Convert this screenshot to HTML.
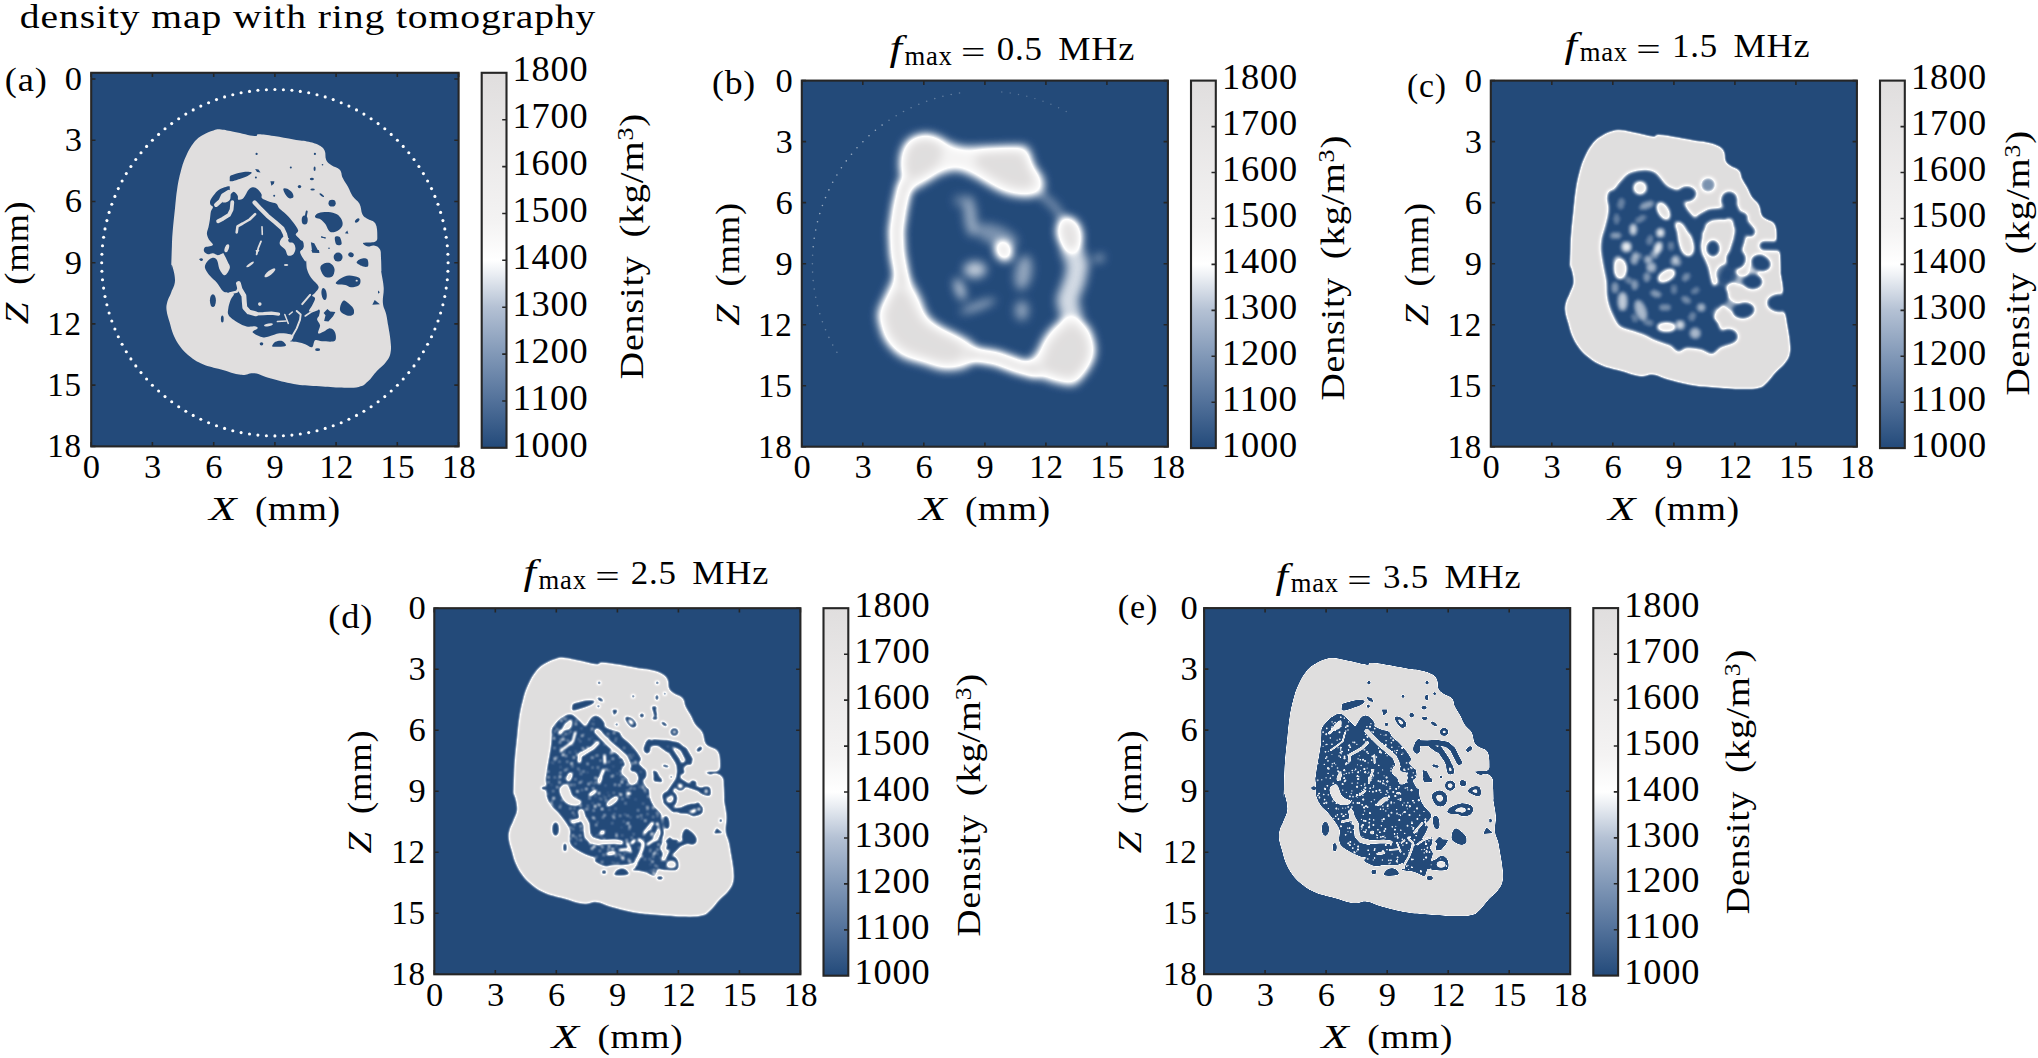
<!DOCTYPE html>
<html><head><meta charset="utf-8"><title>density map with ring tomography</title>
<style>html,body{margin:0;padding:0;background:#fff}svg{display:block}text{font-family:"Liberation Serif", serif;fill:#000;letter-spacing:0.8px}.bin .w{fill:#e0dede}.bin .k{fill:#234a7a}.bin .wl{stroke:#e0dede;fill:none;stroke-linecap:round;stroke-linejoin:round}.bin .kl{stroke:#234a7a;fill:none;stroke-linecap:round;stroke-linejoin:round}.bw .w,.bw .w circle{fill:#fff}.bwd .k{stroke:#000;stroke-width:2.2px;stroke-linejoin:round}.bwe .k{stroke:#000;stroke-width:1.6px;stroke-linejoin:round}.bw .k{fill:#000}.bw .wl{stroke:#fff;fill:none;stroke-linecap:round;stroke-linejoin:round}.bw .kl{stroke:#000;fill:none;stroke-linecap:round;stroke-linejoin:round}</style></head><body>
<svg width="2038" height="1058" viewBox="0 0 2038 1058">
<defs>
<linearGradient id="cb" x1="0" y1="1" x2="0" y2="0"><stop offset="0" stop-color="#234a7a"/><stop offset="0.125" stop-color="#52719a"/><stop offset="0.25" stop-color="#8198b7"/><stop offset="0.375" stop-color="#b4c1d4"/><stop offset="0.47" stop-color="#eef1f5"/><stop offset="0.5" stop-color="#ffffff"/><stop offset="0.6" stop-color="#f4f3f3"/><stop offset="1" stop-color="#e0dede"/></linearGradient>
<filter id="cmB" x="0" y="0" width="100%" height="100%" filterUnits="objectBoundingBox" color-interpolation-filters="sRGB"><feGaussianBlur stdDeviation="4.6"/><feComponentTransfer><feFuncR type="table" tableValues="0.1373 0.3529 0.5686 0.7843 1.0000 0.9696 0.9392 0.9088 0.8784"/><feFuncG type="table" tableValues="0.2902 0.4676 0.6451 0.8225 1.0000 0.9676 0.9353 0.9029 0.8706"/><feFuncB type="table" tableValues="0.4784 0.6088 0.7392 0.8696 1.0000 0.9676 0.9353 0.9029 0.8706"/></feComponentTransfer></filter>
<filter id="cmC" x="0" y="0" width="100%" height="100%" filterUnits="objectBoundingBox" color-interpolation-filters="sRGB"><feGaussianBlur stdDeviation="0.8"/><feComponentTransfer><feFuncR type="table" tableValues="0.1373 0.3529 0.5686 0.7843 1.0000 0.9696 0.9392 0.9088 0.8784"/><feFuncG type="table" tableValues="0.2902 0.4676 0.6451 0.8225 1.0000 0.9676 0.9353 0.9029 0.8706"/><feFuncB type="table" tableValues="0.4784 0.6088 0.7392 0.8696 1.0000 0.9676 0.9353 0.9029 0.8706"/></feComponentTransfer></filter>
<filter id="cmD" x="0" y="0" width="100%" height="100%" filterUnits="objectBoundingBox" color-interpolation-filters="sRGB"><feGaussianBlur stdDeviation="1.0"/><feComponentTransfer><feFuncR type="table" tableValues="0.1373 0.3529 0.5686 0.7843 1.0000 0.9696 0.9392 0.9088 0.8784"/><feFuncG type="table" tableValues="0.2902 0.4676 0.6451 0.8225 1.0000 0.9676 0.9353 0.9029 0.8706"/><feFuncB type="table" tableValues="0.4784 0.6088 0.7392 0.8696 1.0000 0.9676 0.9353 0.9029 0.8706"/></feComponentTransfer></filter>
<filter id="cmE" x="0" y="0" width="100%" height="100%" filterUnits="objectBoundingBox" color-interpolation-filters="sRGB"><feGaussianBlur stdDeviation="0.7"/><feComponentTransfer><feFuncR type="table" tableValues="0.1373 0.3529 0.5686 0.7843 1.0000 0.9696 0.9392 0.9088 0.8784"/><feFuncG type="table" tableValues="0.2902 0.4676 0.6451 0.8225 1.0000 0.9676 0.9353 0.9029 0.8706"/><feFuncB type="table" tableValues="0.4784 0.6088 0.7392 0.8696 1.0000 0.9676 0.9353 0.9029 0.8706"/></feComponentTransfer></filter>
<filter id="bl15" x="-10%" y="-10%" width="120%" height="120%"><feGaussianBlur stdDeviation="1.8"/></filter>
<clipPath id="clipa"><rect x="91.2" y="72.8" width="367.4" height="373.6"/></clipPath>
<clipPath id="clipb"><rect x="801.8" y="80.6" width="366.1" height="366.1"/></clipPath>
<clipPath id="clipc"><rect x="1490.8" y="80.6" width="366.1" height="366.1"/></clipPath>
<clipPath id="clipd"><rect x="434.3" y="608.2" width="366.1" height="366.1"/></clipPath>
<clipPath id="clipe"><rect x="1204.1" y="608.1" width="366.1" height="366.1"/></clipPath>
</defs>
<rect width="2038" height="1058" fill="#fff"/>
<text x="19.8" y="28.0" font-size="34.5" textLength="576.5" lengthAdjust="spacingAndGlyphs">density map with ring tomography</text>
<g id="panel-a">
<g clip-path="url(#clipa)">
<rect x="91.2" y="72.8" width="367.4" height="373.6" fill="#234a7a"/>
<g transform="translate(91.2 79.0)" style="--w:#e0dede;--k:#234a7a" class="bin">
<path class="w" d="M80.0 191.0C80.0 187.2 80.4 174.9 80.7 167.1C81.0 159.3 80.9 159.6 81.5 152.0C82.1 144.4 82.9 137.8 83.8 129.3C84.7 120.8 84.8 117.3 86.0 109.7C87.2 102.1 88.0 98.2 89.8 91.5C91.6 84.8 92.5 82.0 95.1 76.4C97.7 70.8 99.4 67.6 102.7 63.5C106.0 59.4 107.8 58.4 111.7 56.0C115.6 53.6 118.7 52.5 122.3 51.4C125.9 50.3 125.7 50.1 129.9 50.4C134.1 50.7 136.8 51.6 143.5 52.9C150.2 54.2 158.4 56.5 163.2 57.0C168.0 57.5 163.8 55.2 167.7 55.2C171.6 55.2 175.8 55.9 182.8 57.0C189.8 58.1 195.5 59.3 202.5 60.5C209.5 61.7 212.5 61.6 217.6 62.8C222.7 64.0 225.0 64.7 228.2 66.5C231.4 68.3 232.1 68.9 233.5 71.8C234.9 74.7 233.6 78.0 235.0 80.9C236.4 83.8 237.6 84.2 240.3 86.2C243.0 88.2 246.3 88.1 248.6 90.7C250.9 93.3 249.9 95.6 251.6 99.1C253.3 102.6 254.9 104.5 256.9 108.1C258.9 111.7 259.2 113.9 261.5 117.2C263.8 120.5 266.3 121.2 268.3 124.8C270.3 128.4 269.6 132.4 271.3 135.4C273.0 138.4 274.0 138.1 276.6 139.9C279.2 141.7 282.3 141.1 284.2 144.4C286.1 147.7 286.1 152.9 286.1 156.5C286.1 160.1 286.5 161.2 284.2 162.6C281.9 164.0 277.3 163.1 274.8 163.5C272.3 163.9 271.4 163.7 271.8 164.5C272.2 165.3 274.6 167.1 276.8 167.5C279.0 167.9 280.4 166.0 282.8 166.5C285.2 167.0 287.3 167.7 288.7 170.2C290.1 172.7 289.5 174.8 289.8 179.0C290.1 183.2 290.1 188.1 290.2 191.0C290.3 193.9 289.7 190.1 290.2 193.7C290.7 197.3 292.2 202.8 292.5 208.8C292.8 214.8 291.2 218.8 291.7 223.9C292.2 229.0 293.7 230.0 294.8 234.5C295.9 239.0 296.1 241.1 297.0 246.6C297.9 252.1 298.8 256.3 299.3 261.8C299.8 267.3 300.2 269.7 299.3 273.9C298.4 278.1 297.5 279.3 294.8 282.9C292.1 286.5 289.3 288.1 285.7 292.0C282.1 295.9 280.2 299.4 276.6 302.6C273.0 305.8 273.2 306.7 267.5 307.9C261.8 309.1 256.4 308.8 247.9 308.6C239.4 308.4 234.3 307.8 225.2 307.1C216.1 306.4 211.6 306.4 202.5 304.9C193.4 303.4 187.7 301.7 179.8 299.6C171.9 297.5 169.2 295.1 163.2 294.3C157.2 293.5 156.3 296.6 149.6 295.8C142.9 295.0 137.5 292.6 129.9 290.5C122.3 288.4 118.1 287.9 111.7 285.2C105.3 282.5 102.6 280.4 98.1 276.9C93.6 273.4 92.3 272.0 89.1 267.8C85.9 263.6 84.3 260.5 82.2 255.7C80.1 250.9 79.9 248.4 78.5 243.6C77.1 238.8 75.9 235.7 75.4 231.5C74.9 227.3 75.3 226.0 76.2 222.4C77.1 218.8 78.5 217.6 80.0 213.4C81.5 209.2 83.7 206.8 83.8 201.3C83.9 195.8 81.5 188.2 80.7 186.1C79.9 184.0 80.0 194.8 80.0 191.0Z"/>
<path class="k" d="M161.4 108.3C162.8 108.1 164.4 108.6 165.8 109.8C167.3 110.9 169.5 113.7 170.3 115.2C171.1 116.8 169.5 118.0 170.8 119.2C172.1 120.4 175.9 121.8 178.3 122.7C180.6 123.6 183.5 123.5 185.2 124.7C186.9 125.8 186.5 127.8 188.2 129.6C189.8 131.4 192.8 133.3 195.1 135.6C197.4 137.9 200.1 140.9 202.1 143.5C204.0 146.2 206.6 149.5 207.0 151.4C207.4 153.4 204.4 154.1 204.5 155.4C204.7 156.7 206.9 158.1 208.0 159.4C209.1 160.7 210.3 161.9 211.0 163.3C211.7 164.8 212.3 166.8 212.0 168.3C211.7 169.8 209.3 171.0 209.0 172.3C208.7 173.6 209.2 174.6 210.0 176.2C210.8 177.9 213.1 181.3 214.0 182.2C214.8 183.1 214.6 180.5 215.0 181.9C215.3 183.4 215.1 188.0 216.0 190.8C216.8 193.7 218.0 196.0 219.9 198.8C221.8 201.6 226.7 205.2 227.4 207.7C228.0 210.2 225.0 212.2 223.9 213.7C222.8 215.2 220.9 215.6 220.9 216.6C220.9 217.6 223.9 218.0 223.9 219.6C223.9 221.3 221.9 224.4 220.9 226.6C219.9 228.7 216.8 231.9 217.9 232.5C219.1 233.2 226.2 229.9 227.9 230.5C229.5 231.2 228.2 234.8 227.9 236.5C227.5 238.1 225.7 238.8 225.9 240.5C226.0 242.1 228.7 244.1 228.9 246.4C229.0 248.7 226.2 253.3 226.9 254.3C227.5 255.3 231.0 253.2 232.8 252.4C234.6 251.5 236.1 249.5 237.8 249.4C239.4 249.2 241.6 250.0 242.7 251.4C243.9 252.7 244.7 255.5 244.7 257.3C244.7 259.1 245.1 261.5 242.7 262.3C240.4 263.1 234.0 262.4 230.8 262.3C227.7 262.1 225.5 260.3 223.9 261.3C222.2 262.3 222.6 267.6 220.9 268.2C219.3 268.9 216.3 266.1 214.0 265.3C211.7 264.4 209.5 263.8 207.0 263.3C204.5 262.8 199.9 263.1 199.1 262.3C198.3 261.5 202.1 259.5 202.1 258.3C202.1 257.2 201.4 256.0 199.1 255.3C196.8 254.7 191.6 254.0 188.2 254.3C184.7 254.7 181.1 256.7 178.3 257.3C175.4 258.0 174.1 259.0 171.3 258.3C168.5 257.6 162.2 254.8 161.4 253.3C160.6 251.9 165.8 250.4 166.3 249.4C166.8 248.4 166.2 247.7 164.4 247.4C162.5 247.1 158.4 248.1 155.4 247.4C152.5 246.7 149.5 245.2 146.5 243.4C143.5 241.6 139.1 238.8 137.6 236.5C136.0 234.2 136.7 232.2 137.1 229.5C137.4 226.9 138.6 223.1 139.6 220.6C140.5 218.1 143.7 216.0 142.5 214.7C141.4 213.3 135.4 214.5 132.6 212.7C129.8 210.9 128.0 206.4 125.7 203.7C123.4 201.1 120.7 199.3 118.7 196.8C116.7 194.3 114.3 191.2 113.8 188.9C113.3 186.5 114.6 184.6 115.7 182.9C116.9 181.3 119.1 179.3 120.7 178.9C122.4 178.6 124.3 178.9 125.7 180.9C127.0 182.9 127.3 188.3 128.6 190.8C130.0 193.4 132.0 196.6 133.6 196.3C135.3 196.0 138.1 191.1 138.6 188.9C139.1 186.6 137.6 185.2 136.6 182.9C135.6 180.6 133.4 176.4 132.6 175.0C131.8 173.5 132.6 174.1 131.6 174.3C130.6 174.5 128.3 176.2 126.7 176.2C125.0 176.2 123.4 174.4 121.7 174.3C120.0 174.1 118.2 175.6 116.7 175.3C115.2 174.9 113.3 173.4 112.8 172.3C112.3 171.1 112.8 169.1 113.8 168.3C114.8 167.5 117.4 167.8 118.7 167.3C120.0 166.8 121.9 166.5 121.7 165.3C121.5 164.2 118.7 162.2 117.7 160.4C116.7 158.6 115.8 156.4 115.7 154.4C115.7 152.4 116.7 150.8 117.2 148.5C117.7 146.2 118.3 143.2 118.7 140.5C119.1 137.9 119.2 134.7 119.7 132.6C120.2 130.5 121.8 129.3 121.7 128.1C121.6 127.0 119.6 126.8 119.2 125.6C118.8 124.5 118.5 123.0 119.2 121.2C120.0 119.4 122.1 116.6 123.7 114.7C125.3 112.9 126.3 111.5 128.6 110.3C131.0 109.0 135.9 107.4 137.6 107.3C139.2 107.2 138.4 108.4 138.6 109.8C138.7 111.2 137.9 115.2 138.6 115.7C139.2 116.2 141.2 112.6 142.5 112.7C143.9 112.9 145.8 115.4 146.5 116.7C147.2 118.0 146.2 120.2 147.0 120.7C147.8 121.2 150.2 120.5 151.5 119.7C152.7 118.9 153.4 117.2 154.4 115.7C155.4 114.2 156.3 112.0 157.4 110.8C158.6 109.5 160.0 108.4 161.4 108.3Z"/>
<polyline class="wl" points="147.3,204.5 148.7,209.9 152.7,216.8 153.1,222.8 153.6,228.5 157.6,233.0 164.6,234.8" stroke-width="4.9"/>
<polyline class="wl" points="164.6,234.8 172.3,234.6 180.2,234.1 187.4,235.1" stroke-width="3.2"/>
<polyline class="wl" points="138.6,214.3 145.7,212.7 148.0,208.7" stroke-width="2.4"/>
<polyline class="wl" points="124.9,125.8 129.4,121.9 131.8,116.5 137.4,112.9" stroke-width="4.2"/>
<path class="w" d="M131.8 115.7C133.0 113.8 137.1 110.9 138.4 111.6C139.6 112.2 139.6 117.6 139.2 119.5C138.7 121.4 137.1 122.3 135.8 122.9C134.4 123.4 131.8 124.1 131.1 122.9C130.5 121.7 130.6 117.6 131.8 115.7Z"/>
<polyline class="wl" points="141.1,123.2 140.4,130.6 137.8,135.8 131.8,139.7 126.9,142.3" stroke-width="3.8"/>
<polyline class="wl" points="163.4,123.5 168.3,128.8 176.3,136.8 184.2,143.3 191.0,149.3 193.7,154.9 195.1,160.4" stroke-width="4.3"/>
<path class="w" d="M189.7 160.4C190.5 159.0 192.5 157.3 193.9 157.2C195.3 157.1 196.6 158.6 198.1 159.9C199.6 161.2 202.0 163.4 203.1 165.1C204.1 166.9 204.4 168.6 204.2 170.3C204.0 172.0 203.1 174.4 201.9 175.5C200.6 176.5 197.9 177.3 196.6 176.4C195.3 175.6 195.3 172.3 193.9 170.5C192.6 168.7 189.4 167.2 188.7 165.5C188.0 163.8 188.8 161.8 189.7 160.4Z"/>
<path class="k" d="M197.1 160.4C197.6 159.6 199.3 158.9 201.1 158.9C202.9 158.9 206.4 159.5 208.0 160.4C209.7 161.2 210.3 162.5 211.0 163.8C211.7 165.2 212.3 167.0 212.0 168.3C211.7 169.6 210.1 171.5 209.0 171.8C207.9 172.1 206.4 171.2 205.5 170.3C204.7 169.4 204.7 167.4 204.0 166.3C203.4 165.3 202.6 164.3 201.6 163.8C200.6 163.3 198.8 163.9 198.1 163.3C197.4 162.8 196.6 161.1 197.1 160.4Z"/>
<polyline class="wl" points="163.9,135.1 158.4,140.5 151.5,144.5 146.3,147.3 145.5,153.4" stroke-width="2.6"/>
<polyline class="wl" points="170.8,147.7 171.1,155.4" stroke-width="1.6"/>
<polyline class="wl" points="169.8,162.4 167.3,168.3 165.4,175.3" stroke-width="1.8"/>
<ellipse class="w" cx="135.6" cy="169.3" rx="2.0" ry="4.2" transform="rotate(20 135.6 169.3)"/>
<ellipse class="w" cx="158.9" cy="185.4" rx="4.5" ry="1.2" transform="rotate(-35 158.9 185.4)"/>
<ellipse class="w" cx="194.9" cy="185.9" rx="2.2" ry="1.0"/>
<ellipse class="w" cx="178.7" cy="193.8" rx="6.7" ry="2.2" transform="rotate(-38 178.7 193.8)"/>
<ellipse class="w" cx="168.6" cy="225.1" rx="1.8" ry="1.8"/>
<ellipse class="w" cx="177.3" cy="245.9" rx="4.5" ry="1.3" transform="rotate(-10 177.3 245.9)"/>
<polyline class="wl" points="211.0,225.1 218.9,215.8" stroke-width="2.0"/>
<polyline class="wl" points="214.0,237.0 219.9,233.0 226.4,230.5" stroke-width="1.6"/>
<polyline class="wl" points="205.5,232.0 209.5,235.5 208.8,240.9 205.5,249.4 201.6,256.3 199.6,260.8" stroke-width="1.9"/>
<polyline class="wl" points="193.6,235.5 197.1,244.4" stroke-width="1.5"/>
<polyline class="wl" points="186.2,242.6 195.1,241.9" stroke-width="1.5"/>
<polyline class="wl" points="201.1,233.0 198.1,235.5" stroke-width="1.5"/>
<polygon class="w" points="164.4,171.0 168.3,171.0 165.4,175.5"/>
<path class="k" d="M139.1 96.9C139.7 96.1 140.3 96.0 142.5 95.4C144.8 94.7 149.5 93.2 152.5 92.9C155.4 92.6 159.7 92.7 160.4 93.4C161.1 94.1 158.4 95.8 156.4 96.9C154.4 97.9 151.3 98.9 148.5 99.9C145.7 100.8 141.2 102.3 139.6 102.3C137.9 102.3 138.6 100.8 138.6 99.9C138.5 98.9 138.4 97.6 139.1 96.9Z"/>
<polygon class="k" points="163.9,89.9 167.3,90.4 169.3,93.4 165.8,92.9"/>
<ellipse class="k" cx="164.7" cy="98.4" rx="1.0" ry="1.0"/>
<polygon class="k" points="179.2,102.3 183.2,102.3 182.7,104.8 180.2,106.8"/>
<ellipse class="k" cx="183.0" cy="116.7" rx="1.0" ry="1.0"/>
<path class="k" d="M192.1 109.8C192.5 108.9 194.6 109.1 196.1 109.8C197.6 110.4 200.1 112.3 201.1 113.7C202.1 115.1 202.6 117.3 202.1 118.2C201.6 119.1 199.4 119.7 198.1 119.2C196.8 118.7 195.1 116.8 194.1 115.2C193.1 113.7 191.8 110.7 192.1 109.8Z"/>
<ellipse class="k" cx="199.6" cy="88.4" rx="1.0" ry="1.0"/>
<ellipse class="k" cx="223.4" cy="89.7" rx="1.0" ry="2.2"/>
<ellipse class="k" cx="220.7" cy="100.0" rx="2.0" ry="1.2"/>
<ellipse class="k" cx="208.3" cy="107.6" rx="1.7" ry="1.7"/>
<ellipse class="k" cx="221.4" cy="110.5" rx="2.2" ry="1.0"/>
<ellipse class="k" cx="230.6" cy="116.2" rx="2.8" ry="1.0" transform="rotate(35 230.6 116.2)"/>
<ellipse class="k" cx="231.3" cy="85.8" rx="0.8" ry="0.8"/>
<ellipse class="k" cx="213.5" cy="141.0" rx="3.0" ry="4.5"/>
<polyline class="kl" points="215.5,132.6 214.5,137.6" stroke-width="2.0"/>
<polyline class="kl" points="230.3,157.9 234.3,158.9" stroke-width="1.0"/>
<ellipse class="k" cx="237.8" cy="169.3" rx="0.8" ry="0.8"/>
<path class="k" d="M223.9 136.8C224.4 135.9 225.5 134.6 227.7 133.9C229.9 133.3 234.2 132.7 237.2 133.0C240.1 133.2 243.5 134.1 245.7 135.3C247.9 136.6 249.4 138.7 250.4 140.5C251.3 142.4 251.8 144.5 251.3 146.2C250.9 148.0 249.3 149.8 247.6 150.9C245.8 152.1 242.7 153.3 240.9 153.3C239.2 153.3 238.3 152.3 237.2 150.9C236.1 149.6 235.6 147.0 234.3 145.3C233.1 143.5 231.2 141.6 229.6 140.5C228.0 139.5 225.8 139.8 224.9 139.1C223.9 138.5 223.5 137.6 223.9 136.8Z"/>
<ellipse class="k" cx="240.9" cy="124.2" rx="3.6" ry="3.4"/>
<ellipse class="k" cx="266.0" cy="141.5" rx="2.8" ry="1.5" transform="rotate(-40 266.0 141.5)"/>
<polygon class="k" points="253.7,154.3 256.1,151.4 257.2,154.7"/>
<ellipse class="k" cx="232.0" cy="158.5" rx="2.4" ry="0.6" transform="rotate(15 232.0 158.5)"/>
<path class="k" d="M243.8 158.0C244.3 156.8 247.4 156.9 248.5 158.0C249.6 159.2 250.9 163.9 250.4 165.1C249.8 166.4 246.3 166.8 245.2 165.6C244.1 164.4 243.2 159.3 243.8 158.0Z"/>
<polygon class="k" points="219.7,163.2 223.0,164.2 228.2,174.1 221.1,173.6"/>
<ellipse class="k" cx="209.9" cy="166.1" rx="2.6" ry="4.7"/>
<polygon class="k" points="220.1,171.0 227.7,171.0 228.2,173.8 221.1,173.4"/>
<ellipse class="k" cx="246.9" cy="178.1" rx="4.5" ry="4.5"/>
<ellipse class="k" cx="259.8" cy="175.7" rx="2.8" ry="2.4" transform="rotate(20 259.8 175.7)"/>
<path class="k" d="M265.5 183.8C265.0 182.5 267.6 180.6 269.3 180.0C271.0 179.3 274.6 178.8 275.9 180.0C277.2 181.2 277.5 185.8 276.9 187.1C276.2 188.3 274.0 188.1 272.1 187.5C270.2 187.0 266.0 185.0 265.5 183.8Z"/>
<path class="k" d="M229.1 189.0C229.0 186.8 230.8 185.5 232.4 184.7C234.1 183.9 237.2 183.4 239.0 184.2C240.9 185.1 243.0 187.7 243.3 189.9C243.6 192.1 242.6 196.2 240.9 197.5C239.3 198.7 235.3 198.9 233.4 197.5C231.4 196.0 229.3 191.1 229.1 189.0Z"/>
<path class="k" d="M244.7 203.6C245.2 202.6 247.2 200.5 249.4 199.4C251.6 198.2 255.0 196.7 257.9 196.5C260.9 196.4 265.5 197.5 267.4 198.4C269.3 199.4 269.3 200.9 269.3 202.2C269.3 203.5 269.0 205.4 267.4 206.4C265.8 207.5 262.0 208.4 259.8 208.3C257.6 208.3 256.4 206.4 254.2 206.0C252.0 205.5 248.2 205.9 246.6 205.5C245.0 205.1 244.2 204.6 244.7 203.6Z"/>
<ellipse class="w" cx="265.5" cy="201.7" rx="1.1" ry="0.9"/>
<ellipse class="k" cx="232.9" cy="215.0" rx="2.6" ry="6.1" transform="rotate(-8 232.9 215.0)"/>
<path class="k" d="M251.3 222.5C252.2 221.6 252.4 221.0 254.2 222.0C255.9 223.1 260.3 226.6 261.7 228.7C263.1 230.7 263.0 233.0 262.7 234.3C262.4 235.7 261.1 236.4 259.8 236.7C258.6 237.0 256.8 236.9 255.1 236.2C253.4 235.5 250.5 233.9 249.4 232.4C248.4 231.0 248.7 229.4 249.0 227.7C249.3 226.1 250.5 223.5 251.3 222.5Z"/>
<polygon class="k" points="283.5,221.1 288.7,225.3 281.1,225.8"/>
<polygon class="k" points="286.8,211.6 288.7,213.2 286.8,214.7"/>
<polygon class="k" points="236.2,230.1 239.0,232.4 244.2,232.9 241.9,237.2 237.2,242.4 232.9,241.9 234.3,236.2 232.4,233.9"/>
<ellipse class="k" cx="121.7" cy="221.6" rx="3.0" ry="6.4"/>
<ellipse class="k" cx="131.1" cy="240.0" rx="1.4" ry="3.5"/>
<ellipse class="k" cx="170.3" cy="264.8" rx="1.8" ry="1.6"/>
<path class="k" d="M181.2 266.2C181.6 265.4 182.7 263.5 184.2 262.8C185.7 262.0 188.5 261.5 190.2 261.8C191.8 262.1 193.5 263.8 194.1 264.8C194.7 265.7 195.6 266.7 193.6 267.2C191.6 267.7 184.3 267.9 182.2 267.7C180.2 267.6 180.9 267.1 181.2 266.2Z"/>
<ellipse class="k" cx="226.4" cy="270.7" rx="2.5" ry="1.4"/>
<ellipse class="k" cx="109.8" cy="180.4" rx="1.8" ry="0.8"/>
<ellipse class="k" cx="110.2" cy="180.7" rx="1.4" ry="1.2"/>
<ellipse class="k" cx="165.4" cy="74.9" rx="1.1" ry="1.1"/>
<ellipse class="k" cx="223.7" cy="74.9" rx="1.1" ry="1.1"/>
</g>
<g fill="#fff" opacity="1.0"><circle cx="448.1" cy="262.7" r="1.55"/><circle cx="447.9" cy="271.2" r="1.55"/><circle cx="447.3" cy="279.7" r="1.55"/><circle cx="446.2" cy="288.1" r="1.55"/><circle cx="444.8" cy="296.5" r="1.55"/><circle cx="442.9" cy="304.8" r="1.55"/><circle cx="440.6" cy="313.0" r="1.55"/><circle cx="438.0" cy="321.0" r="1.55"/><circle cx="434.9" cy="329.0" r="1.55"/><circle cx="431.5" cy="336.7" r="1.55"/><circle cx="427.6" cy="344.3" r="1.55"/><circle cx="423.4" cy="351.7" r="1.55"/><circle cx="418.9" cy="358.9" r="1.55"/><circle cx="414.0" cy="365.9" r="1.55"/><circle cx="408.8" cy="372.6" r="1.55"/><circle cx="403.2" cy="379.0" r="1.55"/><circle cx="397.4" cy="385.2" r="1.55"/><circle cx="391.2" cy="391.0" r="1.55"/><circle cx="384.8" cy="396.6" r="1.55"/><circle cx="378.1" cy="401.8" r="1.55"/><circle cx="371.1" cy="406.7" r="1.55"/><circle cx="363.9" cy="411.2" r="1.55"/><circle cx="356.5" cy="415.4" r="1.55"/><circle cx="348.9" cy="419.3" r="1.55"/><circle cx="341.2" cy="422.7" r="1.55"/><circle cx="333.2" cy="425.8" r="1.55"/><circle cx="325.2" cy="428.4" r="1.55"/><circle cx="317.0" cy="430.7" r="1.55"/><circle cx="308.7" cy="432.6" r="1.55"/><circle cx="300.3" cy="434.0" r="1.55"/><circle cx="291.9" cy="435.1" r="1.55"/><circle cx="283.4" cy="435.7" r="1.55"/><circle cx="274.9" cy="435.9" r="1.55"/><circle cx="266.4" cy="435.7" r="1.55"/><circle cx="257.9" cy="435.1" r="1.55"/><circle cx="249.5" cy="434.0" r="1.55"/><circle cx="241.1" cy="432.6" r="1.55"/><circle cx="232.8" cy="430.7" r="1.55"/><circle cx="224.6" cy="428.4" r="1.55"/><circle cx="216.5" cy="425.8" r="1.55"/><circle cx="208.6" cy="422.7" r="1.55"/><circle cx="200.8" cy="419.3" r="1.55"/><circle cx="193.2" cy="415.4" r="1.55"/><circle cx="185.8" cy="411.2" r="1.55"/><circle cx="178.7" cy="406.7" r="1.55"/><circle cx="171.7" cy="401.8" r="1.55"/><circle cx="165.0" cy="396.6" r="1.55"/><circle cx="158.6" cy="391.0" r="1.55"/><circle cx="152.4" cy="385.2" r="1.55"/><circle cx="146.6" cy="379.0" r="1.55"/><circle cx="141.0" cy="372.6" r="1.55"/><circle cx="135.8" cy="365.9" r="1.55"/><circle cx="130.9" cy="358.9" r="1.55"/><circle cx="126.3" cy="351.7" r="1.55"/><circle cx="122.1" cy="344.3" r="1.55"/><circle cx="118.3" cy="336.7" r="1.55"/><circle cx="114.9" cy="329.0" r="1.55"/><circle cx="111.8" cy="321.0" r="1.55"/><circle cx="109.1" cy="313.0" r="1.55"/><circle cx="106.9" cy="304.8" r="1.55"/><circle cx="105.0" cy="296.5" r="1.55"/><circle cx="103.6" cy="288.1" r="1.55"/><circle cx="102.5" cy="279.7" r="1.55"/><circle cx="101.9" cy="271.2" r="1.55"/><circle cx="101.7" cy="262.7" r="1.55"/><circle cx="101.9" cy="254.2" r="1.55"/><circle cx="102.5" cy="245.7" r="1.55"/><circle cx="103.6" cy="237.3" r="1.55"/><circle cx="105.0" cy="228.9" r="1.55"/><circle cx="106.9" cy="220.6" r="1.55"/><circle cx="109.1" cy="212.4" r="1.55"/><circle cx="111.8" cy="204.3" r="1.55"/><circle cx="114.9" cy="196.4" r="1.55"/><circle cx="118.3" cy="188.6" r="1.55"/><circle cx="122.1" cy="181.0" r="1.55"/><circle cx="126.3" cy="173.6" r="1.55"/><circle cx="130.9" cy="166.5" r="1.55"/><circle cx="135.8" cy="159.5" r="1.55"/><circle cx="141.0" cy="152.8" r="1.55"/><circle cx="146.6" cy="146.4" r="1.55"/><circle cx="152.4" cy="140.2" r="1.55"/><circle cx="158.6" cy="134.4" r="1.55"/><circle cx="165.0" cy="128.8" r="1.55"/><circle cx="171.7" cy="123.6" r="1.55"/><circle cx="178.7" cy="118.7" r="1.55"/><circle cx="185.8" cy="114.1" r="1.55"/><circle cx="193.2" cy="109.9" r="1.55"/><circle cx="200.8" cy="106.1" r="1.55"/><circle cx="208.6" cy="102.7" r="1.55"/><circle cx="216.5" cy="99.6" r="1.55"/><circle cx="224.6" cy="96.9" r="1.55"/><circle cx="232.8" cy="94.7" r="1.55"/><circle cx="241.1" cy="92.8" r="1.55"/><circle cx="249.5" cy="91.4" r="1.55"/><circle cx="257.9" cy="90.3" r="1.55"/><circle cx="266.4" cy="89.7" r="1.55"/><circle cx="274.9" cy="89.5" r="1.55"/><circle cx="283.4" cy="89.7" r="1.55"/><circle cx="291.9" cy="90.3" r="1.55"/><circle cx="300.3" cy="91.4" r="1.55"/><circle cx="308.7" cy="92.8" r="1.55"/><circle cx="317.0" cy="94.7" r="1.55"/><circle cx="325.2" cy="96.9" r="1.55"/><circle cx="333.2" cy="99.6" r="1.55"/><circle cx="341.2" cy="102.7" r="1.55"/><circle cx="348.9" cy="106.1" r="1.55"/><circle cx="356.5" cy="109.9" r="1.55"/><circle cx="363.9" cy="114.1" r="1.55"/><circle cx="371.1" cy="118.7" r="1.55"/><circle cx="378.1" cy="123.6" r="1.55"/><circle cx="384.8" cy="128.8" r="1.55"/><circle cx="391.2" cy="134.4" r="1.55"/><circle cx="397.4" cy="140.2" r="1.55"/><circle cx="403.2" cy="146.4" r="1.55"/><circle cx="408.8" cy="152.8" r="1.55"/><circle cx="414.0" cy="159.5" r="1.55"/><circle cx="418.9" cy="166.5" r="1.55"/><circle cx="423.4" cy="173.6" r="1.55"/><circle cx="427.6" cy="181.0" r="1.55"/><circle cx="431.5" cy="188.6" r="1.55"/><circle cx="434.9" cy="196.4" r="1.55"/><circle cx="438.0" cy="204.3" r="1.55"/><circle cx="440.6" cy="212.4" r="1.55"/><circle cx="442.9" cy="220.6" r="1.55"/><circle cx="444.8" cy="228.9" r="1.55"/><circle cx="446.2" cy="237.3" r="1.55"/><circle cx="447.3" cy="245.7" r="1.55"/><circle cx="447.9" cy="254.2" r="1.55"/></g>
</g>
<path d="M91.2 446.4v-4.3M91.2 72.8v4.3M91.2 79.0h4.3M458.6 79.0h-4.3M152.4 446.4v-4.3M152.4 72.8v4.3M91.2 140.2h4.3M458.6 140.2h-4.3M213.7 446.4v-4.3M213.7 72.8v4.3M91.2 201.5h4.3M458.6 201.5h-4.3M274.9 446.4v-4.3M274.9 72.8v4.3M91.2 262.7h4.3M458.6 262.7h-4.3M336.1 446.4v-4.3M336.1 72.8v4.3M91.2 323.9h4.3M458.6 323.9h-4.3M397.3 446.4v-4.3M397.3 72.8v4.3M91.2 385.1h4.3M458.6 385.1h-4.3M458.6 446.4v-4.3M458.6 72.8v4.3M91.2 446.4h4.3M458.6 446.4h-4.3" stroke="#262626" stroke-width="1.6" fill="none"/>
<rect x="91.2" y="72.8" width="367.4" height="373.6" fill="none" stroke="#262626" stroke-width="2.1"/>
<text x="64.7" y="89.9" font-size="34.5">0</text>
<text x="82.8" y="477.9" font-size="34.5">0</text>
<text x="64.7" y="151.1" font-size="34.5">3</text>
<text x="144.0" y="477.9" font-size="34.5">3</text>
<text x="64.7" y="212.4" font-size="34.5">6</text>
<text x="205.3" y="477.9" font-size="34.5">6</text>
<text x="64.7" y="273.6" font-size="34.5">9</text>
<text x="266.5" y="477.9" font-size="34.5">9</text>
<text x="47.3" y="334.8" font-size="34.5" textLength="34.6" lengthAdjust="spacingAndGlyphs">12</text>
<text x="319.4" y="477.9" font-size="34.5" textLength="34.6" lengthAdjust="spacingAndGlyphs">12</text>
<text x="47.3" y="396.0" font-size="34.5" textLength="34.6" lengthAdjust="spacingAndGlyphs">15</text>
<text x="380.6" y="477.9" font-size="34.5" textLength="34.6" lengthAdjust="spacingAndGlyphs">15</text>
<text x="47.3" y="457.3" font-size="34.5" textLength="34.6" lengthAdjust="spacingAndGlyphs">18</text>
<text x="441.9" y="477.9" font-size="34.5" textLength="34.6" lengthAdjust="spacingAndGlyphs">18</text>
<text x="208.9" y="519.9" font-size="34.5" font-style="italic" textLength="28.5" lengthAdjust="spacingAndGlyphs">X</text>
<text x="254.9" y="519.9" font-size="34.5" textLength="86" lengthAdjust="spacingAndGlyphs">(mm)</text>
<text transform="translate(28.2 324.2) rotate(-90)" font-size="34.5" font-style="italic" textLength="22.5" lengthAdjust="spacingAndGlyphs">Z</text>
<text transform="translate(28.2 284.8) rotate(-90)" font-size="34.5" textLength="84.4" lengthAdjust="spacingAndGlyphs">(mm)</text>
<text x="4.8" y="91.4" font-size="34.5" textLength="42.8" lengthAdjust="spacingAndGlyphs">(a)</text>
<rect x="481.7" y="72.8" width="24.8" height="375.0" fill="url(#cb)" stroke="#262626" stroke-width="2.1"/>
<text x="512.6" y="81.4" font-size="35.3" textLength="76.0" lengthAdjust="spacingAndGlyphs">1800</text>
<text x="512.6" y="128.3" font-size="35.3" textLength="76.0" lengthAdjust="spacingAndGlyphs">1700</text>
<text x="512.6" y="175.2" font-size="35.3" textLength="76.0" lengthAdjust="spacingAndGlyphs">1600</text>
<text x="512.6" y="222.1" font-size="35.3" textLength="76.0" lengthAdjust="spacingAndGlyphs">1500</text>
<text x="512.6" y="268.9" font-size="35.3" textLength="76.0" lengthAdjust="spacingAndGlyphs">1400</text>
<text x="512.6" y="315.8" font-size="35.3" textLength="76.0" lengthAdjust="spacingAndGlyphs">1300</text>
<text x="512.6" y="362.7" font-size="35.3" textLength="76.0" lengthAdjust="spacingAndGlyphs">1200</text>
<text x="512.6" y="409.6" font-size="35.3" textLength="76.0" lengthAdjust="spacingAndGlyphs">1100</text>
<text x="512.6" y="456.5" font-size="35.3" textLength="76.0" lengthAdjust="spacingAndGlyphs">1000</text>
<path d="M506.5 119.7h-4.3M506.5 166.6h-4.3M506.5 213.5h-4.3M506.5 260.3h-4.3M506.5 307.2h-4.3M506.5 354.1h-4.3M506.5 401.0h-4.3" stroke="#262626" stroke-width="1.6" fill="none"/>
<text transform="translate(642.5 379.3) rotate(-90)" font-size="34.5" textLength="124.0" lengthAdjust="spacingAndGlyphs">Density</text>
<text transform="translate(642.5 237.5) rotate(-90)" font-size="34.5" textLength="124.7" lengthAdjust="spacingAndGlyphs">(kg/m<tspan font-size="23" dy="-9.5">3</tspan><tspan dy="9.5">)</tspan></text>
</g>
<g id="panel-b">
<g clip-path="url(#clipb)">
<g filter="url(#cmB)">
<rect x="761.8" y="40.6" width="446.1" height="446.1" fill="#000"/>
<g transform="translate(801.8 80.6)" class="bw">
<path opacity="0.66" class="w" d="M99.0 74.8C100.2 68.7 102.8 63.2 106.6 59.7C110.4 56.1 116.7 54.1 121.7 53.6C126.8 53.1 132.3 55.0 136.9 56.6C141.4 58.3 144.4 61.7 149.0 63.4C153.5 65.2 157.8 66.7 164.1 67.2C170.4 67.7 177.7 66.7 186.8 66.5C195.8 66.2 212.0 65.3 218.5 65.7C225.1 66.1 223.8 65.4 226.1 68.7C228.4 72.0 229.9 80.8 232.1 85.4C234.4 89.9 238.2 92.2 239.7 96.0C241.2 99.7 243.0 104.8 241.2 108.1C239.4 111.3 234.9 114.7 229.1 115.6C223.3 116.5 213.0 115.0 206.4 113.3C199.9 111.7 195.6 108.8 189.8 105.8C184.0 102.8 177.4 98.0 171.6 95.2C165.8 92.4 160.5 89.5 155.0 89.1C149.5 88.8 143.7 90.8 138.4 92.9C133.1 95.1 128.3 99.4 123.2 102.0C118.2 104.6 112.0 109.8 108.1 108.8C104.2 107.8 101.3 101.6 99.8 96.0C98.3 90.3 97.9 80.8 99.0 74.8Z"/>
<path class="w" d="M104.3 74.8C105.5 70.6 107.5 66.1 110.4 63.4C113.3 60.8 117.9 59.3 121.7 58.9C125.5 58.5 129.9 59.4 133.1 61.2C136.2 62.9 140.0 66.0 140.6 69.5C141.3 73.0 139.7 78.4 136.9 82.3C134.0 86.2 127.8 90.3 123.2 92.9C118.7 95.6 112.9 99.0 109.6 98.2C106.3 97.5 104.5 92.3 103.6 88.4C102.7 84.5 103.2 78.9 104.3 74.8Z"/>
<path class="w" d="M174.7 76.3C176.9 74.6 180.1 73.2 186.8 72.5C193.4 71.8 208.8 71.4 214.7 72.1C220.7 72.7 220.2 73.4 222.3 76.3C224.5 79.1 226.0 85.4 227.6 89.1C229.2 92.9 231.6 96.3 232.1 99.0C232.6 101.6 232.5 103.6 230.6 105.0C228.7 106.5 224.7 107.8 220.8 107.7C216.9 107.7 211.8 106.4 207.2 104.7C202.5 103.0 197.2 100.1 192.8 97.5C188.4 94.9 184.0 91.7 180.7 89.1C177.4 86.6 174.2 84.5 173.2 82.3C172.1 80.2 172.4 77.9 174.7 76.3Z"/>
<polyline class="wl" points="102.8,105.0 97.8,127.7 94.5,150.4 95.7,173.1 97.8,184.5 100.6,199.7" stroke-width="12" opacity="0.95"/>
<path opacity="0.66" class="w" d="M99.0 189.1C101.8 190.1 106.3 197.6 109.6 202.7C112.9 207.7 116.2 214.0 118.7 219.3C121.2 224.6 121.7 230.2 124.8 234.4C127.8 238.7 131.8 241.7 136.9 245.0C141.9 248.3 149.5 251.1 155.0 254.1C160.5 257.1 167.1 259.6 170.1 263.2C173.2 266.7 174.2 271.5 173.2 275.3C172.1 279.1 169.1 283.6 164.1 285.9C159.0 288.1 150.0 289.4 142.9 288.9C135.8 288.4 129.0 285.1 121.7 282.8C114.4 280.6 105.3 279.1 99.0 275.3C92.7 271.5 87.6 265.9 83.9 260.2C80.3 254.4 78.2 245.5 77.1 240.5C76.0 235.4 75.8 234.4 77.1 229.9C78.4 225.4 82.0 218.8 84.7 213.3C87.3 207.7 90.6 200.7 93.0 196.6C95.4 192.6 96.3 188.1 99.0 189.1Z"/>
<path class="w" d="M97.5 207.2C100.3 206.7 103.8 211.0 106.6 214.8C109.4 218.6 111.6 225.4 114.2 229.9C116.7 234.4 117.9 238.3 121.7 242.0C125.5 245.7 131.6 248.8 136.9 251.8C142.1 254.9 149.2 257.3 153.5 260.2C157.8 263.0 161.8 266.2 162.6 269.2C163.3 272.3 161.3 276.3 158.0 278.3C154.7 280.3 148.7 281.7 142.9 281.3C137.1 280.9 129.8 278.2 123.2 276.0C116.7 273.9 109.1 271.9 103.6 268.5C98.0 265.1 93.2 260.5 90.0 255.6C86.7 250.7 84.8 243.3 83.9 239.0C83.0 234.7 83.7 233.4 84.7 229.9C85.7 226.4 87.8 221.6 90.0 217.8C92.1 214.0 94.8 207.7 97.5 207.2Z"/>
<polyline class="wl" points="170.1,273.8 194.3,277.5 217.0,285.9 233.7,290.4" stroke-width="12" opacity="0.95"/>
<path opacity="0.66" class="w" d="M247.3 251.1C250.3 247.8 255.1 242.5 259.4 240.5C263.7 238.5 268.7 238.2 273.0 239.0C277.3 239.7 281.9 241.5 285.1 245.0C288.2 248.6 290.6 255.1 291.9 260.2C293.1 265.2 293.8 270.2 292.6 275.3C291.5 280.3 288.1 285.9 285.1 290.4C282.1 294.9 277.5 300.2 274.5 302.5C271.5 304.8 271.5 304.5 266.9 304.0C262.4 303.5 253.6 301.7 247.3 299.5C241.0 297.2 232.9 292.9 229.1 290.4C225.3 287.9 223.6 287.4 224.6 284.4C225.6 281.3 232.4 276.3 235.2 272.3C237.9 268.2 239.2 263.7 241.2 260.2C243.2 256.6 244.2 254.4 247.3 251.1Z"/>
<path class="w" d="M253.3 257.1C255.8 254.4 259.1 249.8 262.4 248.1C265.7 246.3 269.8 245.9 273.0 246.5C276.1 247.2 279.2 249.1 281.3 251.8C283.4 254.6 285.1 259.3 285.8 263.2C286.6 267.1 286.8 271.2 285.8 275.3C284.8 279.3 282.2 284.0 279.8 287.4C277.4 290.8 273.9 294.2 271.5 295.7C269.1 297.2 268.9 297.0 265.4 296.5C261.9 295.9 254.6 294.4 250.3 292.7C246.0 290.9 240.8 288.8 239.7 285.9C238.6 283.0 242.2 278.8 243.5 275.3C244.7 271.7 245.6 267.7 247.3 264.7C248.9 261.7 250.8 259.9 253.3 257.1Z"/>
<polyline class="wl" points="270.0,237.5 265.4,219.3 273.0,199.7 276.0,184.5 270.0,169.4" stroke-width="21" opacity="0.4"/>
<ellipse class="w" cx="267.7" cy="153.4" rx="11.3" ry="16.6" transform="rotate(-15 267.7 153.4)" opacity="0.9"/>
<polyline class="wl" points="239.7,114.1 253.3,126.2 260.9,138.3" stroke-width="6" opacity="0.25"/>
<ellipse class="w" cx="201.9" cy="170.1" rx="7.6" ry="9.8" transform="rotate(-25 201.9 170.1)" opacity="0.85"/>
<ellipse class="w" cx="173.2" cy="189.1" rx="11.3" ry="8.3" opacity="0.36"/>
<ellipse class="w" cx="158.0" cy="208.7" rx="4.2" ry="11.3" transform="rotate(-20 158.0 208.7)" opacity="0.4"/>
<ellipse class="w" cx="176.2" cy="225.4" rx="18.9" ry="3.6" transform="rotate(-20 176.2 225.4)" opacity="0.28"/>
<ellipse class="w" cx="220.0" cy="229.9" rx="6.8" ry="9.8" opacity="0.25"/>
<ellipse class="w" cx="221.6" cy="192.1" rx="8.3" ry="17.4" transform="rotate(10 221.6 192.1)" opacity="0.26"/>
<ellipse class="w" cx="297.2" cy="177.7" rx="5.3" ry="3.0" transform="rotate(-20 297.2 177.7)" opacity="0.35"/>
<ellipse class="w" cx="168.6" cy="135.3" rx="6.1" ry="20.4" transform="rotate(-5 168.6 135.3)" opacity="0.27"/>
<ellipse class="w" cx="194.3" cy="154.9" rx="22.7" ry="9.8" transform="rotate(20 194.3 154.9)" opacity="0.2"/>
<ellipse class="w" cx="158.0" cy="120.2" rx="6.1" ry="6.1" opacity="0.15"/>
</g></g><g fill="#fff"><circle cx="836.9" cy="352.3" r="0.8" opacity="0.3"/><circle cx="832.7" cy="345.0" r="0.8" opacity="0.3"/><circle cx="828.9" cy="337.4" r="0.8" opacity="0.3"/><circle cx="825.5" cy="329.7" r="0.8" opacity="0.3"/><circle cx="822.4" cy="321.8" r="0.8" opacity="0.3"/><circle cx="819.8" cy="313.7" r="0.8" opacity="0.3"/><circle cx="817.5" cy="305.6" r="0.8" opacity="0.3"/><circle cx="815.7" cy="297.3" r="0.8" opacity="0.3"/><circle cx="814.2" cy="289.0" r="0.8" opacity="0.3"/><circle cx="813.2" cy="280.6" r="0.8" opacity="0.3"/><circle cx="812.6" cy="272.1" r="0.8" opacity="0.3"/><circle cx="812.4" cy="263.7" r="0.8" opacity="0.3"/><circle cx="812.6" cy="255.2" r="0.8" opacity="0.3"/><circle cx="813.2" cy="246.8" r="0.8" opacity="0.55"/><circle cx="814.2" cy="238.3" r="0.8" opacity="0.55"/><circle cx="815.7" cy="230.0" r="0.8" opacity="0.55"/><circle cx="817.5" cy="221.7" r="0.8" opacity="0.55"/><circle cx="819.8" cy="213.6" r="0.8" opacity="0.55"/><circle cx="822.4" cy="205.5" r="0.8" opacity="0.55"/><circle cx="825.5" cy="197.6" r="0.8" opacity="0.55"/><circle cx="828.9" cy="189.9" r="0.8" opacity="0.55"/><circle cx="832.7" cy="182.3" r="0.8" opacity="0.55"/><circle cx="836.9" cy="175.0" r="0.8" opacity="0.55"/><circle cx="841.4" cy="167.8" r="0.8" opacity="0.55"/><circle cx="846.3" cy="160.9" r="0.8" opacity="0.55"/><circle cx="851.5" cy="154.2" r="0.8" opacity="0.55"/><circle cx="857.0" cy="147.8" r="0.8" opacity="0.55"/><circle cx="862.9" cy="141.7" r="0.8" opacity="0.55"/><circle cx="869.0" cy="135.8" r="0.8" opacity="0.55"/><circle cx="875.4" cy="130.3" r="0.8" opacity="0.55"/><circle cx="882.1" cy="125.1" r="0.8" opacity="0.55"/><circle cx="889.0" cy="120.2" r="0.8" opacity="0.3"/><circle cx="896.2" cy="115.7" r="0.8" opacity="0.3"/><circle cx="903.5" cy="111.5" r="0.8" opacity="0.3"/><circle cx="911.1" cy="107.7" r="0.8" opacity="0.3"/><circle cx="918.8" cy="104.3" r="0.8" opacity="0.3"/><circle cx="926.7" cy="101.2" r="0.8" opacity="0.3"/><circle cx="934.8" cy="98.6" r="0.8" opacity="0.3"/><circle cx="942.9" cy="96.3" r="0.8" opacity="0.3"/><circle cx="951.2" cy="94.5" r="0.8" opacity="0.3"/><circle cx="959.5" cy="93.0" r="0.8" opacity="0.3"/><circle cx="1001.8" cy="92.0" r="0.7" opacity="0.25"/><circle cx="1010.2" cy="93.0" r="0.7" opacity="0.25"/><circle cx="1018.5" cy="94.5" r="0.7" opacity="0.25"/><circle cx="1026.8" cy="96.3" r="0.7" opacity="0.25"/><circle cx="1034.9" cy="98.6" r="0.7" opacity="0.25"/><circle cx="1043.0" cy="101.2" r="0.7" opacity="0.25"/><circle cx="1050.9" cy="104.3" r="0.7" opacity="0.25"/><circle cx="1058.6" cy="107.7" r="0.7" opacity="0.25"/><circle cx="1066.2" cy="111.5" r="0.7" opacity="0.25"/></g>
</g>
<path d="M801.8 446.7v-4.3M801.8 80.6v4.3M801.8 80.6h4.3M1167.9 80.6h-4.3M862.8 446.7v-4.3M862.8 80.6v4.3M801.8 141.6h4.3M1167.9 141.6h-4.3M923.8 446.7v-4.3M923.8 80.6v4.3M801.8 202.6h4.3M1167.9 202.6h-4.3M984.9 446.7v-4.3M984.9 80.6v4.3M801.8 263.7h4.3M1167.9 263.7h-4.3M1045.9 446.7v-4.3M1045.9 80.6v4.3M801.8 324.7h4.3M1167.9 324.7h-4.3M1106.9 446.7v-4.3M1106.9 80.6v4.3M801.8 385.7h4.3M1167.9 385.7h-4.3M1167.9 446.7v-4.3M1167.9 80.6v4.3M801.8 446.7h4.3M1167.9 446.7h-4.3" stroke="#262626" stroke-width="1.6" fill="none"/>
<rect x="801.8" y="80.6" width="366.1" height="366.1" fill="none" stroke="#262626" stroke-width="2.1"/>
<text x="775.4" y="91.5" font-size="34.5">0</text>
<text x="793.4" y="478.2" font-size="34.5">0</text>
<text x="775.4" y="152.5" font-size="34.5">3</text>
<text x="854.4" y="478.2" font-size="34.5">3</text>
<text x="775.4" y="213.5" font-size="34.5">6</text>
<text x="915.4" y="478.2" font-size="34.5">6</text>
<text x="775.4" y="274.6" font-size="34.5">9</text>
<text x="976.5" y="478.2" font-size="34.5">9</text>
<text x="758.0" y="335.6" font-size="34.5" textLength="34.6" lengthAdjust="spacingAndGlyphs">12</text>
<text x="1029.2" y="478.2" font-size="34.5" textLength="34.6" lengthAdjust="spacingAndGlyphs">12</text>
<text x="758.0" y="396.6" font-size="34.5" textLength="34.6" lengthAdjust="spacingAndGlyphs">15</text>
<text x="1090.2" y="478.2" font-size="34.5" textLength="34.6" lengthAdjust="spacingAndGlyphs">15</text>
<text x="758.0" y="457.6" font-size="34.5" textLength="34.6" lengthAdjust="spacingAndGlyphs">18</text>
<text x="1151.2" y="478.2" font-size="34.5" textLength="34.6" lengthAdjust="spacingAndGlyphs">18</text>
<text x="918.9" y="520.2" font-size="34.5" font-style="italic" textLength="28.5" lengthAdjust="spacingAndGlyphs">X</text>
<text x="964.9" y="520.2" font-size="34.5" textLength="86" lengthAdjust="spacingAndGlyphs">(mm)</text>
<text transform="translate(738.8 325.8) rotate(-90)" font-size="34.5" font-style="italic" textLength="22.5" lengthAdjust="spacingAndGlyphs">Z</text>
<text transform="translate(738.8 286.4) rotate(-90)" font-size="34.5" textLength="84.4" lengthAdjust="spacingAndGlyphs">(mm)</text>
<text x="712.0" y="93.6" font-size="34.5" textLength="44.0" lengthAdjust="spacingAndGlyphs">(b)</text>
<text x="889.4" y="60.3" font-size="35.5" font-style="italic" textLength="13.5" lengthAdjust="spacingAndGlyphs">f</text>
<text x="904.5" y="64.8" font-size="27.5" textLength="48.2" lengthAdjust="spacingAndGlyphs">max</text>
<text x="961.1" y="63.2" font-size="32" textLength="25.5" lengthAdjust="spacingAndGlyphs">=</text>
<text x="996.7" y="60.3" font-size="34.5" textLength="46.0" lengthAdjust="spacingAndGlyphs">0.5</text>
<text x="1058.2" y="60.3" font-size="34.5" textLength="77.0" lengthAdjust="spacingAndGlyphs">MHz</text>
<rect x="1191.0" y="80.6" width="24.8" height="367.5" fill="url(#cb)" stroke="#262626" stroke-width="2.1"/>
<text x="1221.9" y="89.2" font-size="35.3" textLength="76.0" lengthAdjust="spacingAndGlyphs">1800</text>
<text x="1221.9" y="135.2" font-size="35.3" textLength="76.0" lengthAdjust="spacingAndGlyphs">1700</text>
<text x="1221.9" y="181.1" font-size="35.3" textLength="76.0" lengthAdjust="spacingAndGlyphs">1600</text>
<text x="1221.9" y="227.1" font-size="35.3" textLength="76.0" lengthAdjust="spacingAndGlyphs">1500</text>
<text x="1221.9" y="273.0" font-size="35.3" textLength="76.0" lengthAdjust="spacingAndGlyphs">1400</text>
<text x="1221.9" y="319.0" font-size="35.3" textLength="76.0" lengthAdjust="spacingAndGlyphs">1300</text>
<text x="1221.9" y="364.9" font-size="35.3" textLength="76.0" lengthAdjust="spacingAndGlyphs">1200</text>
<text x="1221.9" y="410.9" font-size="35.3" textLength="76.0" lengthAdjust="spacingAndGlyphs">1100</text>
<text x="1221.9" y="456.8" font-size="35.3" textLength="76.0" lengthAdjust="spacingAndGlyphs">1000</text>
<path d="M1215.8 126.6h-4.3M1215.8 172.5h-4.3M1215.8 218.5h-4.3M1215.8 264.4h-4.3M1215.8 310.4h-4.3M1215.8 356.3h-4.3M1215.8 402.3h-4.3" stroke="#262626" stroke-width="1.6" fill="none"/>
<text transform="translate(1343.9 400.6) rotate(-90)" font-size="34.5" textLength="123.7" lengthAdjust="spacingAndGlyphs">Density</text>
<text transform="translate(1343.9 259.2) rotate(-90)" font-size="34.5" textLength="124.4" lengthAdjust="spacingAndGlyphs">(kg/m<tspan font-size="23" dy="-9.5">3</tspan><tspan dy="9.5">)</tspan></text>
</g>
<g id="panel-c">
<g clip-path="url(#clipc)">
<g filter="url(#cmC)">
<rect x="1450.8" y="40.6" width="446.1" height="446.1" fill="#000"/>
<g transform="translate(1490.8 80.6)" class="bw">
<g transform="scale(0.9966)"><path class="w" d="M80.0 191.0C80.0 187.2 80.4 174.9 80.7 167.1C81.0 159.3 80.9 159.6 81.5 152.0C82.1 144.4 82.9 137.8 83.8 129.3C84.7 120.8 84.8 117.3 86.0 109.7C87.2 102.1 88.0 98.2 89.8 91.5C91.6 84.8 92.5 82.0 95.1 76.4C97.7 70.8 99.4 67.6 102.7 63.5C106.0 59.4 107.8 58.4 111.7 56.0C115.6 53.6 118.7 52.5 122.3 51.4C125.9 50.3 125.7 50.1 129.9 50.4C134.1 50.7 136.8 51.6 143.5 52.9C150.2 54.2 158.4 56.5 163.2 57.0C168.0 57.5 163.8 55.2 167.7 55.2C171.6 55.2 175.8 55.9 182.8 57.0C189.8 58.1 195.5 59.3 202.5 60.5C209.5 61.7 212.5 61.6 217.6 62.8C222.7 64.0 225.0 64.7 228.2 66.5C231.4 68.3 232.1 68.9 233.5 71.8C234.9 74.7 233.6 78.0 235.0 80.9C236.4 83.8 237.6 84.2 240.3 86.2C243.0 88.2 246.3 88.1 248.6 90.7C250.9 93.3 249.9 95.6 251.6 99.1C253.3 102.6 254.9 104.5 256.9 108.1C258.9 111.7 259.2 113.9 261.5 117.2C263.8 120.5 266.3 121.2 268.3 124.8C270.3 128.4 269.6 132.4 271.3 135.4C273.0 138.4 274.0 138.1 276.6 139.9C279.2 141.7 282.3 141.1 284.2 144.4C286.1 147.7 286.1 152.9 286.1 156.5C286.1 160.1 286.5 161.2 284.2 162.6C281.9 164.0 277.3 163.1 274.8 163.5C272.3 163.9 271.4 163.7 271.8 164.5C272.2 165.3 274.6 167.1 276.8 167.5C279.0 167.9 280.4 166.0 282.8 166.5C285.2 167.0 287.3 167.7 288.7 170.2C290.1 172.7 289.5 174.8 289.8 179.0C290.1 183.2 290.1 188.1 290.2 191.0C290.3 193.9 289.7 190.1 290.2 193.7C290.7 197.3 292.2 202.8 292.5 208.8C292.8 214.8 291.2 218.8 291.7 223.9C292.2 229.0 293.7 230.0 294.8 234.5C295.9 239.0 296.1 241.1 297.0 246.6C297.9 252.1 298.8 256.3 299.3 261.8C299.8 267.3 300.2 269.7 299.3 273.9C298.4 278.1 297.5 279.3 294.8 282.9C292.1 286.5 289.3 288.1 285.7 292.0C282.1 295.9 280.2 299.4 276.6 302.6C273.0 305.8 273.2 306.7 267.5 307.9C261.8 309.1 256.4 308.8 247.9 308.6C239.4 308.4 234.3 307.8 225.2 307.1C216.1 306.4 211.6 306.4 202.5 304.9C193.4 303.4 187.7 301.7 179.8 299.6C171.9 297.5 169.2 295.1 163.2 294.3C157.2 293.5 156.3 296.6 149.6 295.8C142.9 295.0 137.5 292.6 129.9 290.5C122.3 288.4 118.1 287.9 111.7 285.2C105.3 282.5 102.6 280.4 98.1 276.9C93.6 273.4 92.3 272.0 89.1 267.8C85.9 263.6 84.3 260.5 82.2 255.7C80.1 250.9 79.9 248.4 78.5 243.6C77.1 238.8 75.9 235.7 75.4 231.5C74.9 227.3 75.3 226.0 76.2 222.4C77.1 218.8 78.5 217.6 80.0 213.4C81.5 209.2 83.7 206.8 83.8 201.3C83.9 195.8 81.5 188.2 80.7 186.1C79.9 184.0 80.0 194.8 80.0 191.0Z"/></g>
<g filter="url(#bl15)">
<path stroke="#000" stroke-width="4.0" stroke-linejoin="round" class="k" d="M117.4 117.9C117.4 115.5 117.8 113.2 118.9 111.8C120.1 110.4 122.3 111.2 124.2 109.6C126.1 107.9 128.0 104.5 130.3 102.0C132.6 99.5 135.1 96.2 137.9 94.4C140.6 92.7 143.9 92.0 146.9 91.4C150.0 90.8 153.2 90.4 156.0 90.7C158.8 90.9 161.5 91.8 163.6 92.9C165.6 94.1 166.3 95.4 168.1 97.5C169.9 99.5 172.1 103.1 174.2 105.0C176.2 106.9 177.9 107.7 180.2 108.8C182.5 109.9 186.0 109.9 187.8 111.8C189.5 113.7 189.5 117.3 190.8 120.2C192.0 123.0 193.3 126.2 195.3 129.2C197.3 132.3 200.6 135.5 202.9 138.3C205.2 141.1 207.7 143.1 208.9 145.9C210.2 148.6 210.5 151.7 210.5 154.9C210.5 158.2 208.9 162.2 208.9 165.5C208.9 168.8 209.9 172.7 210.5 174.6C211.0 176.5 211.0 174.8 212.0 177.0C213.0 179.1 214.9 182.5 216.5 187.6C218.1 192.6 219.0 202.9 221.8 207.2C224.6 211.5 231.2 211.0 233.1 213.3C235.0 215.5 234.7 218.8 233.1 220.8C231.6 222.8 226.3 223.3 224.1 225.4C221.8 227.4 219.3 230.2 219.5 232.9C219.8 235.7 223.8 239.0 225.6 242.0C227.3 245.0 227.3 248.6 230.1 251.1C232.9 253.6 240.4 255.4 242.2 257.1C244.0 258.9 243.0 260.2 240.7 261.7C238.4 263.2 231.9 264.4 228.6 266.2C225.3 268.0 224.1 272.0 221.0 272.3C218.0 272.5 214.7 268.7 210.5 267.7C206.2 266.7 199.1 265.8 195.3 266.2C191.5 266.6 190.3 270.4 187.8 270.0C185.2 269.6 184.0 265.8 180.2 263.9C176.4 262.0 169.1 260.3 165.1 258.6C161.0 257.0 159.5 255.6 156.0 254.1C152.5 252.6 148.2 251.1 143.9 249.6C139.6 248.1 133.6 247.3 130.3 245.0C127.0 242.8 126.0 239.2 124.2 236.0C122.5 232.7 120.8 228.9 119.7 225.4C118.6 221.8 117.9 219.1 117.4 214.8C116.9 210.5 117.3 204.7 116.7 199.7C116.0 194.6 114.5 189.6 113.7 184.5C112.8 179.5 111.6 173.8 111.4 169.4C111.1 165.0 111.5 161.6 112.1 158.0C112.8 154.3 114.2 151.2 115.2 147.4C116.2 143.6 117.6 138.8 118.2 135.3C118.8 131.7 119.1 129.1 118.9 126.2C118.8 123.3 117.4 120.3 117.4 117.9Z"/>
<path opacity="0.015" class="w" d="M117.4 117.9C117.4 115.5 117.8 113.2 118.9 111.8C120.1 110.4 122.3 111.2 124.2 109.6C126.1 107.9 128.0 104.5 130.3 102.0C132.6 99.5 135.1 96.2 137.9 94.4C140.6 92.7 143.9 92.0 146.9 91.4C150.0 90.8 153.2 90.4 156.0 90.7C158.8 90.9 161.5 91.8 163.6 92.9C165.6 94.1 166.3 95.4 168.1 97.5C169.9 99.5 172.1 103.1 174.2 105.0C176.2 106.9 177.9 107.7 180.2 108.8C182.5 109.9 186.0 109.9 187.8 111.8C189.5 113.7 189.5 117.3 190.8 120.2C192.0 123.0 193.3 126.2 195.3 129.2C197.3 132.3 200.6 135.5 202.9 138.3C205.2 141.1 207.7 143.1 208.9 145.9C210.2 148.6 210.5 151.7 210.5 154.9C210.5 158.2 208.9 162.2 208.9 165.5C208.9 168.8 209.9 172.7 210.5 174.6C211.0 176.5 211.0 174.8 212.0 177.0C213.0 179.1 214.9 182.5 216.5 187.6C218.1 192.6 219.0 202.9 221.8 207.2C224.6 211.5 231.2 211.0 233.1 213.3C235.0 215.5 234.7 218.8 233.1 220.8C231.6 222.8 226.3 223.3 224.1 225.4C221.8 227.4 219.3 230.2 219.5 232.9C219.8 235.7 223.8 239.0 225.6 242.0C227.3 245.0 227.3 248.6 230.1 251.1C232.9 253.6 240.4 255.4 242.2 257.1C244.0 258.9 243.0 260.2 240.7 261.7C238.4 263.2 231.9 264.4 228.6 266.2C225.3 268.0 224.1 272.0 221.0 272.3C218.0 272.5 214.7 268.7 210.5 267.7C206.2 266.7 199.1 265.8 195.3 266.2C191.5 266.6 190.3 270.4 187.8 270.0C185.2 269.6 184.0 265.8 180.2 263.9C176.4 262.0 169.1 260.3 165.1 258.6C161.0 257.0 159.5 255.6 156.0 254.1C152.5 252.6 148.2 251.1 143.9 249.6C139.6 248.1 133.6 247.3 130.3 245.0C127.0 242.8 126.0 239.2 124.2 236.0C122.5 232.7 120.8 228.9 119.7 225.4C118.6 221.8 117.9 219.1 117.4 214.8C116.9 210.5 117.3 204.7 116.7 199.7C116.0 194.6 114.5 189.6 113.7 184.5C112.8 179.5 111.6 173.8 111.4 169.4C111.1 165.0 111.5 161.6 112.1 158.0C112.8 154.3 114.2 151.2 115.2 147.4C116.2 143.6 117.6 138.8 118.2 135.3C118.8 131.7 119.1 129.1 118.9 126.2C118.8 123.3 117.4 120.3 117.4 117.9Z"/>
<ellipse class="w" cx="172.6" cy="130.4" rx="3.6" ry="7.9" transform="rotate(-30 172.6 130.4)"/>
<path class="w" d="M185.9 142.8C186.4 141.9 189.2 143.5 190.8 145.1C192.4 146.7 193.9 150.0 195.3 152.2C196.8 154.4 198.6 155.5 199.6 158.3C200.6 161.0 201.6 166.0 201.4 168.6C201.1 171.1 199.5 173.6 198.0 173.8C196.6 174.1 194.1 172.2 192.8 170.1C191.4 167.9 190.5 164.2 189.7 161.0C189.0 157.8 188.8 153.7 188.2 150.7C187.6 147.7 185.5 143.8 185.9 142.8Z"/>
<ellipse class="w" cx="149.2" cy="107.3" rx="5.0" ry="5.0" opacity="0.87"/>
<ellipse class="w" cx="142.4" cy="148.9" rx="2.7" ry="4.7" opacity="0.4"/>
<ellipse class="w" cx="169.6" cy="152.2" rx="3.2" ry="3.5" opacity="0.45"/>
<ellipse class="w" cx="135.6" cy="166.3" rx="4.1" ry="4.1" opacity="0.45"/>
<ellipse class="w" cx="167.3" cy="167.3" rx="3.0" ry="5.6" transform="rotate(20 167.3 167.3)" opacity="0.45"/>
<ellipse class="w" cx="127.3" cy="182.2" rx="3.2" ry="5.6" opacity="0.45"/>
<ellipse class="w" cx="125.0" cy="154.9" rx="4.8" ry="2.3" opacity="0.25"/>
<ellipse class="w" cx="156.0" cy="124.7" rx="7.1" ry="2.6" transform="rotate(-20 156.0 124.7)" opacity="0.25"/>
<ellipse class="w" cx="157.5" cy="179.1" rx="3.2" ry="3.2" opacity="0.3"/>
<ellipse class="w" cx="183.2" cy="180.7" rx="2.6" ry="3.8" opacity="0.25"/>
<ellipse class="w" cx="129.5" cy="188.3" rx="4.7" ry="8.6" opacity="0.92"/>
<ellipse class="w" cx="175.7" cy="195.1" rx="7.9" ry="3.8" transform="rotate(-30 175.7 195.1)" opacity="0.92"/>
<ellipse class="w" cx="160.5" cy="186.8" rx="4.1" ry="4.1" opacity="0.3"/>
<ellipse class="w" cx="131.8" cy="220.8" rx="4.1" ry="8.6" opacity="0.35"/>
<ellipse class="w" cx="150.0" cy="229.9" rx="4.7" ry="10.1" transform="rotate(-20 150.0 229.9)" opacity="0.3"/>
<ellipse class="w" cx="175.7" cy="246.5" rx="7.9" ry="3.2" opacity="0.87"/>
<ellipse class="w" cx="189.3" cy="244.3" rx="3.6" ry="3.6" opacity="0.4"/>
<ellipse class="w" cx="204.4" cy="252.6" rx="4.7" ry="4.7" opacity="0.3"/>
<ellipse class="w" cx="210.5" cy="226.9" rx="3.3" ry="3.3" opacity="0.3"/>
<ellipse class="w" cx="163.6" cy="173.9" rx="3.2" ry="3.2" opacity="0.25"/>
<ellipse class="w" cx="143.9" cy="178.5" rx="2.9" ry="4.8" transform="rotate(10 143.9 178.5)" opacity="0.28"/>
<ellipse class="w" cx="186.3" cy="180.0" rx="2.6" ry="4.8" transform="rotate(-20 186.3 180.0)" opacity="0.25"/>
<ellipse class="w" cx="165.1" cy="213.3" rx="4.8" ry="2.6" transform="rotate(20 165.1 213.3)" opacity="0.23"/>
<ellipse class="w" cx="143.9" cy="204.2" rx="2.6" ry="4.4" opacity="0.23"/>
<ellipse class="w" cx="195.3" cy="219.3" rx="4.4" ry="2.4" transform="rotate(30 195.3 219.3)" opacity="0.2"/>
<ellipse class="w" cx="156.0" cy="196.6" rx="2.4" ry="4.1" opacity="0.23"/>
<ellipse class="w" cx="174.2" cy="226.9" rx="5.6" ry="2.4" opacity="0.2"/>
<ellipse class="w" cx="124.2" cy="207.2" rx="2.6" ry="4.8" opacity="0.23"/>
<ellipse class="w" cx="195.3" cy="196.6" rx="2.6" ry="4.1" transform="rotate(40 195.3 196.6)" opacity="0.2"/>
<ellipse class="w" cx="130.3" cy="123.2" rx="2.6" ry="5.3" transform="rotate(10 130.3 123.2)" opacity="0.17"/>
<ellipse class="w" cx="150.0" cy="138.3" rx="5.3" ry="2.3" transform="rotate(-30 150.0 138.3)" opacity="0.17"/>
<ellipse class="w" cx="125.8" cy="138.3" rx="2.3" ry="4.5" opacity="0.15"/>
<ellipse class="w" cx="159.0" cy="159.5" rx="2.3" ry="4.5" transform="rotate(15 159.0 159.5)" opacity="0.17"/>
<ellipse class="w" cx="146.9" cy="174.6" rx="4.5" ry="2.3" transform="rotate(30 146.9 174.6)" opacity="0.15"/>
<ellipse class="w" cx="180.2" cy="165.5" rx="2.3" ry="4.1" opacity="0.15"/>
<ellipse class="w" cx="137.9" cy="199.7" rx="4.1" ry="2.3" transform="rotate(40 137.9 199.7)" opacity="0.17"/>
<ellipse class="w" cx="183.2" cy="208.7" rx="2.3" ry="4.4" opacity="0.15"/>
<ellipse class="w" cx="204.4" cy="210.2" rx="4.1" ry="2.3" transform="rotate(-30 204.4 210.2)" opacity="0.15"/>
<ellipse class="w" cx="201.4" cy="236.0" rx="2.6" ry="4.1" transform="rotate(20 201.4 236.0)" opacity="0.17"/>
<ellipse class="w" cx="157.5" cy="242.0" rx="4.5" ry="2.3" transform="rotate(10 157.5 242.0)" opacity="0.17"/>
<ellipse class="w" cx="143.9" cy="237.5" rx="2.3" ry="3.8" transform="rotate(-20 143.9 237.5)" opacity="0.15"/>
<ellipse class="k" cx="196.1" cy="113.3" rx="10.3" ry="8.7"/>
<polyline class="kl" points="187.8,114.1 196.1,113.5" stroke-width="11.6"/>
<ellipse class="k" cx="217.3" cy="104.3" rx="7.9" ry="7.9" opacity="0.8"/>
<ellipse class="k" cx="238.4" cy="119.7" rx="9.1" ry="9.9"/>
<polyline class="kl" points="239.2,121.7 243.0,130.0 244.5,135.3" stroke-width="12.6"/>
<polyline class="kl" points="208.2,147.4 210.5,139.1 219.5,134.1 230.1,133.2 240.7,134.1 251.3,137.1" stroke-width="13.1"/>
<polyline class="kl" points="246.8,138.3 250.1,148.9 248.3,159.5 244.9,170.1 243.0,178.4" stroke-width="13.1"/>
<polyline class="kl" points="251.3,141.3 259.6,151.2" stroke-width="11.6"/>
<ellipse class="k" cx="222.2" cy="167.8" rx="7.6" ry="9.1"/>
<polyline class="kl" points="273.2,165.1 292.1,165.5" stroke-width="11.1"/>
<ellipse class="w" cx="238.4" cy="140.6" rx="1.5" ry="1.5" opacity="0.8"/>
<ellipse class="k" cx="245.2" cy="178.5" rx="10.7" ry="10.7"/>
<ellipse class="k" cx="270.2" cy="182.3" rx="11.1" ry="8.8" transform="rotate(25 270.2 182.3)"/>
<ellipse class="k" cx="235.4" cy="193.6" rx="11.0" ry="11.0" opacity="0.85"/>
<ellipse class="k" cx="261.9" cy="201.2" rx="10.7" ry="8.4"/>
<ellipse class="k" cx="227.1" cy="214.8" rx="11.1" ry="11.1"/>
<ellipse class="k" cx="252.8" cy="229.9" rx="11.9" ry="8.8" transform="rotate(-10 252.8 229.9)"/>
<ellipse class="k" cx="289.1" cy="222.3" rx="13.7" ry="10.0"/>
<ellipse class="k" cx="237.7" cy="255.9" rx="10.3" ry="8.5"/>
<polyline class="kl" points="245.2,178.5 235.4,193.6 227.1,214.8 224.1,229.9" stroke-width="11.6" opacity="0.85"/>
<polyline class="kl" points="235.4,193.6 248.3,199.7 261.9,201.2" stroke-width="10.6" opacity="0.7"/>
<polyline class="kl" points="227.1,214.8 240.7,225.4 252.8,229.9" stroke-width="10.6" opacity="0.75"/>
<polyline class="kl" points="270.2,182.3 261.9,189.1 261.9,201.2" stroke-width="10.1" opacity="0.6"/>
<ellipse class="w" cx="230.1" cy="234.4" rx="3.9" ry="4.8" opacity="1"/>
</g>
</g></g>
</g>
<path d="M1490.8 446.7v-4.3M1490.8 80.6v4.3M1490.8 80.6h4.3M1856.9 80.6h-4.3M1551.8 446.7v-4.3M1551.8 80.6v4.3M1490.8 141.6h4.3M1856.9 141.6h-4.3M1612.8 446.7v-4.3M1612.8 80.6v4.3M1490.8 202.6h4.3M1856.9 202.6h-4.3M1673.9 446.7v-4.3M1673.9 80.6v4.3M1490.8 263.7h4.3M1856.9 263.7h-4.3M1734.9 446.7v-4.3M1734.9 80.6v4.3M1490.8 324.7h4.3M1856.9 324.7h-4.3M1795.9 446.7v-4.3M1795.9 80.6v4.3M1490.8 385.7h4.3M1856.9 385.7h-4.3M1856.9 446.7v-4.3M1856.9 80.6v4.3M1490.8 446.7h4.3M1856.9 446.7h-4.3" stroke="#262626" stroke-width="1.6" fill="none"/>
<rect x="1490.8" y="80.6" width="366.1" height="366.1" fill="none" stroke="#262626" stroke-width="2.1"/>
<text x="1464.8" y="91.5" font-size="34.5">0</text>
<text x="1482.4" y="478.2" font-size="34.5">0</text>
<text x="1464.8" y="152.5" font-size="34.5">3</text>
<text x="1543.4" y="478.2" font-size="34.5">3</text>
<text x="1464.8" y="213.5" font-size="34.5">6</text>
<text x="1604.4" y="478.2" font-size="34.5">6</text>
<text x="1464.8" y="274.6" font-size="34.5">9</text>
<text x="1665.5" y="478.2" font-size="34.5">9</text>
<text x="1447.4" y="335.6" font-size="34.5" textLength="34.6" lengthAdjust="spacingAndGlyphs">12</text>
<text x="1718.2" y="478.2" font-size="34.5" textLength="34.6" lengthAdjust="spacingAndGlyphs">12</text>
<text x="1447.4" y="396.6" font-size="34.5" textLength="34.6" lengthAdjust="spacingAndGlyphs">15</text>
<text x="1779.2" y="478.2" font-size="34.5" textLength="34.6" lengthAdjust="spacingAndGlyphs">15</text>
<text x="1447.4" y="457.6" font-size="34.5" textLength="34.6" lengthAdjust="spacingAndGlyphs">18</text>
<text x="1840.2" y="478.2" font-size="34.5" textLength="34.6" lengthAdjust="spacingAndGlyphs">18</text>
<text x="1607.9" y="520.2" font-size="34.5" font-style="italic" textLength="28.5" lengthAdjust="spacingAndGlyphs">X</text>
<text x="1653.9" y="520.2" font-size="34.5" textLength="86" lengthAdjust="spacingAndGlyphs">(mm)</text>
<text transform="translate(1427.8 325.8) rotate(-90)" font-size="34.5" font-style="italic" textLength="22.5" lengthAdjust="spacingAndGlyphs">Z</text>
<text transform="translate(1427.8 286.4) rotate(-90)" font-size="34.5" textLength="84.4" lengthAdjust="spacingAndGlyphs">(mm)</text>
<text x="1407.0" y="96.8" font-size="34.5" textLength="39.8" lengthAdjust="spacingAndGlyphs">(c)</text>
<text x="1564.6" y="56.9" font-size="35.5" font-style="italic" textLength="13.5" lengthAdjust="spacingAndGlyphs">f</text>
<text x="1579.7" y="61.4" font-size="27.5" textLength="48.2" lengthAdjust="spacingAndGlyphs">max</text>
<text x="1636.3" y="59.8" font-size="32" textLength="25.5" lengthAdjust="spacingAndGlyphs">=</text>
<text x="1671.9" y="56.9" font-size="34.5" textLength="46.0" lengthAdjust="spacingAndGlyphs">1.5</text>
<text x="1733.4" y="56.9" font-size="34.5" textLength="77.0" lengthAdjust="spacingAndGlyphs">MHz</text>
<rect x="1880.0" y="80.6" width="24.8" height="367.5" fill="url(#cb)" stroke="#262626" stroke-width="2.1"/>
<text x="1910.9" y="89.2" font-size="35.3" textLength="76.0" lengthAdjust="spacingAndGlyphs">1800</text>
<text x="1910.9" y="135.2" font-size="35.3" textLength="76.0" lengthAdjust="spacingAndGlyphs">1700</text>
<text x="1910.9" y="181.1" font-size="35.3" textLength="76.0" lengthAdjust="spacingAndGlyphs">1600</text>
<text x="1910.9" y="227.1" font-size="35.3" textLength="76.0" lengthAdjust="spacingAndGlyphs">1500</text>
<text x="1910.9" y="273.0" font-size="35.3" textLength="76.0" lengthAdjust="spacingAndGlyphs">1400</text>
<text x="1910.9" y="319.0" font-size="35.3" textLength="76.0" lengthAdjust="spacingAndGlyphs">1300</text>
<text x="1910.9" y="364.9" font-size="35.3" textLength="76.0" lengthAdjust="spacingAndGlyphs">1200</text>
<text x="1910.9" y="410.9" font-size="35.3" textLength="76.0" lengthAdjust="spacingAndGlyphs">1100</text>
<text x="1910.9" y="456.8" font-size="35.3" textLength="76.0" lengthAdjust="spacingAndGlyphs">1000</text>
<path d="M1904.8 126.6h-4.3M1904.8 172.5h-4.3M1904.8 218.5h-4.3M1904.8 264.4h-4.3M1904.8 310.4h-4.3M1904.8 356.3h-4.3M1904.8 402.3h-4.3" stroke="#262626" stroke-width="1.6" fill="none"/>
<text transform="translate(2029.2 395.5) rotate(-90)" font-size="34.5" textLength="123.5" lengthAdjust="spacingAndGlyphs">Density</text>
<text transform="translate(2029.2 254.2) rotate(-90)" font-size="34.5" textLength="124.2" lengthAdjust="spacingAndGlyphs">(kg/m<tspan font-size="23" dy="-9.5">3</tspan><tspan dy="9.5">)</tspan></text>
</g>
<g id="panel-d">
<g clip-path="url(#clipd)">
<g filter="url(#cmD)">
<rect x="394.3" y="568.2" width="446.1" height="446.1" fill="#000"/>
<g transform="translate(434.3 608.2) scale(0.9966)" class="bw bwd">
<path class="w" d="M80.0 191.0C80.0 187.2 80.4 174.9 80.7 167.1C81.0 159.3 80.9 159.6 81.5 152.0C82.1 144.4 82.9 137.8 83.8 129.3C84.7 120.8 84.8 117.3 86.0 109.7C87.2 102.1 88.0 98.2 89.8 91.5C91.6 84.8 92.5 82.0 95.1 76.4C97.7 70.8 99.4 67.6 102.7 63.5C106.0 59.4 107.8 58.4 111.7 56.0C115.6 53.6 118.7 52.5 122.3 51.4C125.9 50.3 125.7 50.1 129.9 50.4C134.1 50.7 136.8 51.6 143.5 52.9C150.2 54.2 158.4 56.5 163.2 57.0C168.0 57.5 163.8 55.2 167.7 55.2C171.6 55.2 175.8 55.9 182.8 57.0C189.8 58.1 195.5 59.3 202.5 60.5C209.5 61.7 212.5 61.6 217.6 62.8C222.7 64.0 225.0 64.7 228.2 66.5C231.4 68.3 232.1 68.9 233.5 71.8C234.9 74.7 233.6 78.0 235.0 80.9C236.4 83.8 237.6 84.2 240.3 86.2C243.0 88.2 246.3 88.1 248.6 90.7C250.9 93.3 249.9 95.6 251.6 99.1C253.3 102.6 254.9 104.5 256.9 108.1C258.9 111.7 259.2 113.9 261.5 117.2C263.8 120.5 266.3 121.2 268.3 124.8C270.3 128.4 269.6 132.4 271.3 135.4C273.0 138.4 274.0 138.1 276.6 139.9C279.2 141.7 282.3 141.1 284.2 144.4C286.1 147.7 286.1 152.9 286.1 156.5C286.1 160.1 286.5 161.2 284.2 162.6C281.9 164.0 277.3 163.1 274.8 163.5C272.3 163.9 271.4 163.7 271.8 164.5C272.2 165.3 274.6 167.1 276.8 167.5C279.0 167.9 280.4 166.0 282.8 166.5C285.2 167.0 287.3 167.7 288.7 170.2C290.1 172.7 289.5 174.8 289.8 179.0C290.1 183.2 290.1 188.1 290.2 191.0C290.3 193.9 289.7 190.1 290.2 193.7C290.7 197.3 292.2 202.8 292.5 208.8C292.8 214.8 291.2 218.8 291.7 223.9C292.2 229.0 293.7 230.0 294.8 234.5C295.9 239.0 296.1 241.1 297.0 246.6C297.9 252.1 298.8 256.3 299.3 261.8C299.8 267.3 300.2 269.7 299.3 273.9C298.4 278.1 297.5 279.3 294.8 282.9C292.1 286.5 289.3 288.1 285.7 292.0C282.1 295.9 280.2 299.4 276.6 302.6C273.0 305.8 273.2 306.7 267.5 307.9C261.8 309.1 256.4 308.8 247.9 308.6C239.4 308.4 234.3 307.8 225.2 307.1C216.1 306.4 211.6 306.4 202.5 304.9C193.4 303.4 187.7 301.7 179.8 299.6C171.9 297.5 169.2 295.1 163.2 294.3C157.2 293.5 156.3 296.6 149.6 295.8C142.9 295.0 137.5 292.6 129.9 290.5C122.3 288.4 118.1 287.9 111.7 285.2C105.3 282.5 102.6 280.4 98.1 276.9C93.6 273.4 92.3 272.0 89.1 267.8C85.9 263.6 84.3 260.5 82.2 255.7C80.1 250.9 79.9 248.4 78.5 243.6C77.1 238.8 75.9 235.7 75.4 231.5C74.9 227.3 75.3 226.0 76.2 222.4C77.1 218.8 78.5 217.6 80.0 213.4C81.5 209.2 83.7 206.8 83.8 201.3C83.9 195.8 81.5 188.2 80.7 186.1C79.9 184.0 80.0 194.8 80.0 191.0Z"/>
<path class="k" d="M161.4 108.3C162.8 108.1 164.4 108.6 165.8 109.8C167.3 110.9 169.5 113.7 170.3 115.2C171.1 116.8 169.5 118.0 170.8 119.2C172.1 120.4 175.9 121.8 178.3 122.7C180.6 123.6 183.5 123.5 185.2 124.7C186.9 125.8 186.5 127.8 188.2 129.6C189.8 131.4 192.8 133.3 195.1 135.6C197.4 137.9 200.1 140.9 202.1 143.5C204.0 146.2 206.6 149.5 207.0 151.4C207.4 153.4 204.4 154.1 204.5 155.4C204.7 156.7 206.9 158.1 208.0 159.4C209.1 160.7 210.3 161.9 211.0 163.3C211.7 164.8 212.3 166.8 212.0 168.3C211.7 169.8 209.3 171.0 209.0 172.3C208.7 173.6 209.2 174.6 210.0 176.2C210.8 177.9 213.1 181.3 214.0 182.2C214.8 183.1 214.6 180.5 215.0 181.9C215.3 183.4 215.1 188.0 216.0 190.8C216.8 193.7 218.0 196.0 219.9 198.8C221.8 201.6 226.7 205.2 227.4 207.7C228.0 210.2 225.0 212.2 223.9 213.7C222.8 215.2 220.9 215.6 220.9 216.6C220.9 217.6 223.9 218.0 223.9 219.6C223.9 221.3 221.9 224.4 220.9 226.6C219.9 228.7 216.8 231.9 217.9 232.5C219.1 233.2 226.2 229.9 227.9 230.5C229.5 231.2 228.2 234.8 227.9 236.5C227.5 238.1 225.7 238.8 225.9 240.5C226.0 242.1 228.7 244.1 228.9 246.4C229.0 248.7 226.2 253.3 226.9 254.3C227.5 255.3 231.0 253.2 232.8 252.4C234.6 251.5 236.1 249.5 237.8 249.4C239.4 249.2 241.6 250.0 242.7 251.4C243.9 252.7 244.7 255.5 244.7 257.3C244.7 259.1 245.1 261.5 242.7 262.3C240.4 263.1 234.0 262.4 230.8 262.3C227.7 262.1 225.5 260.3 223.9 261.3C222.2 262.3 222.6 267.6 220.9 268.2C219.3 268.9 216.3 266.1 214.0 265.3C211.7 264.4 209.5 263.8 207.0 263.3C204.5 262.8 199.9 263.1 199.1 262.3C198.3 261.5 202.1 259.5 202.1 258.3C202.1 257.2 201.4 256.0 199.1 255.3C196.8 254.7 191.6 254.0 188.2 254.3C184.7 254.7 181.1 256.7 178.3 257.3C175.4 258.0 174.1 259.0 171.3 258.3C168.5 257.6 162.2 254.8 161.4 253.3C160.6 251.9 165.8 250.4 166.3 249.4C166.8 248.4 166.2 247.7 164.4 247.4C162.5 247.1 158.4 248.1 155.4 247.4C152.5 246.7 149.5 245.2 146.5 243.4C143.5 241.6 139.1 238.8 137.6 236.5C136.0 234.2 136.7 232.2 137.1 229.5C137.4 226.9 138.6 223.1 139.6 220.6C140.5 218.1 143.7 216.0 142.5 214.7C141.4 213.3 135.4 214.5 132.6 212.7C129.8 210.9 128.0 206.4 125.7 203.7C123.4 201.1 120.7 199.3 118.7 196.8C116.7 194.3 114.3 191.2 113.8 188.9C113.3 186.5 114.6 184.6 115.7 182.9C116.9 181.3 119.1 179.3 120.7 178.9C122.4 178.6 124.3 178.9 125.7 180.9C127.0 182.9 127.3 188.3 128.6 190.8C130.0 193.4 132.0 196.6 133.6 196.3C135.3 196.0 138.1 191.1 138.6 188.9C139.1 186.6 137.6 185.2 136.6 182.9C135.6 180.6 133.4 176.4 132.6 175.0C131.8 173.5 132.6 174.1 131.6 174.3C130.6 174.5 128.3 176.2 126.7 176.2C125.0 176.2 123.4 174.4 121.7 174.3C120.0 174.1 118.2 175.6 116.7 175.3C115.2 174.9 113.3 173.4 112.8 172.3C112.3 171.1 112.8 169.1 113.8 168.3C114.8 167.5 117.4 167.8 118.7 167.3C120.0 166.8 121.9 166.5 121.7 165.3C121.5 164.2 118.7 162.2 117.7 160.4C116.7 158.6 115.8 156.4 115.7 154.4C115.7 152.4 116.7 150.8 117.2 148.5C117.7 146.2 118.3 143.2 118.7 140.5C119.1 137.9 119.2 134.7 119.7 132.6C120.2 130.5 121.8 129.3 121.7 128.1C121.6 127.0 119.6 126.8 119.2 125.6C118.8 124.5 118.5 123.0 119.2 121.2C120.0 119.4 122.1 116.6 123.7 114.7C125.3 112.9 126.3 111.5 128.6 110.3C131.0 109.0 135.9 107.4 137.6 107.3C139.2 107.2 138.4 108.4 138.6 109.8C138.7 111.2 137.9 115.2 138.6 115.7C139.2 116.2 141.2 112.6 142.5 112.7C143.9 112.9 145.8 115.4 146.5 116.7C147.2 118.0 146.2 120.2 147.0 120.7C147.8 121.2 150.2 120.5 151.5 119.7C152.7 118.9 153.4 117.2 154.4 115.7C155.4 114.2 156.3 112.0 157.4 110.8C158.6 109.5 160.0 108.4 161.4 108.3Z"/>
<path class="k" d="M137.6 107.0C133.9 105.5 131.0 108.6 128.6 109.8C126.3 111.0 125.3 112.4 123.7 114.2C122.0 116.1 119.6 118.5 118.7 120.7C117.8 122.9 118.4 125.0 118.2 127.6C118.1 130.3 118.1 133.4 117.7 136.6C117.4 139.7 116.7 143.5 116.2 146.5C115.7 149.5 115.2 151.6 114.8 154.4C114.3 157.2 113.7 160.4 113.3 163.3C112.9 166.3 112.4 170.0 112.3 172.3C112.2 174.5 112.6 174.2 112.8 177.0C112.9 179.7 112.4 185.4 113.3 188.9C114.1 192.3 115.8 195.1 117.7 197.8C119.6 200.4 122.4 202.1 124.7 204.7C127.0 207.4 129.6 210.7 131.6 213.7C133.6 216.6 135.8 219.5 136.6 222.6C137.3 225.7 135.8 229.9 136.1 232.5C136.4 235.2 136.7 236.5 138.6 238.5C140.5 240.5 144.5 242.8 147.5 244.4C150.5 246.1 153.6 247.4 156.4 248.4C159.2 249.4 161.7 249.1 164.4 250.4C167.0 251.7 169.0 255.2 172.3 256.3C175.6 257.5 179.9 257.5 184.2 257.3C188.5 257.2 194.1 258.1 198.1 255.3C202.1 252.5 208.0 246.2 208.0 240.5C208.0 234.7 204.7 227.2 198.1 220.6C191.5 214.0 176.6 207.4 168.3 200.8C160.1 194.2 150.1 187.7 148.5 180.9C146.8 174.2 156.4 168.8 158.4 160.4C160.4 152.0 161.7 137.6 160.4 130.6C159.1 123.7 154.3 122.6 150.5 118.7C146.7 114.8 141.2 108.5 137.6 107.0Z"/>
<path opacity="0.9" class="w" d="M126.2 181.4C126.8 179.2 131.0 176.2 133.1 177.4C135.2 178.7 136.2 186.1 138.6 188.9C140.9 191.6 146.3 192.6 147.0 194.0C147.7 195.5 144.7 197.3 142.5 197.6C140.4 197.9 136.3 197.1 134.1 196.0C131.9 194.9 130.5 193.3 129.1 190.8C127.8 188.4 125.5 183.7 126.2 181.4Z"/>
<polyline class="wl" points="147.3,204.5 148.7,209.9 152.7,216.8 153.1,222.8 153.6,228.5 157.6,233.0 164.6,234.8" stroke-width="4.9"/>
<polyline class="wl" points="164.6,234.8 172.3,234.6 180.2,234.1 187.4,235.1" stroke-width="3.2"/>
<polyline class="wl" points="138.6,214.3 145.7,212.7 148.0,208.7" stroke-width="2.4"/>
<path opacity="0.8" class="w" d="M124.7 124.7C125.1 123.7 127.5 122.6 128.6 121.2C129.8 119.8 130.2 117.6 131.6 116.2C133.0 114.8 136.1 112.5 137.1 112.7C138.1 113.0 137.9 116.3 137.6 117.7C137.2 119.1 136.2 120.4 135.1 121.2C133.9 121.9 132.1 121.3 130.6 122.2C129.1 123.1 127.2 126.2 126.2 126.6C125.2 127.1 124.3 125.6 124.7 124.7Z"/>
<polyline class="wl" points="141.5,124.7 139.1,133.6 133.6,138.0 127.2,142.5" stroke-width="1.4"/>
<polyline class="wl" points="163.4,123.5 168.3,128.8 176.3,136.8 184.2,143.3 191.0,149.3 193.7,154.9 195.1,160.4" stroke-width="4.3"/>
<path class="w" d="M189.7 160.4C190.5 159.0 192.5 157.3 193.9 157.2C195.3 157.1 196.6 158.6 198.1 159.9C199.6 161.2 202.0 163.4 203.1 165.1C204.1 166.9 204.4 168.6 204.2 170.3C204.0 172.0 203.1 174.4 201.9 175.5C200.6 176.5 197.9 177.3 196.6 176.4C195.3 175.6 195.3 172.3 193.9 170.5C192.6 168.7 189.4 167.2 188.7 165.5C188.0 163.8 188.8 161.8 189.7 160.4Z"/>
<path class="k" d="M197.1 160.4C197.6 159.6 199.3 158.9 201.1 158.9C202.9 158.9 206.4 159.5 208.0 160.4C209.7 161.2 210.3 162.5 211.0 163.8C211.7 165.2 212.3 167.0 212.0 168.3C211.7 169.6 210.1 171.5 209.0 171.8C207.9 172.1 206.4 171.2 205.5 170.3C204.7 169.4 204.7 167.4 204.0 166.3C203.4 165.3 202.6 164.3 201.6 163.8C200.6 163.3 198.8 163.9 198.1 163.3C197.4 162.8 196.6 161.1 197.1 160.4Z"/>
<polyline class="wl" points="163.9,135.1 158.4,140.5 151.5,144.5 146.3,147.3 145.5,153.4" stroke-width="2.6"/>
<polyline class="wl" points="170.8,147.7 171.1,155.4" stroke-width="1.6"/>
<polyline class="wl" points="169.8,162.4 167.3,168.3 165.4,175.3" stroke-width="1.8"/>
<ellipse class="w" cx="135.6" cy="169.3" rx="2.0" ry="4.2" transform="rotate(20 135.6 169.3)"/>
<ellipse class="w" cx="158.9" cy="185.4" rx="4.5" ry="1.2" transform="rotate(-35 158.9 185.4)"/>
<ellipse class="w" cx="194.9" cy="185.9" rx="2.2" ry="1.0"/>
<ellipse class="w" cx="178.7" cy="193.8" rx="6.7" ry="2.2" transform="rotate(-38 178.7 193.8)"/>
<ellipse class="w" cx="168.6" cy="225.1" rx="1.8" ry="1.8"/>
<ellipse class="w" cx="177.3" cy="245.9" rx="4.5" ry="1.3" transform="rotate(-10 177.3 245.9)"/>
<polyline class="wl" points="211.0,225.1 218.9,215.8" stroke-width="2.0"/>
<polyline class="wl" points="214.0,237.0 219.9,233.0 226.4,230.5" stroke-width="1.6"/>
<polyline class="wl" points="205.5,232.0 209.5,235.5 208.8,240.9 205.5,249.4 201.6,256.3 199.6,260.8" stroke-width="1.9"/>
<polyline class="wl" points="193.6,235.5 197.1,244.4" stroke-width="1.5"/>
<polyline class="wl" points="186.2,242.6 195.1,241.9" stroke-width="1.5"/>
<polyline class="wl" points="201.1,233.0 198.1,235.5" stroke-width="1.5"/>
<polygon class="w" points="164.4,171.0 168.3,171.0 165.4,175.5"/>
<path class="k" d="M139.1 96.9C139.7 96.1 140.3 96.0 142.5 95.4C144.8 94.7 149.5 93.2 152.5 92.9C155.4 92.6 159.7 92.7 160.4 93.4C161.1 94.1 158.4 95.8 156.4 96.9C154.4 97.9 151.3 98.9 148.5 99.9C145.7 100.8 141.2 102.3 139.6 102.3C137.9 102.3 138.6 100.8 138.6 99.9C138.5 98.9 138.4 97.6 139.1 96.9Z"/>
<polygon class="k" points="163.9,89.9 167.3,90.4 169.3,93.4 165.8,92.9"/>
<ellipse class="k" cx="164.7" cy="98.4" rx="1.0" ry="1.0"/>
<polygon class="k" points="179.2,102.3 183.2,102.3 182.7,104.8 180.2,106.8"/>
<ellipse class="k" cx="183.0" cy="116.7" rx="1.0" ry="1.0"/>
<path class="k" d="M192.1 109.8C192.5 108.9 194.6 109.1 196.1 109.8C197.6 110.4 200.1 112.3 201.1 113.7C202.1 115.1 202.6 117.3 202.1 118.2C201.6 119.1 199.4 119.7 198.1 119.2C196.8 118.7 195.1 116.8 194.1 115.2C193.1 113.7 191.8 110.7 192.1 109.8Z"/><path opacity="0.75" class="w" d="M195.0 112.3C195.1 111.9 196.1 112.0 196.7 112.3C197.4 112.6 198.5 113.4 199.0 114.1C199.4 114.7 199.6 115.7 199.4 116.1C199.2 116.5 198.2 116.7 197.6 116.5C197.0 116.3 196.3 115.4 195.9 114.7C195.4 114.0 194.8 112.7 195.0 112.3Z"/>
<ellipse class="k" cx="199.6" cy="88.4" rx="1.0" ry="1.0"/>
<ellipse class="k" cx="223.4" cy="89.7" rx="1.0" ry="2.2"/>
<ellipse class="k" cx="220.7" cy="100.0" rx="2.0" ry="1.2"/>
<ellipse class="k" cx="208.3" cy="107.6" rx="1.7" ry="1.7"/>
<ellipse class="k" cx="221.4" cy="110.5" rx="2.2" ry="1.0"/>
<ellipse class="k" cx="230.6" cy="116.2" rx="2.8" ry="1.0" transform="rotate(35 230.6 116.2)"/>
<ellipse class="k" cx="231.3" cy="85.8" rx="0.8" ry="0.8"/>
<ellipse class="k" cx="213.5" cy="141.0" rx="3.0" ry="4.5"/><ellipse class="w" cx="213.5" cy="141.0" rx="0.8" ry="2.3" opacity="0.75"/>
<polyline class="kl" points="215.5,132.6 214.5,137.6" stroke-width="4.2"/>
<polyline class="kl" points="230.3,157.9 234.3,158.9" stroke-width="3.2"/>
<ellipse class="k" cx="237.8" cy="169.3" rx="0.8" ry="0.8"/>
<polyline class="kl" points="212.6,141.5 214.5,135.3 223.9,135.6 233.4,134.9 243.8,136.8 249.4,141.5 253.2,149.1 256.1,154.7" stroke-width="6.4"/>
<polyline class="kl" points="236.2,141.5 240.0,147.2 243.8,152.8 246.6,159.4" stroke-width="6.8"/>
<polyline class="kl" points="227.7,137.7 234.3,142.4" stroke-width="5.8"/>
<ellipse class="k" cx="240.9" cy="124.2" rx="3.6" ry="3.4"/><ellipse class="w" cx="240.9" cy="124.2" rx="1.4" ry="1.2" opacity="0.6"/>
<ellipse class="k" cx="266.0" cy="141.5" rx="2.8" ry="1.5" transform="rotate(-40 266.0 141.5)"/>
<polygon class="k" points="253.7,154.3 256.1,151.4 257.2,154.7"/>
<ellipse class="k" cx="232.0" cy="158.5" rx="2.4" ry="0.6" transform="rotate(15 232.0 158.5)"/>
<path class="k" d="M243.8 158.0C244.3 156.8 247.4 156.9 248.5 158.0C249.6 159.2 250.9 163.9 250.4 165.1C249.8 166.4 246.3 166.8 245.2 165.6C244.1 164.4 243.2 159.3 243.8 158.0Z"/><path opacity="0.75" class="w" d="M245.8 160.4C246.0 160.0 247.1 160.0 247.5 160.4C247.9 160.8 248.4 162.5 248.2 162.9C248.0 163.3 246.7 163.5 246.3 163.1C246.0 162.6 245.7 160.9 245.8 160.4Z"/>
<polygon class="k" points="219.7,163.2 223.0,164.2 228.2,174.1 221.1,173.6"/>
<ellipse class="k" cx="209.9" cy="166.1" rx="2.6" ry="4.7"/>
<polygon class="k" points="220.1,171.0 227.7,171.0 228.2,173.8 221.1,173.4"/>
<ellipse class="k" cx="246.9" cy="178.1" rx="4.5" ry="4.5"/><ellipse class="w" cx="246.9" cy="178.1" rx="2.2" ry="2.2" opacity="0.7"/>
<ellipse class="k" cx="259.8" cy="175.7" rx="2.8" ry="2.4" transform="rotate(20 259.8 175.7)"/>
<path class="k" d="M265.5 183.8C265.0 182.5 267.6 180.6 269.3 180.0C271.0 179.3 274.6 178.8 275.9 180.0C277.2 181.2 277.5 185.8 276.9 187.1C276.2 188.3 274.0 188.1 272.1 187.5C270.2 187.0 266.0 185.0 265.5 183.8Z"/><path opacity="0.6" class="w" d="M269.4 183.7C269.2 183.2 270.2 182.4 270.9 182.2C271.6 181.9 273.0 181.7 273.5 182.2C274.0 182.7 274.2 184.5 273.9 185.0C273.7 185.5 272.8 185.4 272.0 185.2C271.3 185.0 269.6 184.2 269.4 183.7Z"/>
<path class="k" d="M229.1 189.0C229.0 186.8 230.8 185.5 232.4 184.7C234.1 183.9 237.2 183.4 239.0 184.2C240.9 185.1 243.0 187.7 243.3 189.9C243.6 192.1 242.6 196.2 240.9 197.5C239.3 198.7 235.3 198.9 233.4 197.5C231.4 196.0 229.3 191.1 229.1 189.0Z"/><path opacity="0.8" class="w" d="M233.1 189.8C233.0 188.8 233.9 188.2 234.6 187.9C235.3 187.5 236.8 187.3 237.6 187.7C238.4 188.0 239.3 189.2 239.5 190.2C239.6 191.2 239.2 193.0 238.4 193.6C237.7 194.2 235.9 194.2 235.0 193.6C234.1 193.0 233.2 190.7 233.1 189.8Z"/>
<path class="k" d="M244.7 203.6C245.2 202.6 247.2 200.5 249.4 199.4C251.6 198.2 255.0 196.7 257.9 196.5C260.9 196.4 265.5 197.5 267.4 198.4C269.3 199.4 269.3 200.9 269.3 202.2C269.3 203.5 269.0 205.4 267.4 206.4C265.8 207.5 262.0 208.4 259.8 208.3C257.6 208.3 256.4 206.4 254.2 206.0C252.0 205.5 248.2 205.9 246.6 205.5C245.0 205.1 244.2 204.6 244.7 203.6Z"/><path opacity="0.75" class="w" d="M252.1 203.2C252.3 202.8 253.1 201.9 254.1 201.4C255.0 200.9 256.4 200.3 257.6 200.2C258.9 200.2 260.8 200.6 261.6 201.0C262.4 201.4 262.4 202.1 262.4 202.6C262.4 203.2 262.3 204.0 261.6 204.4C261.0 204.8 259.4 205.2 258.4 205.2C257.5 205.2 257.0 204.4 256.1 204.2C255.1 204.0 253.5 204.2 252.9 204.0C252.2 203.8 251.9 203.6 252.1 203.2Z"/>
<ellipse class="w" cx="265.5" cy="201.7" rx="1.1" ry="0.9"/>
<ellipse class="k" cx="232.9" cy="215.0" rx="2.6" ry="6.1" transform="rotate(-8 232.9 215.0)"/>
<path class="k" d="M251.3 222.5C252.2 221.6 252.4 221.0 254.2 222.0C255.9 223.1 260.3 226.6 261.7 228.7C263.1 230.7 263.0 233.0 262.7 234.3C262.4 235.7 261.1 236.4 259.8 236.7C258.6 237.0 256.8 236.9 255.1 236.2C253.4 235.5 250.5 233.9 249.4 232.4C248.4 231.0 248.7 229.4 249.0 227.7C249.3 226.1 250.5 223.5 251.3 222.5Z"/>
<polygon class="k" points="283.5,221.1 288.7,225.3 281.1,225.8"/>
<polygon class="k" points="286.8,211.6 288.7,213.2 286.8,214.7"/>
<polygon class="k" points="236.2,230.1 239.0,232.4 244.2,232.9 241.9,237.2 237.2,242.4 232.9,241.9 234.3,236.2 232.4,233.9"/>
<ellipse class="k" cx="121.7" cy="221.6" rx="3.0" ry="6.4"/>
<ellipse class="k" cx="131.1" cy="240.0" rx="1.4" ry="3.5"/>
<ellipse class="k" cx="170.3" cy="264.8" rx="1.8" ry="1.6"/>
<path class="k" d="M181.2 266.2C181.6 265.4 182.7 263.5 184.2 262.8C185.7 262.0 188.5 261.5 190.2 261.8C191.8 262.1 193.5 263.8 194.1 264.8C194.7 265.7 195.6 266.7 193.6 267.2C191.6 267.7 184.3 267.9 182.2 267.7C180.2 267.6 180.9 267.1 181.2 266.2Z"/>
<ellipse class="k" cx="226.4" cy="270.7" rx="2.5" ry="1.4"/>
<ellipse class="k" cx="109.8" cy="180.4" rx="1.8" ry="0.8"/>
<ellipse class="k" cx="110.2" cy="180.7" rx="1.4" ry="1.2"/>
<ellipse class="k" cx="165.4" cy="74.9" rx="1.1" ry="1.1"/>
<ellipse class="k" cx="223.7" cy="74.9" rx="1.1" ry="1.1"/>
<polyline class="kl" points="213.2,139.8 220.3,133.6 234.5,134.7 251.5,141.8 257.2,151.7 246.4,160.2 244.4,171.6 254.3,177.8 269.1,182.9" stroke-width="5.6"/>
<polyline class="kl" points="244.4,171.6 235.9,184.3 231.7,194.2 240.2,202.8 254.3,201.6 264.5,197.1" stroke-width="5.6"/>
<polyline class="kl" points="254.3,225.4 257.2,232.8 245.8,237.3 237.3,245.8 232.2,256.6" stroke-width="5.6"/>
<polyline class="kl" points="220.3,100.1 222.0,106.9" stroke-width="4.7"/>
<polyline class="kl" points="226.0,211.3 228.8,225.4 224.6,239.6" stroke-width="4.7"/>
<ellipse opacity="0.7" class="w" cx="235.9" cy="192.0" rx="2.6" ry="2.6"/>
<ellipse opacity="0.8" class="w" cx="237.8" cy="257.1" rx="4.2" ry="3.2"/>
<g class="w"><circle cx="155.5" cy="131.6" r="0.8" opacity="0.39"/><circle cx="183.5" cy="166.1" r="0.5" opacity="0.60"/><circle cx="117.7" cy="177.1" r="0.5" opacity="0.40"/><circle cx="168.8" cy="240.4" r="0.6" opacity="0.46"/><circle cx="188.9" cy="171.1" r="1.0" opacity="0.37"/><circle cx="131.8" cy="126.2" r="0.7" opacity="0.76"/><circle cx="136.6" cy="200.9" r="0.8" opacity="0.54"/><circle cx="120.6" cy="140.4" r="0.8" opacity="0.56"/><circle cx="154.2" cy="201.5" r="0.7" opacity="0.50"/><circle cx="217.6" cy="219.8" r="0.6" opacity="0.64"/><circle cx="182.1" cy="248.1" r="0.9" opacity="0.49"/><circle cx="167.9" cy="229.1" r="0.6" opacity="0.59"/><circle cx="213.7" cy="199.5" r="0.9" opacity="0.51"/><circle cx="204.5" cy="202.9" r="0.8" opacity="0.58"/><circle cx="223.6" cy="259.3" r="0.7" opacity="0.68"/><circle cx="163.7" cy="214.9" r="0.5" opacity="0.58"/><circle cx="134.9" cy="126.1" r="0.5" opacity="0.73"/><circle cx="129.8" cy="147.1" r="0.7" opacity="0.79"/><circle cx="123.4" cy="179.6" r="0.8" opacity="0.79"/><circle cx="220.9" cy="246.3" r="0.6" opacity="0.56"/><circle cx="136.0" cy="144.6" r="0.6" opacity="0.59"/><circle cx="190.5" cy="149.6" r="0.5" opacity="0.56"/><circle cx="161.5" cy="198.4" r="1.0" opacity="0.70"/><circle cx="180.8" cy="206.7" r="0.8" opacity="0.38"/><circle cx="164.5" cy="171.5" r="0.6" opacity="0.67"/><circle cx="121.0" cy="118.1" r="0.6" opacity="0.43"/><circle cx="157.6" cy="115.8" r="0.5" opacity="0.43"/><circle cx="126.2" cy="165.8" r="0.5" opacity="0.79"/><circle cx="146.1" cy="163.2" r="0.7" opacity="0.41"/><circle cx="174.3" cy="185.2" r="0.5" opacity="0.40"/><circle cx="158.0" cy="149.9" r="0.9" opacity="0.43"/><circle cx="182.5" cy="130.9" r="0.8" opacity="0.36"/><circle cx="147.2" cy="166.3" r="0.6" opacity="0.74"/><circle cx="183.0" cy="232.7" r="0.7" opacity="0.46"/><circle cx="219.9" cy="265.8" r="0.9" opacity="0.75"/><circle cx="220.8" cy="226.4" r="0.6" opacity="0.61"/><circle cx="159.7" cy="112.0" r="0.5" opacity="0.49"/><circle cx="147.0" cy="218.7" r="1.0" opacity="0.57"/><circle cx="141.9" cy="143.8" r="0.6" opacity="0.45"/><circle cx="195.1" cy="252.2" r="0.9" opacity="0.59"/><circle cx="198.9" cy="236.0" r="0.5" opacity="0.68"/><circle cx="211.8" cy="184.2" r="0.6" opacity="0.74"/><circle cx="156.6" cy="236.2" r="1.0" opacity="0.55"/><circle cx="129.5" cy="131.6" r="1.0" opacity="0.75"/><circle cx="159.0" cy="195.6" r="0.6" opacity="0.36"/><circle cx="170.0" cy="247.6" r="0.9" opacity="0.46"/><circle cx="146.0" cy="154.4" r="0.6" opacity="0.64"/><circle cx="147.0" cy="174.7" r="0.6" opacity="0.81"/><circle cx="159.5" cy="181.0" r="0.8" opacity="0.80"/><circle cx="168.3" cy="255.0" r="0.8" opacity="0.62"/><circle cx="170.8" cy="136.8" r="0.5" opacity="0.75"/><circle cx="135.5" cy="183.5" r="0.9" opacity="0.63"/><circle cx="155.8" cy="190.7" r="0.8" opacity="0.74"/><circle cx="126.8" cy="197.5" r="0.6" opacity="0.49"/><circle cx="214.7" cy="189.0" r="0.8" opacity="0.73"/><circle cx="193.6" cy="188.7" r="0.8" opacity="0.70"/><circle cx="172.5" cy="193.1" r="0.7" opacity="0.82"/><circle cx="205.0" cy="248.4" r="1.0" opacity="0.48"/><circle cx="128.8" cy="178.4" r="0.5" opacity="0.47"/><circle cx="216.2" cy="251.7" r="0.6" opacity="0.71"/><circle cx="165.3" cy="185.7" r="1.0" opacity="0.77"/><circle cx="134.1" cy="176.7" r="0.8" opacity="0.52"/><circle cx="138.6" cy="158.6" r="0.9" opacity="0.36"/><circle cx="185.9" cy="178.2" r="0.5" opacity="0.52"/><circle cx="195.1" cy="189.7" r="0.5" opacity="0.84"/><circle cx="216.8" cy="263.7" r="0.6" opacity="0.48"/><circle cx="148.5" cy="128.1" r="0.7" opacity="0.81"/><circle cx="188.1" cy="220.0" r="0.5" opacity="0.38"/><circle cx="203.6" cy="175.7" r="0.5" opacity="0.82"/><circle cx="196.5" cy="236.3" r="0.5" opacity="0.78"/><circle cx="172.6" cy="161.9" r="0.8" opacity="0.81"/><circle cx="148.1" cy="128.1" r="0.8" opacity="0.47"/><circle cx="127.2" cy="133.3" r="0.5" opacity="0.45"/><circle cx="153.9" cy="156.4" r="0.9" opacity="0.49"/><circle cx="178.8" cy="135.9" r="0.7" opacity="0.36"/><circle cx="209.5" cy="196.0" r="0.6" opacity="0.59"/><circle cx="178.1" cy="241.6" r="0.7" opacity="0.60"/><circle cx="158.0" cy="241.2" r="0.9" opacity="0.67"/><circle cx="166.2" cy="163.2" r="0.5" opacity="0.41"/><circle cx="146.5" cy="133.6" r="0.5" opacity="0.77"/><circle cx="150.0" cy="146.3" r="0.6" opacity="0.58"/><circle cx="133.6" cy="179.0" r="0.6" opacity="0.83"/><circle cx="153.6" cy="164.7" r="0.5" opacity="0.54"/><circle cx="175.4" cy="188.2" r="0.6" opacity="0.60"/><circle cx="124.6" cy="171.6" r="0.5" opacity="0.36"/><circle cx="152.9" cy="144.8" r="0.8" opacity="0.61"/><circle cx="211.8" cy="213.1" r="0.9" opacity="0.79"/><circle cx="164.2" cy="159.8" r="1.0" opacity="0.42"/><circle cx="208.3" cy="210.8" r="0.5" opacity="0.77"/><circle cx="209.6" cy="238.0" r="0.6" opacity="0.61"/><circle cx="179.3" cy="241.7" r="0.9" opacity="0.76"/><circle cx="189.8" cy="251.0" r="0.8" opacity="0.70"/><circle cx="143.1" cy="112.3" r="0.6" opacity="0.53"/><circle cx="186.5" cy="208.3" r="0.8" opacity="0.69"/><circle cx="218.0" cy="227.7" r="0.8" opacity="0.62"/><circle cx="122.6" cy="150.0" r="0.9" opacity="0.45"/><circle cx="177.9" cy="168.9" r="0.7" opacity="0.69"/><circle cx="214.0" cy="206.6" r="0.8" opacity="0.39"/><circle cx="132.2" cy="148.2" r="0.9" opacity="0.50"/><circle cx="120.8" cy="150.5" r="0.8" opacity="0.70"/><circle cx="201.9" cy="154.1" r="0.8" opacity="0.58"/><circle cx="174.3" cy="126.4" r="0.9" opacity="0.45"/><circle cx="241.8" cy="258.0" r="0.5" opacity="0.58"/><circle cx="221.0" cy="263.1" r="0.7" opacity="0.48"/><circle cx="140.6" cy="200.9" r="0.6" opacity="0.61"/><circle cx="113.2" cy="186.4" r="0.7" opacity="0.50"/><circle cx="131.3" cy="162.6" r="0.7" opacity="0.77"/><circle cx="161.9" cy="170.5" r="1.0" opacity="0.64"/><circle cx="160.4" cy="176.2" r="0.6" opacity="0.37"/><circle cx="145.7" cy="150.1" r="0.8" opacity="0.44"/><circle cx="196.0" cy="254.3" r="1.0" opacity="0.62"/><circle cx="209.4" cy="179.9" r="0.9" opacity="0.67"/><circle cx="175.1" cy="162.6" r="0.6" opacity="0.72"/><circle cx="199.3" cy="155.7" r="0.8" opacity="0.55"/><circle cx="134.8" cy="133.3" r="0.6" opacity="0.80"/><circle cx="178.4" cy="142.7" r="1.0" opacity="0.85"/><circle cx="172.1" cy="129.8" r="0.6" opacity="0.40"/><circle cx="157.9" cy="122.0" r="0.6" opacity="0.48"/><circle cx="187.9" cy="250.1" r="0.9" opacity="0.56"/><circle cx="167.4" cy="191.7" r="0.7" opacity="0.52"/><circle cx="121.0" cy="152.0" r="1.0" opacity="0.41"/><circle cx="179.2" cy="208.6" r="0.9" opacity="0.46"/><circle cx="148.5" cy="147.3" r="0.7" opacity="0.57"/><circle cx="221.7" cy="245.0" r="1.0" opacity="0.47"/><circle cx="127.2" cy="132.1" r="0.8" opacity="0.69"/><circle cx="198.2" cy="230.4" r="0.7" opacity="0.63"/><circle cx="197.9" cy="156.2" r="0.6" opacity="0.48"/><circle cx="196.7" cy="219.7" r="0.6" opacity="0.39"/><circle cx="182.0" cy="201.1" r="0.7" opacity="0.46"/><circle cx="152.6" cy="181.4" r="1.0" opacity="0.67"/><circle cx="143.7" cy="147.1" r="1.0" opacity="0.70"/><circle cx="178.5" cy="215.8" r="0.7" opacity="0.48"/><circle cx="200.8" cy="256.2" r="0.6" opacity="0.37"/><circle cx="157.4" cy="175.0" r="0.8" opacity="0.45"/><circle cx="217.9" cy="226.2" r="0.8" opacity="0.45"/><circle cx="142.0" cy="229.7" r="0.6" opacity="0.83"/><circle cx="178.2" cy="137.4" r="0.6" opacity="0.56"/><circle cx="132.1" cy="170.6" r="0.6" opacity="0.84"/><circle cx="131.5" cy="115.6" r="0.5" opacity="0.55"/><circle cx="200.4" cy="168.2" r="0.7" opacity="0.52"/><circle cx="149.7" cy="163.9" r="1.0" opacity="0.41"/><circle cx="159.8" cy="239.5" r="0.9" opacity="0.57"/><circle cx="119.3" cy="183.5" r="0.7" opacity="0.81"/><circle cx="138.2" cy="165.9" r="0.9" opacity="0.37"/><circle cx="167.0" cy="237.9" r="0.9" opacity="0.37"/><circle cx="211.4" cy="251.9" r="0.7" opacity="0.49"/><circle cx="147.4" cy="222.6" r="0.7" opacity="0.49"/><circle cx="143.6" cy="183.8" r="1.0" opacity="0.83"/><circle cx="163.8" cy="147.7" r="0.7" opacity="0.60"/><circle cx="218.7" cy="226.1" r="0.9" opacity="0.74"/><circle cx="192.9" cy="160.0" r="0.7" opacity="0.53"/><circle cx="138.8" cy="228.5" r="0.6" opacity="0.38"/><circle cx="117.2" cy="196.2" r="0.7" opacity="0.84"/><circle cx="147.7" cy="120.8" r="0.5" opacity="0.60"/><circle cx="206.4" cy="179.2" r="0.6" opacity="0.56"/><circle cx="194.6" cy="215.8" r="0.9" opacity="0.77"/><circle cx="187.6" cy="167.3" r="0.9" opacity="0.45"/><circle cx="145.4" cy="146.8" r="0.6" opacity="0.79"/><circle cx="189.1" cy="159.8" r="0.7" opacity="0.85"/><circle cx="179.7" cy="144.5" r="0.9" opacity="0.68"/><circle cx="175.4" cy="239.1" r="0.9" opacity="0.81"/><circle cx="118.1" cy="154.6" r="0.6" opacity="0.44"/><circle cx="147.1" cy="232.5" r="1.0" opacity="0.40"/><circle cx="191.4" cy="207.1" r="0.6" opacity="0.53"/><circle cx="131.4" cy="140.1" r="0.6" opacity="0.65"/><circle cx="198.8" cy="140.0" r="0.5" opacity="0.51"/><circle cx="154.0" cy="140.0" r="0.9" opacity="0.62"/><circle cx="121.1" cy="123.6" r="0.7" opacity="0.63"/><circle cx="166.8" cy="152.9" r="0.7" opacity="0.83"/><circle cx="154.0" cy="198.5" r="0.7" opacity="0.56"/><circle cx="160.8" cy="139.0" r="0.9" opacity="0.45"/><circle cx="168.7" cy="239.3" r="0.7" opacity="0.79"/><circle cx="173.6" cy="133.5" r="0.5" opacity="0.63"/><circle cx="197.3" cy="253.7" r="0.5" opacity="0.66"/><circle cx="161.7" cy="188.5" r="0.6" opacity="0.49"/><circle cx="181.5" cy="256.2" r="0.6" opacity="0.60"/><circle cx="219.0" cy="262.9" r="0.6" opacity="0.41"/><circle cx="166.1" cy="243.5" r="0.9" opacity="0.44"/><circle cx="141.6" cy="171.6" r="0.8" opacity="0.54"/><circle cx="129.0" cy="147.1" r="0.9" opacity="0.80"/><circle cx="118.2" cy="197.8" r="0.9" opacity="0.37"/><circle cx="191.9" cy="195.8" r="0.8" opacity="0.50"/><circle cx="168.2" cy="201.1" r="0.7" opacity="0.68"/><circle cx="171.7" cy="177.8" r="0.5" opacity="0.66"/><circle cx="177.4" cy="145.2" r="0.9" opacity="0.74"/><circle cx="173.2" cy="136.2" r="0.7" opacity="0.40"/><circle cx="129.7" cy="176.6" r="0.5" opacity="0.57"/><circle cx="209.6" cy="232.4" r="0.8" opacity="0.38"/><circle cx="179.3" cy="168.1" r="1.0" opacity="0.42"/><circle cx="209.4" cy="238.5" r="0.6" opacity="0.84"/><circle cx="216.8" cy="257.1" r="0.5" opacity="0.53"/><circle cx="179.0" cy="255.3" r="0.6" opacity="0.48"/><circle cx="179.5" cy="158.6" r="0.5" opacity="0.44"/><circle cx="202.5" cy="251.4" r="0.6" opacity="0.74"/><circle cx="128.0" cy="192.7" r="0.8" opacity="0.53"/><circle cx="189.3" cy="249.3" r="0.6" opacity="0.85"/><circle cx="195.9" cy="170.7" r="0.9" opacity="0.48"/><circle cx="160.3" cy="230.4" r="0.7" opacity="0.44"/><circle cx="190.1" cy="214.1" r="0.7" opacity="0.35"/><circle cx="194.1" cy="176.9" r="0.8" opacity="0.80"/><circle cx="130.2" cy="143.9" r="0.8" opacity="0.36"/><circle cx="126.8" cy="164.8" r="0.6" opacity="0.64"/><circle cx="190.5" cy="140.2" r="0.8" opacity="0.59"/><circle cx="144.9" cy="131.3" r="0.5" opacity="0.67"/><circle cx="227.7" cy="233.2" r="0.7" opacity="0.48"/><circle cx="187.0" cy="163.7" r="0.8" opacity="0.57"/><circle cx="118.6" cy="192.8" r="0.7" opacity="0.47"/><circle cx="139.1" cy="205.2" r="0.8" opacity="0.67"/><circle cx="153.6" cy="155.6" r="0.5" opacity="0.79"/><circle cx="216.1" cy="222.4" r="0.5" opacity="0.77"/><circle cx="211.1" cy="182.2" r="0.9" opacity="0.58"/><circle cx="142.6" cy="124.2" r="0.6" opacity="0.37"/><circle cx="157.0" cy="227.9" r="0.8" opacity="0.77"/><circle cx="185.8" cy="177.5" r="0.9" opacity="0.61"/><circle cx="147.8" cy="210.6" r="1.0" opacity="0.46"/><circle cx="147.1" cy="145.3" r="0.9" opacity="0.82"/><circle cx="196.0" cy="218.8" r="0.8" opacity="0.84"/><circle cx="174.7" cy="242.4" r="0.8" opacity="0.78"/><circle cx="170.5" cy="223.9" r="0.8" opacity="0.50"/><circle cx="140.7" cy="207.5" r="0.5" opacity="0.81"/><circle cx="131.8" cy="111.6" r="0.6" opacity="0.81"/><circle cx="158.3" cy="130.1" r="0.5" opacity="0.37"/><circle cx="204.2" cy="209.3" r="0.8" opacity="0.72"/><circle cx="160.7" cy="238.9" r="0.9" opacity="0.80"/><circle cx="233.4" cy="259.3" r="0.6" opacity="0.45"/><circle cx="127.5" cy="112.8" r="0.9" opacity="0.76"/><circle cx="196.5" cy="240.1" r="0.8" opacity="0.49"/><circle cx="125.9" cy="123.0" r="0.9" opacity="0.45"/><circle cx="154.9" cy="175.5" r="0.5" opacity="0.48"/><circle cx="150.1" cy="222.5" r="0.7" opacity="0.51"/><circle cx="225.1" cy="206.8" r="0.5" opacity="0.56"/><circle cx="170.4" cy="231.7" r="0.7" opacity="0.70"/><circle cx="183.7" cy="142.1" r="0.9" opacity="0.40"/><circle cx="213.3" cy="264.7" r="0.5" opacity="0.60"/><circle cx="177.6" cy="235.5" r="0.6" opacity="0.60"/><circle cx="158.6" cy="241.2" r="0.6" opacity="0.82"/><circle cx="150.2" cy="141.8" r="0.8" opacity="0.60"/><circle cx="204.8" cy="233.9" r="0.8" opacity="0.53"/><circle cx="165.7" cy="170.8" r="0.9" opacity="0.39"/><circle cx="140.0" cy="149.7" r="1.0" opacity="0.60"/><circle cx="162.8" cy="249.6" r="0.6" opacity="0.58"/><circle cx="182.9" cy="228.7" r="0.9" opacity="0.67"/><circle cx="158.8" cy="159.9" r="0.6" opacity="0.77"/><circle cx="200.1" cy="226.7" r="0.6" opacity="0.57"/><circle cx="214.8" cy="200.5" r="0.6" opacity="0.58"/><circle cx="138.0" cy="155.8" r="0.9" opacity="0.77"/><circle cx="133.2" cy="132.4" r="0.6" opacity="0.51"/><circle cx="181.7" cy="133.2" r="0.7" opacity="0.44"/><circle cx="126.2" cy="169.1" r="1.0" opacity="0.75"/><circle cx="209.5" cy="177.3" r="0.6" opacity="0.67"/><circle cx="126.9" cy="140.5" r="0.7" opacity="0.37"/><circle cx="165.4" cy="234.6" r="0.8" opacity="0.60"/><circle cx="196.2" cy="181.9" r="0.6" opacity="0.65"/><circle cx="166.2" cy="226.5" r="1.0" opacity="0.57"/><circle cx="188.5" cy="227.9" r="0.7" opacity="0.46"/><circle cx="208.1" cy="248.9" r="0.9" opacity="0.70"/><circle cx="197.4" cy="180.3" r="0.7" opacity="0.66"/><circle cx="125.7" cy="174.8" r="0.9" opacity="0.71"/><circle cx="195.9" cy="147.5" r="0.7" opacity="0.58"/><circle cx="194.8" cy="173.2" r="0.8" opacity="0.82"/><circle cx="136.9" cy="212.6" r="0.9" opacity="0.54"/><circle cx="117.8" cy="194.7" r="0.6" opacity="0.74"/><circle cx="126.1" cy="199.8" r="0.8" opacity="0.71"/><circle cx="180.4" cy="210.2" r="0.9" opacity="0.61"/><circle cx="140.5" cy="217.4" r="0.7" opacity="0.73"/><circle cx="159.7" cy="116.4" r="0.6" opacity="0.55"/><circle cx="114.5" cy="174.7" r="0.7" opacity="0.70"/><circle cx="159.2" cy="150.0" r="0.6" opacity="0.72"/><circle cx="141.7" cy="236.3" r="0.7" opacity="0.46"/><circle cx="219.6" cy="209.4" r="0.7" opacity="0.63"/><circle cx="159.4" cy="210.1" r="0.9" opacity="0.76"/><circle cx="174.5" cy="154.7" r="0.8" opacity="0.41"/><circle cx="162.4" cy="148.1" r="0.7" opacity="0.44"/><circle cx="149.9" cy="146.7" r="0.7" opacity="0.59"/><circle cx="169.3" cy="209.9" r="0.8" opacity="0.53"/><circle cx="199.3" cy="147.5" r="0.6" opacity="0.42"/><circle cx="143.6" cy="232.2" r="0.7" opacity="0.43"/><circle cx="193.0" cy="233.0" r="0.8" opacity="0.80"/><circle cx="216.8" cy="242.3" r="0.6" opacity="0.70"/><circle cx="182.8" cy="226.7" r="0.7" opacity="0.79"/><circle cx="186.0" cy="149.9" r="0.6" opacity="0.42"/><circle cx="174.4" cy="130.5" r="0.7" opacity="0.60"/><circle cx="184.0" cy="246.2" r="0.5" opacity="0.77"/><circle cx="174.5" cy="197.8" r="0.8" opacity="0.77"/><circle cx="162.2" cy="174.7" r="1.0" opacity="0.39"/><circle cx="196.8" cy="209.7" r="0.5" opacity="0.65"/><circle cx="202.8" cy="257.2" r="0.7" opacity="0.84"/><circle cx="180.1" cy="185.3" r="0.9" opacity="0.37"/><circle cx="207.5" cy="207.9" r="0.7" opacity="0.78"/><circle cx="161.1" cy="183.7" r="0.8" opacity="0.74"/><circle cx="140.6" cy="177.3" r="0.7" opacity="0.63"/><circle cx="179.2" cy="151.0" r="0.8" opacity="0.84"/><circle cx="199.1" cy="234.7" r="0.7" opacity="0.51"/><circle cx="152.3" cy="201.7" r="0.8" opacity="0.74"/><circle cx="119.3" cy="155.6" r="0.5" opacity="0.44"/><circle cx="199.6" cy="234.3" r="1.0" opacity="0.66"/><circle cx="194.1" cy="208.2" r="0.8" opacity="0.65"/><circle cx="200.8" cy="181.0" r="0.9" opacity="0.40"/><circle cx="136.7" cy="113.2" r="0.9" opacity="0.81"/><circle cx="199.3" cy="166.7" r="0.9" opacity="0.74"/><circle cx="186.9" cy="148.8" r="0.7" opacity="0.56"/><circle cx="154.8" cy="176.6" r="0.8" opacity="0.82"/><circle cx="120.0" cy="198.6" r="0.5" opacity="0.41"/><circle cx="219.7" cy="199.9" r="1.0" opacity="0.57"/><circle cx="114.6" cy="169.6" r="0.8" opacity="0.82"/><circle cx="167.2" cy="123.7" r="0.8" opacity="0.46"/><circle cx="132.8" cy="109.8" r="0.5" opacity="0.69"/><circle cx="129.8" cy="110.2" r="0.9" opacity="0.47"/><circle cx="206.9" cy="245.0" r="0.9" opacity="0.39"/><circle cx="195.7" cy="221.4" r="0.7" opacity="0.82"/><circle cx="153.8" cy="224.7" r="0.6" opacity="0.78"/><circle cx="161.3" cy="199.8" r="0.7" opacity="0.69"/><circle cx="160.7" cy="211.1" r="0.8" opacity="0.56"/><circle cx="163.7" cy="233.8" r="1.0" opacity="0.74"/><circle cx="187.6" cy="154.3" r="0.5" opacity="0.84"/><circle cx="205.6" cy="240.5" r="0.7" opacity="0.65"/><circle cx="192.1" cy="157.0" r="0.7" opacity="0.79"/><circle cx="162.5" cy="217.5" r="0.8" opacity="0.80"/><circle cx="168.5" cy="201.7" r="0.9" opacity="0.79"/><circle cx="219.9" cy="246.9" r="0.8" opacity="0.49"/><circle cx="225.1" cy="237.2" r="0.8" opacity="0.81"/><circle cx="158.5" cy="121.0" r="0.8" opacity="0.75"/><circle cx="139.2" cy="228.0" r="1.0" opacity="0.47"/><circle cx="192.9" cy="216.4" r="0.7" opacity="0.45"/><circle cx="146.4" cy="228.2" r="0.9" opacity="0.58"/><circle cx="189.2" cy="251.6" r="0.9" opacity="0.61"/><circle cx="175.7" cy="202.1" r="0.6" opacity="0.45"/><circle cx="136.6" cy="220.1" r="0.7" opacity="0.63"/><circle cx="165.9" cy="190.5" r="0.6" opacity="0.37"/><circle cx="191.6" cy="162.8" r="0.8" opacity="0.36"/><circle cx="187.6" cy="149.4" r="0.9" opacity="0.56"/><circle cx="220.8" cy="262.4" r="0.6" opacity="0.37"/><circle cx="139.3" cy="136.4" r="0.5" opacity="0.38"/><circle cx="186.3" cy="247.4" r="0.7" opacity="0.82"/><circle cx="191.7" cy="171.2" r="0.6" opacity="0.83"/><circle cx="146.7" cy="198.1" r="0.8" opacity="0.83"/><circle cx="201.1" cy="170.6" r="0.7" opacity="0.43"/><circle cx="142.0" cy="113.5" r="0.6" opacity="0.53"/><circle cx="231.9" cy="252.9" r="0.9" opacity="0.37"/><circle cx="216.5" cy="221.5" r="0.8" opacity="0.84"/><circle cx="120.1" cy="130.6" r="0.9" opacity="0.82"/><circle cx="202.1" cy="155.4" r="0.8" opacity="0.73"/><circle cx="126.7" cy="159.4" r="0.6" opacity="0.41"/><circle cx="176.3" cy="134.4" r="0.6" opacity="0.42"/><circle cx="227.1" cy="250.3" r="0.6" opacity="0.57"/><circle cx="223.9" cy="208.4" r="0.7" opacity="0.52"/><circle cx="142.0" cy="116.4" r="0.9" opacity="0.63"/><circle cx="147.9" cy="173.6" r="0.6" opacity="0.49"/><circle cx="134.9" cy="186.3" r="0.7" opacity="0.80"/><circle cx="175.8" cy="153.4" r="0.6" opacity="0.45"/><circle cx="125.6" cy="153.9" r="0.9" opacity="0.38"/><circle cx="137.3" cy="177.3" r="1.0" opacity="0.46"/><circle cx="136.5" cy="231.3" r="0.9" opacity="0.45"/><circle cx="123.2" cy="121.4" r="0.8" opacity="0.60"/><circle cx="148.9" cy="140.5" r="0.8" opacity="0.70"/><circle cx="219.9" cy="201.1" r="0.6" opacity="0.38"/><circle cx="223.9" cy="246.4" r="0.7" opacity="0.36"/><circle cx="161.2" cy="133.6" r="0.7" opacity="0.65"/><circle cx="171.6" cy="190.3" r="0.6" opacity="0.71"/><circle cx="220.5" cy="246.6" r="0.7" opacity="0.71"/><circle cx="163.1" cy="228.2" r="0.5" opacity="0.79"/><circle cx="180.5" cy="192.7" r="0.8" opacity="0.36"/><circle cx="136.8" cy="123.8" r="0.6" opacity="0.76"/><circle cx="188.8" cy="191.4" r="0.9" opacity="0.40"/><circle cx="118.7" cy="127.1" r="0.7" opacity="0.60"/><circle cx="149.7" cy="126.9" r="0.7" opacity="0.42"/><circle cx="190.9" cy="245.9" r="0.6" opacity="0.64"/><circle cx="221.8" cy="258.2" r="0.7" opacity="0.56"/><circle cx="144.5" cy="161.2" r="0.7" opacity="0.84"/><circle cx="218.9" cy="254.2" r="0.9" opacity="0.77"/><circle cx="119.8" cy="190.6" r="1.0" opacity="0.82"/><circle cx="145.7" cy="175.2" r="0.8" opacity="0.53"/><circle cx="169.9" cy="188.5" r="0.5" opacity="0.42"/><circle cx="219.6" cy="249.6" r="0.9" opacity="0.37"/><circle cx="197.4" cy="150.1" r="0.8" opacity="0.49"/><circle cx="184.3" cy="256.1" r="0.8" opacity="0.48"/><circle cx="181.4" cy="177.1" r="1.0" opacity="0.49"/><circle cx="153.1" cy="211.5" r="0.6" opacity="0.65"/><circle cx="148.2" cy="182.4" r="0.8" opacity="0.42"/><circle cx="129.1" cy="128.4" r="0.6" opacity="0.55"/><circle cx="150.8" cy="146.5" r="0.5" opacity="0.62"/><circle cx="223.6" cy="205.5" r="0.8" opacity="0.68"/><circle cx="139.3" cy="221.6" r="0.7" opacity="0.62"/><circle cx="193.6" cy="182.8" r="0.7" opacity="0.47"/><circle cx="142.0" cy="189.8" r="0.7" opacity="0.64"/><circle cx="114.3" cy="164.0" r="0.9" opacity="0.47"/><circle cx="186.2" cy="186.4" r="0.6" opacity="0.84"/><circle cx="151.8" cy="231.6" r="0.6" opacity="0.38"/><circle cx="121.0" cy="169.7" r="0.7" opacity="0.72"/><circle cx="127.2" cy="143.5" r="1.0" opacity="0.72"/><circle cx="133.2" cy="161.5" r="0.7" opacity="0.69"/><circle cx="194.1" cy="244.1" r="0.9" opacity="0.61"/><circle cx="210.3" cy="226.9" r="0.9" opacity="0.59"/><circle cx="216.3" cy="221.3" r="1.0" opacity="0.41"/><circle cx="213.8" cy="201.6" r="0.7" opacity="0.83"/><circle cx="188.2" cy="174.6" r="0.9" opacity="0.79"/><circle cx="192.9" cy="168.4" r="0.7" opacity="0.58"/><circle cx="164.3" cy="196.7" r="0.7" opacity="0.51"/><circle cx="216.6" cy="244.0" r="0.7" opacity="0.57"/><circle cx="137.1" cy="156.2" r="0.6" opacity="0.64"/><circle cx="224.1" cy="242.2" r="1.0" opacity="0.45"/><circle cx="169.0" cy="253.8" r="0.5" opacity="0.37"/><circle cx="187.3" cy="187.3" r="1.0" opacity="0.74"/><circle cx="181.0" cy="190.5" r="0.8" opacity="0.54"/><circle cx="160.0" cy="203.0" r="0.7" opacity="0.82"/><circle cx="202.0" cy="191.8" r="0.5" opacity="0.54"/><circle cx="165.7" cy="197.6" r="0.8" opacity="0.79"/><circle cx="170.9" cy="207.8" r="1.0" opacity="0.52"/><circle cx="182.7" cy="238.6" r="0.6" opacity="0.51"/><circle cx="180.4" cy="125.1" r="0.9" opacity="0.69"/><circle cx="221.0" cy="266.7" r="0.9" opacity="0.56"/><circle cx="133.4" cy="154.0" r="0.8" opacity="0.60"/><circle cx="137.6" cy="136.6" r="0.8" opacity="0.65"/><circle cx="167.1" cy="234.1" r="0.7" opacity="0.70"/><circle cx="178.5" cy="196.3" r="0.6" opacity="0.67"/><circle cx="188.6" cy="173.5" r="0.6" opacity="0.43"/><circle cx="126.0" cy="134.7" r="0.8" opacity="0.76"/><circle cx="193.7" cy="237.1" r="0.5" opacity="0.36"/><circle cx="207.2" cy="164.2" r="0.6" opacity="0.48"/><circle cx="189.6" cy="163.4" r="0.7" opacity="0.54"/></g>
</g></g>
</g>
<path d="M434.3 974.3v-4.3M434.3 608.2v4.3M434.3 608.2h4.3M800.4 608.2h-4.3M495.3 974.3v-4.3M495.3 608.2v4.3M434.3 669.2h4.3M800.4 669.2h-4.3M556.3 974.3v-4.3M556.3 608.2v4.3M434.3 730.2h4.3M800.4 730.2h-4.3M617.4 974.3v-4.3M617.4 608.2v4.3M434.3 791.3h4.3M800.4 791.3h-4.3M678.4 974.3v-4.3M678.4 608.2v4.3M434.3 852.3h4.3M800.4 852.3h-4.3M739.4 974.3v-4.3M739.4 608.2v4.3M434.3 913.3h4.3M800.4 913.3h-4.3M800.4 974.3v-4.3M800.4 608.2v4.3M434.3 974.3h4.3M800.4 974.3h-4.3" stroke="#262626" stroke-width="1.6" fill="none"/>
<rect x="434.3" y="608.2" width="366.1" height="366.1" fill="none" stroke="#262626" stroke-width="2.1"/>
<text x="408.6" y="619.1" font-size="34.5">0</text>
<text x="425.9" y="1005.8" font-size="34.5">0</text>
<text x="408.6" y="680.1" font-size="34.5">3</text>
<text x="486.9" y="1005.8" font-size="34.5">3</text>
<text x="408.6" y="741.1" font-size="34.5">6</text>
<text x="547.9" y="1005.8" font-size="34.5">6</text>
<text x="408.6" y="802.2" font-size="34.5">9</text>
<text x="609.0" y="1005.8" font-size="34.5">9</text>
<text x="391.2" y="863.2" font-size="34.5" textLength="34.6" lengthAdjust="spacingAndGlyphs">12</text>
<text x="661.7" y="1005.8" font-size="34.5" textLength="34.6" lengthAdjust="spacingAndGlyphs">12</text>
<text x="391.2" y="924.2" font-size="34.5" textLength="34.6" lengthAdjust="spacingAndGlyphs">15</text>
<text x="722.7" y="1005.8" font-size="34.5" textLength="34.6" lengthAdjust="spacingAndGlyphs">15</text>
<text x="391.2" y="985.2" font-size="34.5" textLength="34.6" lengthAdjust="spacingAndGlyphs">18</text>
<text x="783.7" y="1005.8" font-size="34.5" textLength="34.6" lengthAdjust="spacingAndGlyphs">18</text>
<text x="551.4" y="1047.8" font-size="34.5" font-style="italic" textLength="28.5" lengthAdjust="spacingAndGlyphs">X</text>
<text x="597.4" y="1047.8" font-size="34.5" textLength="86" lengthAdjust="spacingAndGlyphs">(mm)</text>
<text transform="translate(371.3 853.4) rotate(-90)" font-size="34.5" font-style="italic" textLength="22.5" lengthAdjust="spacingAndGlyphs">Z</text>
<text transform="translate(371.3 814.0) rotate(-90)" font-size="34.5" textLength="84.4" lengthAdjust="spacingAndGlyphs">(mm)</text>
<text x="328.2" y="628.2" font-size="34.5" textLength="45.0" lengthAdjust="spacingAndGlyphs">(d)</text>
<text x="523.5" y="584.2" font-size="35.5" font-style="italic" textLength="13.5" lengthAdjust="spacingAndGlyphs">f</text>
<text x="538.6" y="588.7" font-size="27.5" textLength="48.2" lengthAdjust="spacingAndGlyphs">max</text>
<text x="595.2" y="587.1" font-size="32" textLength="25.5" lengthAdjust="spacingAndGlyphs">=</text>
<text x="630.8" y="584.2" font-size="34.5" textLength="46.0" lengthAdjust="spacingAndGlyphs">2.5</text>
<text x="692.3" y="584.2" font-size="34.5" textLength="77.0" lengthAdjust="spacingAndGlyphs">MHz</text>
<rect x="823.5" y="608.2" width="24.8" height="367.5" fill="url(#cb)" stroke="#262626" stroke-width="2.1"/>
<text x="854.4" y="616.8" font-size="35.3" textLength="76.0" lengthAdjust="spacingAndGlyphs">1800</text>
<text x="854.4" y="662.8" font-size="35.3" textLength="76.0" lengthAdjust="spacingAndGlyphs">1700</text>
<text x="854.4" y="708.7" font-size="35.3" textLength="76.0" lengthAdjust="spacingAndGlyphs">1600</text>
<text x="854.4" y="754.7" font-size="35.3" textLength="76.0" lengthAdjust="spacingAndGlyphs">1500</text>
<text x="854.4" y="800.6" font-size="35.3" textLength="76.0" lengthAdjust="spacingAndGlyphs">1400</text>
<text x="854.4" y="846.6" font-size="35.3" textLength="76.0" lengthAdjust="spacingAndGlyphs">1300</text>
<text x="854.4" y="892.5" font-size="35.3" textLength="76.0" lengthAdjust="spacingAndGlyphs">1200</text>
<text x="854.4" y="938.5" font-size="35.3" textLength="76.0" lengthAdjust="spacingAndGlyphs">1100</text>
<text x="854.4" y="984.4" font-size="35.3" textLength="76.0" lengthAdjust="spacingAndGlyphs">1000</text>
<path d="M848.3 654.2h-4.3M848.3 700.1h-4.3M848.3 746.1h-4.3M848.3 792.0h-4.3M848.3 838.0h-4.3M848.3 883.9h-4.3M848.3 929.9h-4.3" stroke="#262626" stroke-width="1.6" fill="none"/>
<text transform="translate(980.0 936.4) rotate(-90)" font-size="34.5" textLength="122.6" lengthAdjust="spacingAndGlyphs">Density</text>
<text transform="translate(980.0 796.2) rotate(-90)" font-size="34.5" textLength="123.3" lengthAdjust="spacingAndGlyphs">(kg/m<tspan font-size="23" dy="-9.5">3</tspan><tspan dy="9.5">)</tspan></text>
</g>
<g id="panel-e">
<g clip-path="url(#clipe)">
<g filter="url(#cmE)">
<rect x="1164.1" y="568.1" width="446.1" height="446.1" fill="#000"/>
<g transform="translate(1204.1 608.1) scale(0.9966)" class="bw bwe">
<path class="w" d="M80.0 191.0C80.0 187.2 80.4 174.9 80.7 167.1C81.0 159.3 80.9 159.6 81.5 152.0C82.1 144.4 82.9 137.8 83.8 129.3C84.7 120.8 84.8 117.3 86.0 109.7C87.2 102.1 88.0 98.2 89.8 91.5C91.6 84.8 92.5 82.0 95.1 76.4C97.7 70.8 99.4 67.6 102.7 63.5C106.0 59.4 107.8 58.4 111.7 56.0C115.6 53.6 118.7 52.5 122.3 51.4C125.9 50.3 125.7 50.1 129.9 50.4C134.1 50.7 136.8 51.6 143.5 52.9C150.2 54.2 158.4 56.5 163.2 57.0C168.0 57.5 163.8 55.2 167.7 55.2C171.6 55.2 175.8 55.9 182.8 57.0C189.8 58.1 195.5 59.3 202.5 60.5C209.5 61.7 212.5 61.6 217.6 62.8C222.7 64.0 225.0 64.7 228.2 66.5C231.4 68.3 232.1 68.9 233.5 71.8C234.9 74.7 233.6 78.0 235.0 80.9C236.4 83.8 237.6 84.2 240.3 86.2C243.0 88.2 246.3 88.1 248.6 90.7C250.9 93.3 249.9 95.6 251.6 99.1C253.3 102.6 254.9 104.5 256.9 108.1C258.9 111.7 259.2 113.9 261.5 117.2C263.8 120.5 266.3 121.2 268.3 124.8C270.3 128.4 269.6 132.4 271.3 135.4C273.0 138.4 274.0 138.1 276.6 139.9C279.2 141.7 282.3 141.1 284.2 144.4C286.1 147.7 286.1 152.9 286.1 156.5C286.1 160.1 286.5 161.2 284.2 162.6C281.9 164.0 277.3 163.1 274.8 163.5C272.3 163.9 271.4 163.7 271.8 164.5C272.2 165.3 274.6 167.1 276.8 167.5C279.0 167.9 280.4 166.0 282.8 166.5C285.2 167.0 287.3 167.7 288.7 170.2C290.1 172.7 289.5 174.8 289.8 179.0C290.1 183.2 290.1 188.1 290.2 191.0C290.3 193.9 289.7 190.1 290.2 193.7C290.7 197.3 292.2 202.8 292.5 208.8C292.8 214.8 291.2 218.8 291.7 223.9C292.2 229.0 293.7 230.0 294.8 234.5C295.9 239.0 296.1 241.1 297.0 246.6C297.9 252.1 298.8 256.3 299.3 261.8C299.8 267.3 300.2 269.7 299.3 273.9C298.4 278.1 297.5 279.3 294.8 282.9C292.1 286.5 289.3 288.1 285.7 292.0C282.1 295.9 280.2 299.4 276.6 302.6C273.0 305.8 273.2 306.7 267.5 307.9C261.8 309.1 256.4 308.8 247.9 308.6C239.4 308.4 234.3 307.8 225.2 307.1C216.1 306.4 211.6 306.4 202.5 304.9C193.4 303.4 187.7 301.7 179.8 299.6C171.9 297.5 169.2 295.1 163.2 294.3C157.2 293.5 156.3 296.6 149.6 295.8C142.9 295.0 137.5 292.6 129.9 290.5C122.3 288.4 118.1 287.9 111.7 285.2C105.3 282.5 102.6 280.4 98.1 276.9C93.6 273.4 92.3 272.0 89.1 267.8C85.9 263.6 84.3 260.5 82.2 255.7C80.1 250.9 79.9 248.4 78.5 243.6C77.1 238.8 75.9 235.7 75.4 231.5C74.9 227.3 75.3 226.0 76.2 222.4C77.1 218.8 78.5 217.6 80.0 213.4C81.5 209.2 83.7 206.8 83.8 201.3C83.9 195.8 81.5 188.2 80.7 186.1C79.9 184.0 80.0 194.8 80.0 191.0Z"/>
<path class="k" d="M161.4 108.3C162.8 108.1 164.4 108.6 165.8 109.8C167.3 110.9 169.5 113.7 170.3 115.2C171.1 116.8 169.5 118.0 170.8 119.2C172.1 120.4 175.9 121.8 178.3 122.7C180.6 123.6 183.5 123.5 185.2 124.7C186.9 125.8 186.5 127.8 188.2 129.6C189.8 131.4 192.8 133.3 195.1 135.6C197.4 137.9 200.1 140.9 202.1 143.5C204.0 146.2 206.6 149.5 207.0 151.4C207.4 153.4 204.4 154.1 204.5 155.4C204.7 156.7 206.9 158.1 208.0 159.4C209.1 160.7 210.3 161.9 211.0 163.3C211.7 164.8 212.3 166.8 212.0 168.3C211.7 169.8 209.3 171.0 209.0 172.3C208.7 173.6 209.2 174.6 210.0 176.2C210.8 177.9 213.1 181.3 214.0 182.2C214.8 183.1 214.6 180.5 215.0 181.9C215.3 183.4 215.1 188.0 216.0 190.8C216.8 193.7 218.0 196.0 219.9 198.8C221.8 201.6 226.7 205.2 227.4 207.7C228.0 210.2 225.0 212.2 223.9 213.7C222.8 215.2 220.9 215.6 220.9 216.6C220.9 217.6 223.9 218.0 223.9 219.6C223.9 221.3 221.9 224.4 220.9 226.6C219.9 228.7 216.8 231.9 217.9 232.5C219.1 233.2 226.2 229.9 227.9 230.5C229.5 231.2 228.2 234.8 227.9 236.5C227.5 238.1 225.7 238.8 225.9 240.5C226.0 242.1 228.7 244.1 228.9 246.4C229.0 248.7 226.2 253.3 226.9 254.3C227.5 255.3 231.0 253.2 232.8 252.4C234.6 251.5 236.1 249.5 237.8 249.4C239.4 249.2 241.6 250.0 242.7 251.4C243.9 252.7 244.7 255.5 244.7 257.3C244.7 259.1 245.1 261.5 242.7 262.3C240.4 263.1 234.0 262.4 230.8 262.3C227.7 262.1 225.5 260.3 223.9 261.3C222.2 262.3 222.6 267.6 220.9 268.2C219.3 268.9 216.3 266.1 214.0 265.3C211.7 264.4 209.5 263.8 207.0 263.3C204.5 262.8 199.9 263.1 199.1 262.3C198.3 261.5 202.1 259.5 202.1 258.3C202.1 257.2 201.4 256.0 199.1 255.3C196.8 254.7 191.6 254.0 188.2 254.3C184.7 254.7 181.1 256.7 178.3 257.3C175.4 258.0 174.1 259.0 171.3 258.3C168.5 257.6 162.2 254.8 161.4 253.3C160.6 251.9 165.8 250.4 166.3 249.4C166.8 248.4 166.2 247.7 164.4 247.4C162.5 247.1 158.4 248.1 155.4 247.4C152.5 246.7 149.5 245.2 146.5 243.4C143.5 241.6 139.1 238.8 137.6 236.5C136.0 234.2 136.7 232.2 137.1 229.5C137.4 226.9 138.6 223.1 139.6 220.6C140.5 218.1 143.7 216.0 142.5 214.7C141.4 213.3 135.4 214.5 132.6 212.7C129.8 210.9 128.0 206.4 125.7 203.7C123.4 201.1 120.7 199.3 118.7 196.8C116.7 194.3 114.3 191.2 113.8 188.9C113.3 186.5 114.6 184.6 115.7 182.9C116.9 181.3 119.1 179.3 120.7 178.9C122.4 178.6 124.3 178.9 125.7 180.9C127.0 182.9 127.3 188.3 128.6 190.8C130.0 193.4 132.0 196.6 133.6 196.3C135.3 196.0 138.1 191.1 138.6 188.9C139.1 186.6 137.6 185.2 136.6 182.9C135.6 180.6 133.4 176.4 132.6 175.0C131.8 173.5 132.6 174.1 131.6 174.3C130.6 174.5 128.3 176.2 126.7 176.2C125.0 176.2 123.4 174.4 121.7 174.3C120.0 174.1 118.2 175.6 116.7 175.3C115.2 174.9 113.3 173.4 112.8 172.3C112.3 171.1 112.8 169.1 113.8 168.3C114.8 167.5 117.4 167.8 118.7 167.3C120.0 166.8 121.9 166.5 121.7 165.3C121.5 164.2 118.7 162.2 117.7 160.4C116.7 158.6 115.8 156.4 115.7 154.4C115.7 152.4 116.7 150.8 117.2 148.5C117.7 146.2 118.3 143.2 118.7 140.5C119.1 137.9 119.2 134.7 119.7 132.6C120.2 130.5 121.8 129.3 121.7 128.1C121.6 127.0 119.6 126.8 119.2 125.6C118.8 124.5 118.5 123.0 119.2 121.2C120.0 119.4 122.1 116.6 123.7 114.7C125.3 112.9 126.3 111.5 128.6 110.3C131.0 109.0 135.9 107.4 137.6 107.3C139.2 107.2 138.4 108.4 138.6 109.8C138.7 111.2 137.9 115.2 138.6 115.7C139.2 116.2 141.2 112.6 142.5 112.7C143.9 112.9 145.8 115.4 146.5 116.7C147.2 118.0 146.2 120.2 147.0 120.7C147.8 121.2 150.2 120.5 151.5 119.7C152.7 118.9 153.4 117.2 154.4 115.7C155.4 114.2 156.3 112.0 157.4 110.8C158.6 109.5 160.0 108.4 161.4 108.3Z"/>
<path class="k" d="M137.6 107.0C133.9 105.5 131.0 108.6 128.6 109.8C126.3 111.0 125.3 112.4 123.7 114.2C122.0 116.1 119.6 118.5 118.7 120.7C117.8 122.9 118.4 125.0 118.2 127.6C118.1 130.3 118.1 133.4 117.7 136.6C117.4 139.7 116.7 143.5 116.2 146.5C115.7 149.5 115.2 151.6 114.8 154.4C114.3 157.2 113.7 160.4 113.3 163.3C112.9 166.3 112.4 170.0 112.3 172.3C112.2 174.5 112.6 174.2 112.8 177.0C112.9 179.7 112.4 185.4 113.3 188.9C114.1 192.3 115.8 195.1 117.7 197.8C119.6 200.4 122.4 202.1 124.7 204.7C127.0 207.4 129.6 210.7 131.6 213.7C133.6 216.6 135.8 219.5 136.6 222.6C137.3 225.7 135.8 229.9 136.1 232.5C136.4 235.2 136.7 236.5 138.6 238.5C140.5 240.5 144.5 242.8 147.5 244.4C150.5 246.1 153.6 247.4 156.4 248.4C159.2 249.4 161.7 249.1 164.4 250.4C167.0 251.7 169.0 255.2 172.3 256.3C175.6 257.5 179.9 257.5 184.2 257.3C188.5 257.2 194.1 258.1 198.1 255.3C202.1 252.5 208.0 246.2 208.0 240.5C208.0 234.7 204.7 227.2 198.1 220.6C191.5 214.0 176.6 207.4 168.3 200.8C160.1 194.2 150.1 187.7 148.5 180.9C146.8 174.2 156.4 168.8 158.4 160.4C160.4 152.0 161.7 137.6 160.4 130.6C159.1 123.7 154.3 122.6 150.5 118.7C146.7 114.8 141.2 108.5 137.6 107.0Z"/>
<path opacity="0.9" class="w" d="M126.2 181.4C126.8 179.2 131.0 176.2 133.1 177.4C135.2 178.7 136.2 186.1 138.6 188.9C140.9 191.6 146.3 192.6 147.0 194.0C147.7 195.5 144.7 197.3 142.5 197.6C140.4 197.9 136.3 197.1 134.1 196.0C131.9 194.9 130.5 193.3 129.1 190.8C127.8 188.4 125.5 183.7 126.2 181.4Z"/>
<polyline class="wl" points="147.3,204.5 148.7,209.9 152.7,216.8 153.1,222.8 153.6,228.5 157.6,233.0 164.6,234.8" stroke-width="4.9"/>
<polyline class="wl" points="164.6,234.8 172.3,234.6 180.2,234.1 187.4,235.1" stroke-width="3.2"/>
<polyline class="wl" points="138.6,214.3 145.7,212.7 148.0,208.7" stroke-width="2.4"/>
<path opacity="0.8" class="w" d="M124.7 124.7C125.1 123.7 127.5 122.6 128.6 121.2C129.8 119.8 130.2 117.6 131.6 116.2C133.0 114.8 136.1 112.5 137.1 112.7C138.1 113.0 137.9 116.3 137.6 117.7C137.2 119.1 136.2 120.4 135.1 121.2C133.9 121.9 132.1 121.3 130.6 122.2C129.1 123.1 127.2 126.2 126.2 126.6C125.2 127.1 124.3 125.6 124.7 124.7Z"/>
<polyline class="wl" points="141.5,124.7 139.1,133.6 133.6,138.0 127.2,142.5" stroke-width="1.4"/>
<polyline class="wl" points="163.4,123.5 168.3,128.8 176.3,136.8 184.2,143.3 191.0,149.3 193.7,154.9 195.1,160.4" stroke-width="4.3"/>
<path class="w" d="M189.7 160.4C190.5 159.0 192.5 157.3 193.9 157.2C195.3 157.1 196.6 158.6 198.1 159.9C199.6 161.2 202.0 163.4 203.1 165.1C204.1 166.9 204.4 168.6 204.2 170.3C204.0 172.0 203.1 174.4 201.9 175.5C200.6 176.5 197.9 177.3 196.6 176.4C195.3 175.6 195.3 172.3 193.9 170.5C192.6 168.7 189.4 167.2 188.7 165.5C188.0 163.8 188.8 161.8 189.7 160.4Z"/>
<path class="k" d="M197.1 160.4C197.6 159.6 199.3 158.9 201.1 158.9C202.9 158.9 206.4 159.5 208.0 160.4C209.7 161.2 210.3 162.5 211.0 163.8C211.7 165.2 212.3 167.0 212.0 168.3C211.7 169.6 210.1 171.5 209.0 171.8C207.9 172.1 206.4 171.2 205.5 170.3C204.7 169.4 204.7 167.4 204.0 166.3C203.4 165.3 202.6 164.3 201.6 163.8C200.6 163.3 198.8 163.9 198.1 163.3C197.4 162.8 196.6 161.1 197.1 160.4Z"/>
<polyline class="wl" points="163.9,135.1 158.4,140.5 151.5,144.5 146.3,147.3 145.5,153.4" stroke-width="2.6"/>
<polyline class="wl" points="170.8,147.7 171.1,155.4" stroke-width="1.6"/>
<polyline class="wl" points="169.8,162.4 167.3,168.3 165.4,175.3" stroke-width="1.8"/>
<ellipse class="w" cx="135.6" cy="169.3" rx="2.0" ry="4.2" transform="rotate(20 135.6 169.3)"/>
<ellipse class="w" cx="158.9" cy="185.4" rx="4.5" ry="1.2" transform="rotate(-35 158.9 185.4)"/>
<ellipse class="w" cx="194.9" cy="185.9" rx="2.2" ry="1.0"/>
<ellipse class="w" cx="178.7" cy="193.8" rx="6.7" ry="2.2" transform="rotate(-38 178.7 193.8)"/>
<ellipse class="w" cx="168.6" cy="225.1" rx="1.8" ry="1.8"/>
<ellipse class="w" cx="177.3" cy="245.9" rx="4.5" ry="1.3" transform="rotate(-10 177.3 245.9)"/>
<polyline class="wl" points="211.0,225.1 218.9,215.8" stroke-width="2.0"/>
<polyline class="wl" points="214.0,237.0 219.9,233.0 226.4,230.5" stroke-width="1.6"/>
<polyline class="wl" points="205.5,232.0 209.5,235.5 208.8,240.9 205.5,249.4 201.6,256.3 199.6,260.8" stroke-width="1.9"/>
<polyline class="wl" points="193.6,235.5 197.1,244.4" stroke-width="1.5"/>
<polyline class="wl" points="186.2,242.6 195.1,241.9" stroke-width="1.5"/>
<polyline class="wl" points="201.1,233.0 198.1,235.5" stroke-width="1.5"/>
<polygon class="w" points="164.4,171.0 168.3,171.0 165.4,175.5"/>
<path class="k" d="M139.1 96.9C139.7 96.1 140.3 96.0 142.5 95.4C144.8 94.7 149.5 93.2 152.5 92.9C155.4 92.6 159.7 92.7 160.4 93.4C161.1 94.1 158.4 95.8 156.4 96.9C154.4 97.9 151.3 98.9 148.5 99.9C145.7 100.8 141.2 102.3 139.6 102.3C137.9 102.3 138.6 100.8 138.6 99.9C138.5 98.9 138.4 97.6 139.1 96.9Z"/>
<polygon class="k" points="163.9,89.9 167.3,90.4 169.3,93.4 165.8,92.9"/>
<ellipse class="k" cx="164.7" cy="98.4" rx="1.0" ry="1.0"/>
<polygon class="k" points="179.2,102.3 183.2,102.3 182.7,104.8 180.2,106.8"/>
<ellipse class="k" cx="183.0" cy="116.7" rx="1.0" ry="1.0"/>
<path class="k" d="M192.1 109.8C192.5 108.9 194.6 109.1 196.1 109.8C197.6 110.4 200.1 112.3 201.1 113.7C202.1 115.1 202.6 117.3 202.1 118.2C201.6 119.1 199.4 119.7 198.1 119.2C196.8 118.7 195.1 116.8 194.1 115.2C193.1 113.7 191.8 110.7 192.1 109.8Z"/><path opacity="0.75" class="w" d="M195.0 112.3C195.1 111.9 196.1 112.0 196.7 112.3C197.4 112.6 198.5 113.4 199.0 114.1C199.4 114.7 199.6 115.7 199.4 116.1C199.2 116.5 198.2 116.7 197.6 116.5C197.0 116.3 196.3 115.4 195.9 114.7C195.4 114.0 194.8 112.7 195.0 112.3Z"/>
<ellipse class="k" cx="199.6" cy="88.4" rx="1.0" ry="1.0"/>
<ellipse class="k" cx="223.4" cy="89.7" rx="1.0" ry="2.2"/>
<ellipse class="k" cx="220.7" cy="100.0" rx="2.0" ry="1.2"/>
<ellipse class="k" cx="208.3" cy="107.6" rx="1.7" ry="1.7"/>
<ellipse class="k" cx="221.4" cy="110.5" rx="2.2" ry="1.0"/>
<ellipse class="k" cx="230.6" cy="116.2" rx="2.8" ry="1.0" transform="rotate(35 230.6 116.2)"/>
<ellipse class="k" cx="231.3" cy="85.8" rx="0.8" ry="0.8"/>
<ellipse class="k" cx="213.5" cy="141.0" rx="3.0" ry="4.5"/><ellipse class="w" cx="213.5" cy="141.0" rx="0.8" ry="2.3" opacity="0.75"/>
<polyline class="kl" points="215.5,132.6 214.5,137.6" stroke-width="3.6"/>
<polyline class="kl" points="230.3,157.9 234.3,158.9" stroke-width="2.6"/>
<ellipse class="k" cx="237.8" cy="169.3" rx="0.8" ry="0.8"/>
<polyline class="kl" points="212.6,141.5 214.5,135.3 223.9,135.6 233.4,134.9 243.8,136.8 249.4,141.5 253.2,149.1 256.1,154.7" stroke-width="5.8"/>
<polyline class="kl" points="236.2,141.5 240.0,147.2 243.8,152.8 246.6,159.4" stroke-width="6.2"/>
<polyline class="kl" points="227.7,137.7 234.3,142.4" stroke-width="5.2"/>
<ellipse class="k" cx="240.9" cy="124.2" rx="3.6" ry="3.4"/><ellipse class="w" cx="240.9" cy="124.2" rx="1.4" ry="1.2" opacity="0.6"/>
<ellipse class="k" cx="266.0" cy="141.5" rx="2.8" ry="1.5" transform="rotate(-40 266.0 141.5)"/>
<polygon class="k" points="253.7,154.3 256.1,151.4 257.2,154.7"/>
<ellipse class="k" cx="232.0" cy="158.5" rx="2.4" ry="0.6" transform="rotate(15 232.0 158.5)"/>
<path class="k" d="M243.8 158.0C244.3 156.8 247.4 156.9 248.5 158.0C249.6 159.2 250.9 163.9 250.4 165.1C249.8 166.4 246.3 166.8 245.2 165.6C244.1 164.4 243.2 159.3 243.8 158.0Z"/><path opacity="0.75" class="w" d="M245.8 160.4C246.0 160.0 247.1 160.0 247.5 160.4C247.9 160.8 248.4 162.5 248.2 162.9C248.0 163.3 246.7 163.5 246.3 163.1C246.0 162.6 245.7 160.9 245.8 160.4Z"/>
<polygon class="k" points="219.7,163.2 223.0,164.2 228.2,174.1 221.1,173.6"/>
<ellipse class="k" cx="209.9" cy="166.1" rx="2.6" ry="4.7"/>
<polygon class="k" points="220.1,171.0 227.7,171.0 228.2,173.8 221.1,173.4"/>
<ellipse class="k" cx="246.9" cy="178.1" rx="4.5" ry="4.5"/><ellipse class="w" cx="246.9" cy="178.1" rx="2.2" ry="2.2" opacity="0.7"/>
<ellipse class="k" cx="259.8" cy="175.7" rx="2.8" ry="2.4" transform="rotate(20 259.8 175.7)"/>
<path class="k" d="M265.5 183.8C265.0 182.5 267.6 180.6 269.3 180.0C271.0 179.3 274.6 178.8 275.9 180.0C277.2 181.2 277.5 185.8 276.9 187.1C276.2 188.3 274.0 188.1 272.1 187.5C270.2 187.0 266.0 185.0 265.5 183.8Z"/><path opacity="0.6" class="w" d="M269.4 183.7C269.2 183.2 270.2 182.4 270.9 182.2C271.6 181.9 273.0 181.7 273.5 182.2C274.0 182.7 274.2 184.5 273.9 185.0C273.7 185.5 272.8 185.4 272.0 185.2C271.3 185.0 269.6 184.2 269.4 183.7Z"/>
<path class="k" d="M229.1 189.0C229.0 186.8 230.8 185.5 232.4 184.7C234.1 183.9 237.2 183.4 239.0 184.2C240.9 185.1 243.0 187.7 243.3 189.9C243.6 192.1 242.6 196.2 240.9 197.5C239.3 198.7 235.3 198.9 233.4 197.5C231.4 196.0 229.3 191.1 229.1 189.0Z"/><path opacity="0.8" class="w" d="M233.1 189.8C233.0 188.8 233.9 188.2 234.6 187.9C235.3 187.5 236.8 187.3 237.6 187.7C238.4 188.0 239.3 189.2 239.5 190.2C239.6 191.2 239.2 193.0 238.4 193.6C237.7 194.2 235.9 194.2 235.0 193.6C234.1 193.0 233.2 190.7 233.1 189.8Z"/>
<path class="k" d="M244.7 203.6C245.2 202.6 247.2 200.5 249.4 199.4C251.6 198.2 255.0 196.7 257.9 196.5C260.9 196.4 265.5 197.5 267.4 198.4C269.3 199.4 269.3 200.9 269.3 202.2C269.3 203.5 269.0 205.4 267.4 206.4C265.8 207.5 262.0 208.4 259.8 208.3C257.6 208.3 256.4 206.4 254.2 206.0C252.0 205.5 248.2 205.9 246.6 205.5C245.0 205.1 244.2 204.6 244.7 203.6Z"/><path opacity="0.75" class="w" d="M252.1 203.2C252.3 202.8 253.1 201.9 254.1 201.4C255.0 200.9 256.4 200.3 257.6 200.2C258.9 200.2 260.8 200.6 261.6 201.0C262.4 201.4 262.4 202.1 262.4 202.6C262.4 203.2 262.3 204.0 261.6 204.4C261.0 204.8 259.4 205.2 258.4 205.2C257.5 205.2 257.0 204.4 256.1 204.2C255.1 204.0 253.5 204.2 252.9 204.0C252.2 203.8 251.9 203.6 252.1 203.2Z"/>
<ellipse class="w" cx="265.5" cy="201.7" rx="1.1" ry="0.9"/>
<ellipse class="k" cx="232.9" cy="215.0" rx="2.6" ry="6.1" transform="rotate(-8 232.9 215.0)"/>
<path class="k" d="M251.3 222.5C252.2 221.6 252.4 221.0 254.2 222.0C255.9 223.1 260.3 226.6 261.7 228.7C263.1 230.7 263.0 233.0 262.7 234.3C262.4 235.7 261.1 236.4 259.8 236.7C258.6 237.0 256.8 236.9 255.1 236.2C253.4 235.5 250.5 233.9 249.4 232.4C248.4 231.0 248.7 229.4 249.0 227.7C249.3 226.1 250.5 223.5 251.3 222.5Z"/>
<polygon class="k" points="283.5,221.1 288.7,225.3 281.1,225.8"/>
<polygon class="k" points="286.8,211.6 288.7,213.2 286.8,214.7"/>
<polygon class="k" points="236.2,230.1 239.0,232.4 244.2,232.9 241.9,237.2 237.2,242.4 232.9,241.9 234.3,236.2 232.4,233.9"/>
<ellipse class="k" cx="121.7" cy="221.6" rx="3.0" ry="6.4"/>
<ellipse class="k" cx="131.1" cy="240.0" rx="1.4" ry="3.5"/>
<ellipse class="k" cx="170.3" cy="264.8" rx="1.8" ry="1.6"/>
<path class="k" d="M181.2 266.2C181.6 265.4 182.7 263.5 184.2 262.8C185.7 262.0 188.5 261.5 190.2 261.8C191.8 262.1 193.5 263.8 194.1 264.8C194.7 265.7 195.6 266.7 193.6 267.2C191.6 267.7 184.3 267.9 182.2 267.7C180.2 267.6 180.9 267.1 181.2 266.2Z"/>
<ellipse class="k" cx="226.4" cy="270.7" rx="2.5" ry="1.4"/>
<ellipse class="k" cx="109.8" cy="180.4" rx="1.8" ry="0.8"/>
<ellipse class="k" cx="110.2" cy="180.7" rx="1.4" ry="1.2"/>
<ellipse class="k" cx="165.4" cy="74.9" rx="1.1" ry="1.1"/>
<ellipse class="k" cx="223.7" cy="74.9" rx="1.1" ry="1.1"/>
<ellipse opacity="0.8" class="w" cx="237.8" cy="257.1" rx="4.2" ry="3.2"/>
<g class="w"><circle cx="172.5" cy="197.4" r="1.0" opacity="0.58"/><circle cx="179.8" cy="201.8" r="0.6" opacity="0.61"/><circle cx="195.9" cy="234.9" r="0.5" opacity="0.50"/><circle cx="199.1" cy="206.4" r="0.6" opacity="0.36"/><circle cx="137.9" cy="146.2" r="0.5" opacity="0.58"/><circle cx="170.9" cy="242.9" r="0.8" opacity="0.67"/><circle cx="178.7" cy="213.9" r="0.7" opacity="0.49"/><circle cx="154.4" cy="144.3" r="0.6" opacity="0.39"/><circle cx="124.3" cy="160.8" r="1.0" opacity="0.73"/><circle cx="128.3" cy="146.9" r="0.6" opacity="0.38"/><circle cx="186.6" cy="179.3" r="0.6" opacity="0.72"/><circle cx="130.1" cy="210.9" r="0.6" opacity="0.56"/><circle cx="140.9" cy="150.7" r="1.0" opacity="0.75"/><circle cx="140.6" cy="170.7" r="0.9" opacity="0.67"/><circle cx="140.9" cy="148.9" r="0.9" opacity="0.51"/><circle cx="124.7" cy="201.1" r="0.6" opacity="0.65"/><circle cx="161.8" cy="180.2" r="1.0" opacity="0.59"/><circle cx="188.6" cy="246.8" r="0.6" opacity="0.43"/><circle cx="145.7" cy="137.8" r="0.9" opacity="0.82"/><circle cx="168.4" cy="124.0" r="0.5" opacity="0.83"/><circle cx="144.2" cy="220.7" r="0.6" opacity="0.76"/><circle cx="191.5" cy="154.5" r="0.6" opacity="0.71"/><circle cx="121.8" cy="144.1" r="0.8" opacity="0.78"/><circle cx="193.8" cy="152.4" r="1.0" opacity="0.45"/><circle cx="136.0" cy="166.6" r="0.8" opacity="0.42"/><circle cx="204.0" cy="201.4" r="0.6" opacity="0.37"/><circle cx="205.3" cy="262.2" r="0.5" opacity="0.67"/><circle cx="176.4" cy="224.9" r="0.7" opacity="0.85"/><circle cx="122.7" cy="195.2" r="0.9" opacity="0.80"/><circle cx="210.0" cy="220.5" r="0.9" opacity="0.81"/><circle cx="159.2" cy="217.6" r="1.0" opacity="0.79"/><circle cx="167.8" cy="234.5" r="0.9" opacity="0.64"/><circle cx="195.2" cy="168.8" r="0.8" opacity="0.65"/><circle cx="208.9" cy="169.8" r="0.9" opacity="0.64"/><circle cx="170.9" cy="242.2" r="0.5" opacity="0.73"/><circle cx="176.2" cy="144.3" r="0.8" opacity="0.60"/><circle cx="193.9" cy="255.4" r="0.6" opacity="0.36"/><circle cx="152.5" cy="216.4" r="0.6" opacity="0.43"/><circle cx="171.1" cy="250.8" r="0.7" opacity="0.68"/><circle cx="139.0" cy="176.6" r="0.9" opacity="0.81"/><circle cx="189.7" cy="158.2" r="0.6" opacity="0.60"/><circle cx="223.2" cy="243.9" r="0.9" opacity="0.83"/><circle cx="149.3" cy="134.5" r="0.7" opacity="0.49"/><circle cx="141.0" cy="173.9" r="0.8" opacity="0.60"/><circle cx="154.4" cy="242.3" r="1.0" opacity="0.58"/><circle cx="206.3" cy="199.1" r="0.7" opacity="0.75"/><circle cx="131.4" cy="114.8" r="0.8" opacity="0.57"/><circle cx="195.9" cy="212.7" r="0.9" opacity="0.83"/><circle cx="175.5" cy="136.0" r="0.5" opacity="0.59"/><circle cx="148.7" cy="162.9" r="0.8" opacity="0.61"/><circle cx="193.8" cy="229.0" r="0.7" opacity="0.75"/><circle cx="129.9" cy="180.3" r="0.8" opacity="0.80"/><circle cx="162.5" cy="198.8" r="0.9" opacity="0.75"/><circle cx="198.7" cy="140.3" r="0.9" opacity="0.76"/><circle cx="197.4" cy="222.8" r="0.6" opacity="0.80"/><circle cx="183.6" cy="234.6" r="0.7" opacity="0.80"/><circle cx="123.7" cy="178.3" r="0.8" opacity="0.73"/><circle cx="157.0" cy="234.1" r="0.6" opacity="0.42"/><circle cx="180.9" cy="223.7" r="0.9" opacity="0.69"/><circle cx="142.0" cy="192.1" r="0.6" opacity="0.71"/><circle cx="197.1" cy="191.4" r="0.9" opacity="0.63"/><circle cx="153.9" cy="168.6" r="0.9" opacity="0.80"/><circle cx="188.4" cy="139.6" r="0.8" opacity="0.60"/><circle cx="165.6" cy="236.2" r="0.8" opacity="0.60"/><circle cx="183.9" cy="173.9" r="1.0" opacity="0.81"/><circle cx="148.3" cy="183.4" r="0.6" opacity="0.57"/><circle cx="220.4" cy="252.2" r="0.7" opacity="0.51"/><circle cx="138.0" cy="206.7" r="1.0" opacity="0.41"/><circle cx="138.4" cy="143.9" r="0.8" opacity="0.51"/><circle cx="159.7" cy="207.0" r="0.6" opacity="0.72"/><circle cx="129.0" cy="189.4" r="0.6" opacity="0.45"/><circle cx="182.8" cy="177.6" r="0.7" opacity="0.56"/><circle cx="182.6" cy="133.0" r="0.6" opacity="0.67"/><circle cx="197.0" cy="192.5" r="0.9" opacity="0.66"/><circle cx="210.5" cy="237.7" r="1.0" opacity="0.51"/><circle cx="144.4" cy="224.2" r="0.6" opacity="0.40"/><circle cx="165.9" cy="217.6" r="0.5" opacity="0.45"/><circle cx="202.8" cy="254.0" r="1.0" opacity="0.41"/><circle cx="179.5" cy="229.3" r="0.8" opacity="0.69"/><circle cx="137.7" cy="118.6" r="0.6" opacity="0.37"/><circle cx="185.6" cy="190.1" r="0.8" opacity="0.42"/><circle cx="137.1" cy="140.1" r="0.9" opacity="0.85"/><circle cx="173.7" cy="230.4" r="0.7" opacity="0.58"/><circle cx="180.8" cy="176.5" r="0.8" opacity="0.36"/><circle cx="205.3" cy="243.2" r="0.6" opacity="0.58"/><circle cx="138.5" cy="133.9" r="0.8" opacity="0.36"/><circle cx="205.8" cy="245.8" r="0.8" opacity="0.55"/><circle cx="191.9" cy="188.5" r="1.0" opacity="0.75"/><circle cx="211.0" cy="232.5" r="0.9" opacity="0.55"/><circle cx="204.5" cy="230.8" r="0.9" opacity="0.55"/><circle cx="157.9" cy="182.7" r="0.5" opacity="0.53"/><circle cx="197.1" cy="207.7" r="0.6" opacity="0.82"/><circle cx="200.7" cy="161.7" r="0.8" opacity="0.63"/><circle cx="183.1" cy="170.0" r="1.0" opacity="0.67"/><circle cx="205.3" cy="229.9" r="1.0" opacity="0.36"/><circle cx="194.0" cy="226.2" r="0.6" opacity="0.55"/><circle cx="119.4" cy="138.7" r="0.7" opacity="0.40"/><circle cx="185.4" cy="189.0" r="1.0" opacity="0.63"/><circle cx="191.6" cy="229.5" r="0.5" opacity="0.82"/><circle cx="133.9" cy="183.2" r="0.6" opacity="0.60"/><circle cx="182.3" cy="203.5" r="0.7" opacity="0.49"/><circle cx="199.2" cy="197.5" r="0.6" opacity="0.71"/><circle cx="145.1" cy="114.2" r="0.6" opacity="0.73"/><circle cx="164.2" cy="251.7" r="0.9" opacity="0.38"/><circle cx="243.2" cy="259.3" r="0.5" opacity="0.80"/><circle cx="169.4" cy="184.2" r="1.0" opacity="0.47"/><circle cx="208.1" cy="182.7" r="1.0" opacity="0.76"/><circle cx="195.1" cy="180.6" r="0.6" opacity="0.38"/><circle cx="182.5" cy="127.3" r="0.7" opacity="0.68"/><circle cx="172.9" cy="149.5" r="0.8" opacity="0.56"/><circle cx="215.4" cy="192.7" r="1.0" opacity="0.83"/><circle cx="216.3" cy="207.9" r="0.7" opacity="0.49"/><circle cx="203.2" cy="198.2" r="0.8" opacity="0.67"/><circle cx="148.5" cy="175.7" r="0.8" opacity="0.40"/><circle cx="185.4" cy="208.9" r="0.7" opacity="0.59"/><circle cx="140.6" cy="162.6" r="0.9" opacity="0.77"/><circle cx="122.6" cy="126.6" r="0.9" opacity="0.66"/><circle cx="168.8" cy="148.8" r="0.9" opacity="0.53"/><circle cx="155.7" cy="195.6" r="0.9" opacity="0.81"/><circle cx="169.2" cy="166.7" r="0.5" opacity="0.79"/><circle cx="123.1" cy="120.7" r="0.8" opacity="0.59"/><circle cx="203.2" cy="155.4" r="0.9" opacity="0.39"/><circle cx="140.9" cy="213.9" r="0.5" opacity="0.50"/><circle cx="208.4" cy="219.0" r="0.6" opacity="0.42"/><circle cx="160.0" cy="224.1" r="0.7" opacity="0.41"/><circle cx="206.4" cy="198.9" r="1.0" opacity="0.82"/><circle cx="154.7" cy="171.6" r="1.0" opacity="0.80"/><circle cx="145.5" cy="165.5" r="0.7" opacity="0.53"/><circle cx="165.0" cy="169.7" r="0.6" opacity="0.63"/><circle cx="115.7" cy="190.3" r="0.8" opacity="0.63"/><circle cx="184.9" cy="234.1" r="0.5" opacity="0.39"/><circle cx="210.0" cy="252.0" r="0.5" opacity="0.67"/><circle cx="198.4" cy="146.8" r="0.6" opacity="0.73"/><circle cx="181.6" cy="230.4" r="0.7" opacity="0.52"/><circle cx="177.9" cy="193.8" r="0.9" opacity="0.70"/><circle cx="221.8" cy="214.6" r="0.9" opacity="0.75"/><circle cx="222.8" cy="250.3" r="1.0" opacity="0.67"/><circle cx="181.9" cy="221.6" r="0.9" opacity="0.56"/><circle cx="168.3" cy="130.8" r="0.9" opacity="0.85"/><circle cx="162.3" cy="134.3" r="0.6" opacity="0.56"/><circle cx="120.6" cy="156.9" r="0.6" opacity="0.67"/><circle cx="121.0" cy="181.1" r="0.8" opacity="0.80"/><circle cx="137.1" cy="142.3" r="0.6" opacity="0.71"/><circle cx="191.3" cy="143.3" r="0.6" opacity="0.49"/><circle cx="153.9" cy="195.5" r="0.9" opacity="0.59"/><circle cx="176.5" cy="142.9" r="0.5" opacity="0.82"/><circle cx="182.4" cy="190.3" r="0.6" opacity="0.85"/><circle cx="199.5" cy="145.5" r="0.5" opacity="0.59"/><circle cx="161.8" cy="235.5" r="0.9" opacity="0.65"/><circle cx="133.5" cy="132.5" r="0.7" opacity="0.48"/><circle cx="147.9" cy="193.3" r="0.6" opacity="0.74"/><circle cx="224.4" cy="239.6" r="0.5" opacity="0.48"/><circle cx="176.1" cy="182.7" r="1.0" opacity="0.64"/><circle cx="184.5" cy="191.9" r="0.6" opacity="0.77"/><circle cx="153.9" cy="157.3" r="0.5" opacity="0.50"/><circle cx="174.4" cy="222.4" r="0.7" opacity="0.69"/><circle cx="126.7" cy="170.7" r="0.7" opacity="0.83"/><circle cx="222.3" cy="212.5" r="0.5" opacity="0.54"/><circle cx="187.2" cy="181.0" r="0.5" opacity="0.85"/><circle cx="194.1" cy="154.0" r="0.7" opacity="0.62"/><circle cx="152.1" cy="161.6" r="0.7" opacity="0.68"/><circle cx="146.6" cy="139.5" r="0.9" opacity="0.51"/><circle cx="208.3" cy="160.7" r="0.9" opacity="0.40"/><circle cx="131.4" cy="122.5" r="0.8" opacity="0.70"/><circle cx="136.5" cy="172.0" r="0.9" opacity="0.65"/><circle cx="124.7" cy="143.8" r="0.6" opacity="0.41"/><circle cx="166.5" cy="119.0" r="1.0" opacity="0.56"/><circle cx="180.3" cy="211.5" r="0.9" opacity="0.76"/><circle cx="163.7" cy="160.6" r="0.7" opacity="0.36"/><circle cx="165.6" cy="219.9" r="1.0" opacity="0.74"/><circle cx="199.9" cy="205.2" r="0.5" opacity="0.52"/><circle cx="157.9" cy="212.0" r="0.6" opacity="0.54"/><circle cx="180.0" cy="234.2" r="0.9" opacity="0.66"/><circle cx="159.3" cy="187.8" r="0.6" opacity="0.71"/><circle cx="207.2" cy="241.8" r="0.6" opacity="0.82"/><circle cx="195.5" cy="139.1" r="0.5" opacity="0.47"/><circle cx="188.8" cy="219.5" r="0.7" opacity="0.81"/><circle cx="160.4" cy="181.8" r="0.6" opacity="0.84"/><circle cx="184.5" cy="197.5" r="0.8" opacity="0.48"/><circle cx="220.6" cy="204.1" r="0.6" opacity="0.76"/><circle cx="144.6" cy="199.6" r="0.9" opacity="0.44"/><circle cx="243.0" cy="258.5" r="0.8" opacity="0.50"/><circle cx="201.3" cy="226.0" r="0.7" opacity="0.65"/><circle cx="139.1" cy="182.6" r="0.6" opacity="0.54"/><circle cx="187.9" cy="135.2" r="0.8" opacity="0.48"/><circle cx="187.7" cy="160.7" r="0.8" opacity="0.37"/><circle cx="174.8" cy="173.5" r="0.8" opacity="0.69"/><circle cx="212.8" cy="228.3" r="0.7" opacity="0.85"/><circle cx="223.4" cy="244.9" r="0.7" opacity="0.57"/><circle cx="187.5" cy="253.0" r="0.8" opacity="0.61"/><circle cx="169.8" cy="252.8" r="0.7" opacity="0.38"/><circle cx="208.5" cy="252.2" r="0.9" opacity="0.65"/><circle cx="129.2" cy="179.2" r="0.8" opacity="0.55"/><circle cx="182.2" cy="145.8" r="0.7" opacity="0.55"/><circle cx="143.9" cy="118.3" r="1.0" opacity="0.83"/><circle cx="200.6" cy="246.7" r="0.7" opacity="0.75"/><circle cx="142.0" cy="227.5" r="0.8" opacity="0.80"/><circle cx="129.1" cy="193.8" r="1.0" opacity="0.35"/><circle cx="145.0" cy="155.5" r="0.7" opacity="0.38"/><circle cx="165.2" cy="164.7" r="0.8" opacity="0.37"/><circle cx="153.4" cy="187.5" r="1.0" opacity="0.84"/><circle cx="175.1" cy="140.5" r="0.6" opacity="0.81"/><circle cx="175.1" cy="135.0" r="0.9" opacity="0.85"/><circle cx="139.4" cy="209.1" r="0.6" opacity="0.79"/><circle cx="119.4" cy="124.4" r="0.9" opacity="0.51"/><circle cx="204.6" cy="258.2" r="0.7" opacity="0.39"/><circle cx="142.2" cy="156.7" r="0.9" opacity="0.45"/><circle cx="136.7" cy="145.2" r="0.8" opacity="0.75"/><circle cx="161.9" cy="213.8" r="0.9" opacity="0.64"/><circle cx="143.0" cy="155.7" r="1.0" opacity="0.68"/><circle cx="149.3" cy="210.3" r="0.5" opacity="0.84"/><circle cx="170.9" cy="192.3" r="0.8" opacity="0.37"/><circle cx="191.9" cy="153.1" r="0.6" opacity="0.75"/><circle cx="124.3" cy="153.2" r="0.9" opacity="0.47"/><circle cx="149.6" cy="195.5" r="0.6" opacity="0.80"/><circle cx="173.7" cy="228.1" r="0.7" opacity="0.81"/><circle cx="178.7" cy="136.2" r="0.8" opacity="0.67"/><circle cx="160.2" cy="213.2" r="0.9" opacity="0.61"/><circle cx="179.5" cy="243.4" r="0.8" opacity="0.61"/><circle cx="193.0" cy="145.2" r="0.7" opacity="0.74"/><circle cx="216.6" cy="234.6" r="0.6" opacity="0.59"/><circle cx="142.0" cy="200.7" r="0.7" opacity="0.37"/><circle cx="191.5" cy="222.3" r="0.8" opacity="0.79"/><circle cx="136.5" cy="131.7" r="0.5" opacity="0.60"/><circle cx="170.1" cy="178.4" r="0.6" opacity="0.75"/><circle cx="187.8" cy="194.7" r="0.9" opacity="0.47"/><circle cx="132.1" cy="157.3" r="0.5" opacity="0.51"/><circle cx="194.7" cy="191.9" r="0.6" opacity="0.64"/><circle cx="135.4" cy="148.3" r="0.6" opacity="0.70"/><circle cx="222.4" cy="233.9" r="0.5" opacity="0.56"/><circle cx="160.9" cy="142.1" r="1.0" opacity="0.37"/><circle cx="177.4" cy="229.8" r="1.0" opacity="0.42"/><circle cx="172.9" cy="227.2" r="0.5" opacity="0.47"/><circle cx="164.6" cy="155.3" r="0.7" opacity="0.39"/><circle cx="213.5" cy="225.4" r="0.6" opacity="0.48"/><circle cx="185.6" cy="146.2" r="0.7" opacity="0.82"/><circle cx="160.8" cy="161.5" r="1.0" opacity="0.66"/><circle cx="118.0" cy="172.2" r="0.8" opacity="0.38"/><circle cx="158.1" cy="219.1" r="0.9" opacity="0.65"/><circle cx="164.6" cy="243.0" r="0.7" opacity="0.74"/><circle cx="141.2" cy="163.2" r="0.6" opacity="0.62"/><circle cx="134.4" cy="140.1" r="0.6" opacity="0.58"/><circle cx="153.5" cy="179.2" r="1.0" opacity="0.69"/><circle cx="163.3" cy="119.0" r="0.8" opacity="0.53"/><circle cx="136.8" cy="149.5" r="0.7" opacity="0.81"/><circle cx="160.4" cy="132.0" r="1.0" opacity="0.53"/><circle cx="213.8" cy="223.7" r="1.0" opacity="0.36"/><circle cx="155.3" cy="169.2" r="0.5" opacity="0.79"/><circle cx="155.7" cy="231.3" r="0.8" opacity="0.38"/><circle cx="164.8" cy="145.6" r="0.5" opacity="0.43"/><circle cx="154.0" cy="175.5" r="0.8" opacity="0.42"/><circle cx="208.5" cy="214.5" r="0.6" opacity="0.45"/><circle cx="149.8" cy="222.0" r="0.7" opacity="0.54"/><circle cx="151.3" cy="162.8" r="0.6" opacity="0.37"/><circle cx="187.4" cy="237.5" r="1.0" opacity="0.50"/><circle cx="201.2" cy="255.2" r="0.6" opacity="0.69"/><circle cx="200.7" cy="261.0" r="0.9" opacity="0.47"/><circle cx="169.2" cy="170.5" r="0.5" opacity="0.54"/><circle cx="156.1" cy="187.3" r="0.6" opacity="0.43"/><circle cx="165.9" cy="183.8" r="0.6" opacity="0.68"/><circle cx="144.4" cy="122.3" r="0.7" opacity="0.56"/><circle cx="132.7" cy="201.1" r="0.9" opacity="0.63"/><circle cx="164.4" cy="165.9" r="0.5" opacity="0.55"/><circle cx="120.0" cy="187.0" r="0.8" opacity="0.58"/><circle cx="155.7" cy="148.1" r="0.5" opacity="0.52"/><circle cx="147.3" cy="214.8" r="0.6" opacity="0.58"/><circle cx="160.6" cy="200.0" r="1.0" opacity="0.74"/><circle cx="195.6" cy="207.2" r="0.7" opacity="0.56"/><circle cx="149.2" cy="240.8" r="0.9" opacity="0.54"/><circle cx="130.7" cy="188.9" r="0.7" opacity="0.53"/><circle cx="138.2" cy="144.1" r="0.8" opacity="0.47"/><circle cx="164.7" cy="145.8" r="0.7" opacity="0.68"/><circle cx="185.1" cy="207.8" r="0.8" opacity="0.77"/><circle cx="154.1" cy="222.5" r="0.8" opacity="0.69"/><circle cx="133.8" cy="207.3" r="0.7" opacity="0.63"/><circle cx="161.5" cy="153.3" r="0.9" opacity="0.62"/><circle cx="144.0" cy="147.4" r="0.7" opacity="0.44"/><circle cx="180.6" cy="127.6" r="0.5" opacity="0.38"/><circle cx="127.6" cy="180.0" r="0.9" opacity="0.59"/><circle cx="146.3" cy="189.0" r="0.9" opacity="0.55"/><circle cx="207.2" cy="159.9" r="0.7" opacity="0.73"/><circle cx="224.0" cy="240.6" r="0.8" opacity="0.56"/><circle cx="206.1" cy="207.6" r="0.9" opacity="0.75"/><circle cx="129.3" cy="168.0" r="0.8" opacity="0.47"/><circle cx="137.1" cy="109.5" r="0.8" opacity="0.82"/><circle cx="203.5" cy="174.8" r="0.8" opacity="0.55"/><circle cx="128.4" cy="114.1" r="0.6" opacity="0.72"/><circle cx="184.4" cy="185.0" r="0.7" opacity="0.50"/><circle cx="218.4" cy="242.3" r="0.6" opacity="0.55"/><circle cx="194.3" cy="230.5" r="1.0" opacity="0.54"/><circle cx="204.4" cy="195.2" r="0.9" opacity="0.42"/><circle cx="135.9" cy="124.5" r="1.0" opacity="0.48"/><circle cx="177.2" cy="126.7" r="0.7" opacity="0.36"/><circle cx="187.4" cy="130.4" r="0.8" opacity="0.49"/><circle cx="142.8" cy="184.9" r="0.7" opacity="0.48"/><circle cx="123.1" cy="136.7" r="0.7" opacity="0.85"/><circle cx="176.7" cy="174.0" r="0.9" opacity="0.55"/><circle cx="120.4" cy="195.9" r="0.8" opacity="0.66"/><circle cx="171.3" cy="241.5" r="0.9" opacity="0.44"/><circle cx="128.4" cy="119.3" r="0.7" opacity="0.73"/><circle cx="153.7" cy="190.1" r="0.5" opacity="0.46"/><circle cx="182.3" cy="237.7" r="0.9" opacity="0.72"/><circle cx="165.5" cy="236.5" r="0.9" opacity="0.73"/><circle cx="188.9" cy="143.9" r="0.7" opacity="0.53"/><circle cx="199.5" cy="237.8" r="0.7" opacity="0.67"/><circle cx="159.5" cy="152.2" r="1.0" opacity="0.51"/><circle cx="125.2" cy="161.2" r="0.9" opacity="0.46"/><circle cx="210.8" cy="195.2" r="0.8" opacity="0.44"/><circle cx="126.7" cy="130.3" r="0.7" opacity="0.57"/><circle cx="114.0" cy="188.2" r="0.7" opacity="0.51"/><circle cx="155.1" cy="228.7" r="0.6" opacity="0.84"/><circle cx="141.8" cy="173.0" r="0.9" opacity="0.44"/><circle cx="148.8" cy="216.3" r="1.0" opacity="0.51"/><circle cx="137.0" cy="164.8" r="1.0" opacity="0.42"/><circle cx="196.5" cy="168.1" r="0.8" opacity="0.46"/><circle cx="194.1" cy="250.1" r="0.9" opacity="0.66"/><circle cx="179.4" cy="198.7" r="0.6" opacity="0.77"/><circle cx="203.8" cy="180.2" r="0.8" opacity="0.56"/><circle cx="163.5" cy="144.3" r="0.8" opacity="0.64"/><circle cx="195.5" cy="179.2" r="0.8" opacity="0.65"/><circle cx="165.8" cy="246.9" r="0.6" opacity="0.85"/><circle cx="177.6" cy="145.0" r="0.9" opacity="0.67"/><circle cx="145.9" cy="237.2" r="0.7" opacity="0.62"/><circle cx="149.7" cy="210.9" r="0.5" opacity="0.63"/><circle cx="144.7" cy="236.0" r="0.9" opacity="0.74"/><circle cx="185.3" cy="253.1" r="0.9" opacity="0.43"/><circle cx="161.0" cy="123.4" r="0.5" opacity="0.52"/><circle cx="128.3" cy="136.5" r="0.7" opacity="0.77"/><circle cx="194.2" cy="252.4" r="0.5" opacity="0.84"/><circle cx="140.0" cy="208.6" r="0.9" opacity="0.71"/><circle cx="138.8" cy="214.9" r="0.7" opacity="0.36"/><circle cx="157.6" cy="158.0" r="0.8" opacity="0.49"/><circle cx="192.3" cy="219.1" r="0.6" opacity="0.41"/><circle cx="204.3" cy="182.4" r="0.6" opacity="0.41"/><circle cx="159.9" cy="138.9" r="1.0" opacity="0.70"/><circle cx="209.9" cy="165.3" r="0.7" opacity="0.55"/><circle cx="132.1" cy="208.9" r="0.7" opacity="0.76"/><circle cx="166.7" cy="180.8" r="0.8" opacity="0.82"/><circle cx="158.5" cy="220.5" r="0.6" opacity="0.64"/><circle cx="150.6" cy="244.8" r="0.8" opacity="0.58"/><circle cx="210.9" cy="204.1" r="0.7" opacity="0.38"/><circle cx="168.1" cy="152.6" r="0.7" opacity="0.83"/><circle cx="151.4" cy="219.1" r="0.8" opacity="0.47"/><circle cx="167.1" cy="128.6" r="0.9" opacity="0.48"/><circle cx="168.3" cy="162.3" r="0.9" opacity="0.78"/><circle cx="190.7" cy="195.2" r="0.5" opacity="0.80"/><circle cx="124.4" cy="165.8" r="0.7" opacity="0.71"/><circle cx="201.1" cy="162.6" r="0.9" opacity="0.82"/><circle cx="174.7" cy="165.5" r="0.7" opacity="0.51"/><circle cx="201.3" cy="204.7" r="1.0" opacity="0.84"/><circle cx="222.1" cy="211.9" r="0.9" opacity="0.85"/><circle cx="121.6" cy="181.7" r="0.7" opacity="0.68"/><circle cx="140.4" cy="166.8" r="0.6" opacity="0.55"/><circle cx="134.8" cy="211.7" r="0.8" opacity="0.72"/><circle cx="146.2" cy="237.9" r="0.9" opacity="0.74"/><circle cx="128.6" cy="182.7" r="0.5" opacity="0.78"/><circle cx="237.4" cy="251.5" r="0.5" opacity="0.53"/><circle cx="183.5" cy="193.2" r="0.6" opacity="0.74"/><circle cx="152.6" cy="188.9" r="0.6" opacity="0.63"/><circle cx="129.9" cy="121.5" r="0.8" opacity="0.50"/><circle cx="167.4" cy="116.0" r="0.6" opacity="0.58"/><circle cx="186.4" cy="181.2" r="0.9" opacity="0.40"/><circle cx="166.4" cy="205.8" r="0.9" opacity="0.83"/><circle cx="209.7" cy="222.0" r="0.6" opacity="0.62"/><circle cx="197.6" cy="243.7" r="0.5" opacity="0.56"/><circle cx="123.1" cy="149.3" r="0.6" opacity="0.81"/><circle cx="156.2" cy="186.0" r="0.8" opacity="0.79"/><circle cx="178.9" cy="252.8" r="0.7" opacity="0.50"/><circle cx="161.3" cy="176.4" r="0.7" opacity="0.53"/><circle cx="169.6" cy="179.8" r="0.5" opacity="0.77"/><circle cx="120.9" cy="192.2" r="0.8" opacity="0.55"/><circle cx="142.2" cy="123.3" r="0.7" opacity="0.51"/><circle cx="176.6" cy="144.4" r="0.9" opacity="0.59"/><circle cx="114.0" cy="172.7" r="1.0" opacity="0.35"/><circle cx="161.0" cy="203.5" r="0.7" opacity="0.50"/><circle cx="193.2" cy="202.2" r="0.7" opacity="0.60"/><circle cx="180.9" cy="228.6" r="0.5" opacity="0.40"/><circle cx="146.0" cy="150.8" r="0.9" opacity="0.56"/><circle cx="150.5" cy="216.7" r="0.5" opacity="0.84"/><circle cx="154.6" cy="239.2" r="0.9" opacity="0.67"/><circle cx="185.6" cy="256.5" r="0.8" opacity="0.36"/><circle cx="211.9" cy="168.1" r="0.7" opacity="0.57"/><circle cx="128.3" cy="158.8" r="0.9" opacity="0.39"/><circle cx="200.7" cy="195.5" r="0.6" opacity="0.41"/><circle cx="186.7" cy="255.7" r="0.6" opacity="0.56"/><circle cx="183.5" cy="242.4" r="0.6" opacity="0.79"/><circle cx="169.8" cy="168.1" r="0.8" opacity="0.81"/><circle cx="177.9" cy="218.3" r="0.7" opacity="0.74"/><circle cx="134.7" cy="201.6" r="0.6" opacity="0.52"/><circle cx="134.4" cy="163.6" r="0.8" opacity="0.61"/><circle cx="164.0" cy="199.7" r="0.9" opacity="0.53"/><circle cx="189.8" cy="184.6" r="1.0" opacity="0.51"/><circle cx="147.2" cy="224.8" r="0.8" opacity="0.48"/><circle cx="162.6" cy="222.6" r="0.7" opacity="0.66"/><circle cx="177.0" cy="144.5" r="0.9" opacity="0.40"/><circle cx="153.2" cy="243.7" r="0.5" opacity="0.70"/><circle cx="187.7" cy="196.1" r="0.7" opacity="0.43"/><circle cx="139.1" cy="193.4" r="0.8" opacity="0.41"/><circle cx="213.7" cy="201.0" r="0.9" opacity="0.81"/><circle cx="203.7" cy="165.9" r="1.0" opacity="0.71"/><circle cx="151.2" cy="245.3" r="0.9" opacity="0.48"/><circle cx="183.7" cy="148.1" r="0.6" opacity="0.48"/><circle cx="130.1" cy="185.3" r="0.6" opacity="0.49"/><circle cx="149.4" cy="189.2" r="0.9" opacity="0.43"/><circle cx="226.2" cy="244.9" r="0.8" opacity="0.62"/><circle cx="209.6" cy="193.3" r="0.8" opacity="0.81"/><circle cx="160.6" cy="234.0" r="0.6" opacity="0.58"/><circle cx="161.7" cy="224.7" r="1.0" opacity="0.60"/><circle cx="187.5" cy="163.4" r="0.6" opacity="0.82"/><circle cx="225.6" cy="233.6" r="0.8" opacity="0.39"/><circle cx="182.3" cy="137.0" r="0.8" opacity="0.53"/><circle cx="178.6" cy="139.1" r="0.9" opacity="0.56"/><circle cx="177.0" cy="197.0" r="1.0" opacity="0.63"/><circle cx="130.6" cy="155.6" r="0.7" opacity="0.70"/><circle cx="238.1" cy="256.2" r="0.9" opacity="0.82"/><circle cx="115.4" cy="186.1" r="0.8" opacity="0.69"/><circle cx="193.6" cy="206.0" r="1.0" opacity="0.39"/><circle cx="227.4" cy="261.3" r="0.5" opacity="0.37"/><circle cx="222.3" cy="218.1" r="0.8" opacity="0.64"/><circle cx="212.7" cy="237.3" r="0.5" opacity="0.38"/><circle cx="217.6" cy="264.3" r="0.9" opacity="0.55"/><circle cx="157.0" cy="163.1" r="0.5" opacity="0.74"/><circle cx="147.4" cy="201.5" r="0.8" opacity="0.52"/><circle cx="201.8" cy="180.5" r="0.6" opacity="0.79"/><circle cx="136.0" cy="131.4" r="0.6" opacity="0.59"/><circle cx="144.2" cy="212.6" r="0.6" opacity="0.61"/><circle cx="137.1" cy="144.7" r="0.7" opacity="0.51"/><circle cx="208.6" cy="215.8" r="0.9" opacity="0.62"/><circle cx="145.0" cy="142.4" r="0.7" opacity="0.84"/><circle cx="161.7" cy="164.7" r="1.0" opacity="0.85"/><circle cx="163.9" cy="129.1" r="0.9" opacity="0.74"/><circle cx="157.4" cy="234.5" r="0.7" opacity="0.49"/><circle cx="191.1" cy="226.6" r="0.7" opacity="0.76"/><circle cx="114.6" cy="187.6" r="0.7" opacity="0.38"/><circle cx="239.5" cy="257.2" r="0.7" opacity="0.82"/><circle cx="161.9" cy="126.6" r="0.6" opacity="0.82"/><circle cx="122.2" cy="137.0" r="0.7" opacity="0.37"/><circle cx="153.3" cy="136.7" r="0.6" opacity="0.61"/><circle cx="184.1" cy="198.7" r="0.9" opacity="0.61"/><circle cx="142.2" cy="119.6" r="0.7" opacity="0.73"/><circle cx="133.9" cy="160.5" r="0.8" opacity="0.50"/><circle cx="217.4" cy="263.8" r="0.7" opacity="0.65"/><circle cx="119.6" cy="133.5" r="0.6" opacity="0.72"/><circle cx="140.7" cy="110.4" r="0.6" opacity="0.75"/><circle cx="178.6" cy="212.4" r="0.7" opacity="0.44"/><circle cx="114.8" cy="156.3" r="0.5" opacity="0.48"/><circle cx="194.4" cy="166.7" r="0.7" opacity="0.66"/><circle cx="154.6" cy="164.7" r="0.9" opacity="0.64"/><circle cx="167.8" cy="194.2" r="0.7" opacity="0.52"/><circle cx="150.9" cy="134.8" r="0.9" opacity="0.47"/><circle cx="189.8" cy="132.7" r="1.0" opacity="0.49"/><circle cx="158.6" cy="197.3" r="0.7" opacity="0.81"/><circle cx="180.6" cy="168.3" r="0.5" opacity="0.60"/><circle cx="148.3" cy="199.7" r="0.8" opacity="0.58"/><circle cx="124.6" cy="187.4" r="0.7" opacity="0.67"/><circle cx="171.2" cy="120.9" r="0.9" opacity="0.47"/><circle cx="222.2" cy="235.7" r="0.6" opacity="0.80"/><circle cx="179.3" cy="175.9" r="0.8" opacity="0.82"/><circle cx="177.4" cy="184.9" r="0.6" opacity="0.77"/><circle cx="179.1" cy="162.4" r="0.6" opacity="0.46"/><circle cx="222.8" cy="236.6" r="1.0" opacity="0.81"/><circle cx="203.2" cy="235.6" r="0.9" opacity="0.75"/><circle cx="115.8" cy="189.7" r="0.7" opacity="0.75"/><circle cx="193.3" cy="253.9" r="1.0" opacity="0.67"/><circle cx="137.3" cy="219.0" r="0.9" opacity="0.84"/><circle cx="227.3" cy="231.0" r="0.9" opacity="0.79"/><circle cx="197.1" cy="186.5" r="0.7" opacity="0.53"/><circle cx="199.0" cy="232.1" r="0.8" opacity="0.61"/><circle cx="154.5" cy="151.2" r="0.6" opacity="0.67"/><circle cx="203.3" cy="258.9" r="0.7" opacity="0.81"/><circle cx="156.7" cy="152.2" r="0.8" opacity="0.59"/><circle cx="183.4" cy="183.4" r="0.9" opacity="0.47"/><circle cx="139.1" cy="200.8" r="0.6" opacity="0.51"/><circle cx="159.7" cy="192.1" r="1.0" opacity="0.67"/><circle cx="167.5" cy="172.8" r="0.6" opacity="0.59"/><circle cx="169.9" cy="217.6" r="0.9" opacity="0.63"/><circle cx="182.4" cy="137.8" r="0.9" opacity="0.38"/><circle cx="132.6" cy="196.0" r="0.6" opacity="0.71"/><circle cx="214.0" cy="211.5" r="0.9" opacity="0.58"/><circle cx="169.8" cy="124.4" r="0.7" opacity="0.83"/><circle cx="122.1" cy="150.7" r="0.8" opacity="0.57"/><circle cx="129.6" cy="175.8" r="0.8" opacity="0.72"/><circle cx="166.0" cy="211.8" r="0.8" opacity="0.66"/><circle cx="129.7" cy="116.1" r="0.7" opacity="0.36"/><circle cx="122.4" cy="170.2" r="0.7" opacity="0.40"/><circle cx="177.0" cy="201.9" r="0.7" opacity="0.84"/><circle cx="128.6" cy="156.2" r="0.6" opacity="0.78"/><circle cx="179.9" cy="173.3" r="0.7" opacity="0.79"/><circle cx="146.7" cy="234.6" r="0.9" opacity="0.57"/><circle cx="161.0" cy="177.6" r="0.7" opacity="0.51"/><circle cx="195.1" cy="173.5" r="0.7" opacity="0.74"/><circle cx="172.8" cy="183.5" r="0.9" opacity="0.58"/><circle cx="165.7" cy="215.3" r="0.9" opacity="0.50"/><circle cx="208.3" cy="260.1" r="0.8" opacity="0.68"/><circle cx="170.2" cy="212.5" r="0.6" opacity="0.74"/><circle cx="157.9" cy="221.8" r="0.5" opacity="0.56"/><circle cx="193.7" cy="142.8" r="0.7" opacity="0.85"/><circle cx="221.1" cy="242.1" r="0.7" opacity="0.65"/><circle cx="206.7" cy="229.9" r="0.9" opacity="0.64"/><circle cx="146.0" cy="220.8" r="0.8" opacity="0.62"/><circle cx="208.6" cy="260.2" r="0.6" opacity="0.63"/><circle cx="182.5" cy="187.0" r="0.6" opacity="0.66"/><circle cx="150.9" cy="237.0" r="0.7" opacity="0.42"/><circle cx="192.7" cy="181.4" r="0.8" opacity="0.85"/><circle cx="159.3" cy="229.4" r="0.5" opacity="0.50"/><circle cx="204.1" cy="218.4" r="0.9" opacity="0.54"/><circle cx="148.9" cy="165.0" r="0.8" opacity="0.36"/><circle cx="162.2" cy="213.1" r="0.6" opacity="0.51"/><circle cx="227.9" cy="257.5" r="0.6" opacity="0.44"/><circle cx="128.3" cy="121.1" r="0.9" opacity="0.72"/><circle cx="147.7" cy="186.0" r="0.8" opacity="0.36"/><circle cx="220.8" cy="245.6" r="0.6" opacity="0.70"/><circle cx="205.0" cy="161.5" r="0.9" opacity="0.46"/><circle cx="175.3" cy="157.8" r="0.7" opacity="0.76"/><circle cx="188.0" cy="205.4" r="1.0" opacity="0.46"/><circle cx="142.2" cy="207.0" r="0.6" opacity="0.83"/><circle cx="157.8" cy="178.1" r="0.7" opacity="0.76"/><circle cx="135.4" cy="164.5" r="0.9" opacity="0.46"/><circle cx="142.7" cy="165.9" r="0.6" opacity="0.71"/><circle cx="184.5" cy="201.1" r="0.5" opacity="0.37"/></g>
</g></g>
</g>
<path d="M1204.1 974.2v-4.3M1204.1 608.1v4.3M1204.1 608.1h4.3M1570.2 608.1h-4.3M1265.1 974.2v-4.3M1265.1 608.1v4.3M1204.1 669.1h4.3M1570.2 669.1h-4.3M1326.1 974.2v-4.3M1326.1 608.1v4.3M1204.1 730.1h4.3M1570.2 730.1h-4.3M1387.2 974.2v-4.3M1387.2 608.1v4.3M1204.1 791.2h4.3M1570.2 791.2h-4.3M1448.2 974.2v-4.3M1448.2 608.1v4.3M1204.1 852.2h4.3M1570.2 852.2h-4.3M1509.2 974.2v-4.3M1509.2 608.1v4.3M1204.1 913.2h4.3M1570.2 913.2h-4.3M1570.2 974.2v-4.3M1570.2 608.1v4.3M1204.1 974.2h4.3M1570.2 974.2h-4.3" stroke="#262626" stroke-width="1.6" fill="none"/>
<rect x="1204.1" y="608.1" width="366.1" height="366.1" fill="none" stroke="#262626" stroke-width="2.1"/>
<text x="1180.4" y="619.0" font-size="34.5">0</text>
<text x="1195.7" y="1005.7" font-size="34.5">0</text>
<text x="1180.4" y="680.0" font-size="34.5">3</text>
<text x="1256.7" y="1005.7" font-size="34.5">3</text>
<text x="1180.4" y="741.0" font-size="34.5">6</text>
<text x="1317.7" y="1005.7" font-size="34.5">6</text>
<text x="1180.4" y="802.1" font-size="34.5">9</text>
<text x="1378.8" y="1005.7" font-size="34.5">9</text>
<text x="1163.0" y="863.1" font-size="34.5" textLength="34.6" lengthAdjust="spacingAndGlyphs">12</text>
<text x="1431.5" y="1005.7" font-size="34.5" textLength="34.6" lengthAdjust="spacingAndGlyphs">12</text>
<text x="1163.0" y="924.1" font-size="34.5" textLength="34.6" lengthAdjust="spacingAndGlyphs">15</text>
<text x="1492.5" y="1005.7" font-size="34.5" textLength="34.6" lengthAdjust="spacingAndGlyphs">15</text>
<text x="1163.0" y="985.1" font-size="34.5" textLength="34.6" lengthAdjust="spacingAndGlyphs">18</text>
<text x="1553.5" y="1005.7" font-size="34.5" textLength="34.6" lengthAdjust="spacingAndGlyphs">18</text>
<text x="1321.2" y="1047.7" font-size="34.5" font-style="italic" textLength="28.5" lengthAdjust="spacingAndGlyphs">X</text>
<text x="1367.2" y="1047.7" font-size="34.5" textLength="86" lengthAdjust="spacingAndGlyphs">(mm)</text>
<text transform="translate(1141.1 853.3) rotate(-90)" font-size="34.5" font-style="italic" textLength="22.5" lengthAdjust="spacingAndGlyphs">Z</text>
<text transform="translate(1141.1 813.9) rotate(-90)" font-size="34.5" textLength="84.4" lengthAdjust="spacingAndGlyphs">(mm)</text>
<text x="1117.7" y="618.3" font-size="34.5" textLength="40.4" lengthAdjust="spacingAndGlyphs">(e)</text>
<text x="1275.6" y="587.8" font-size="35.5" font-style="italic" textLength="13.5" lengthAdjust="spacingAndGlyphs">f</text>
<text x="1290.7" y="592.3" font-size="27.5" textLength="48.2" lengthAdjust="spacingAndGlyphs">max</text>
<text x="1347.3" y="590.7" font-size="32" textLength="25.5" lengthAdjust="spacingAndGlyphs">=</text>
<text x="1382.9" y="587.8" font-size="34.5" textLength="46.0" lengthAdjust="spacingAndGlyphs">3.5</text>
<text x="1444.4" y="587.8" font-size="34.5" textLength="77.0" lengthAdjust="spacingAndGlyphs">MHz</text>
<rect x="1593.3" y="608.1" width="24.8" height="367.5" fill="url(#cb)" stroke="#262626" stroke-width="2.1"/>
<text x="1624.2" y="616.7" font-size="35.3" textLength="76.0" lengthAdjust="spacingAndGlyphs">1800</text>
<text x="1624.2" y="662.7" font-size="35.3" textLength="76.0" lengthAdjust="spacingAndGlyphs">1700</text>
<text x="1624.2" y="708.6" font-size="35.3" textLength="76.0" lengthAdjust="spacingAndGlyphs">1600</text>
<text x="1624.2" y="754.6" font-size="35.3" textLength="76.0" lengthAdjust="spacingAndGlyphs">1500</text>
<text x="1624.2" y="800.5" font-size="35.3" textLength="76.0" lengthAdjust="spacingAndGlyphs">1400</text>
<text x="1624.2" y="846.5" font-size="35.3" textLength="76.0" lengthAdjust="spacingAndGlyphs">1300</text>
<text x="1624.2" y="892.4" font-size="35.3" textLength="76.0" lengthAdjust="spacingAndGlyphs">1200</text>
<text x="1624.2" y="938.4" font-size="35.3" textLength="76.0" lengthAdjust="spacingAndGlyphs">1100</text>
<text x="1624.2" y="984.3" font-size="35.3" textLength="76.0" lengthAdjust="spacingAndGlyphs">1000</text>
<path d="M1618.1 654.1h-4.3M1618.1 700.0h-4.3M1618.1 746.0h-4.3M1618.1 791.9h-4.3M1618.1 837.9h-4.3M1618.1 883.8h-4.3M1618.1 929.8h-4.3" stroke="#262626" stroke-width="1.6" fill="none"/>
<text transform="translate(1749.1 914.2) rotate(-90)" font-size="34.5" textLength="123.5" lengthAdjust="spacingAndGlyphs">Density</text>
<text transform="translate(1749.1 772.9) rotate(-90)" font-size="34.5" textLength="124.2" lengthAdjust="spacingAndGlyphs">(kg/m<tspan font-size="23" dy="-9.5">3</tspan><tspan dy="9.5">)</tspan></text>
</g>
</svg></body></html>
